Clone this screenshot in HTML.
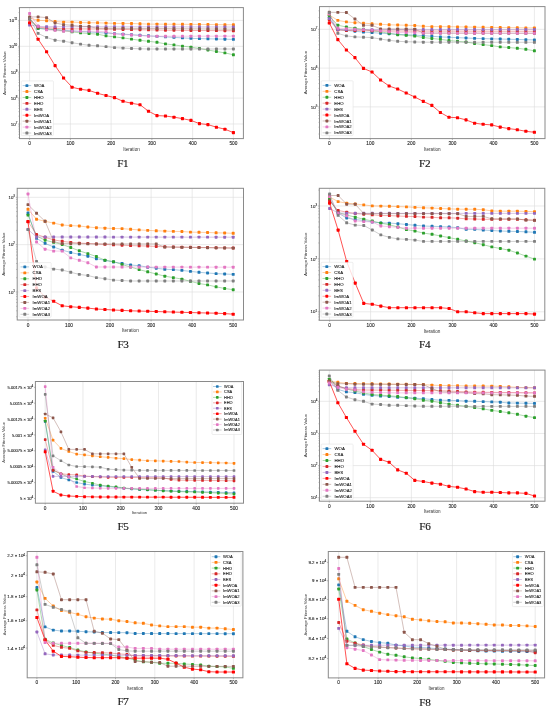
<!DOCTYPE html>
<html><head><meta charset="utf-8"><style>
html,body{margin:0;padding:0;background:#fff;width:550px;height:707px;overflow:hidden}
svg{display:block;will-change:transform}
.grid{stroke:#dcdcdc;stroke-width:0.6}
.frame{fill:none;stroke:#8a8a8a;stroke-width:1.0}
.tick{stroke:#8a8a8a;stroke-width:0.6}
.tl{font-family:"Liberation Sans",sans-serif;font-size:4.4px;fill:#222;stroke:#222;stroke-width:0.1}
.sup{font-size:3.0px}
.al{font-family:"Liberation Sans",sans-serif;font-size:4.5px;fill:#333}
.lt{font-family:"Liberation Sans",sans-serif;font-size:4.3px;fill:#111;stroke:#111;stroke-width:0.08}
.leg{fill:#fff;fill-opacity:0.8;stroke:#ddd;stroke-width:0.5}
.cap{font-family:"Liberation Serif",serif;font-size:11.2px;fill:#111;stroke:#111;stroke-width:0.14;letter-spacing:-0.3px}
</style></head>
<body><svg width="550" height="707" viewBox="0 0 550 707">
<line x1="29.6" y1="7.6" x2="29.6" y2="138.6" class="grid"/>
<line x1="70.36" y1="7.6" x2="70.36" y2="138.6" class="grid"/>
<line x1="111.12" y1="7.6" x2="111.12" y2="138.6" class="grid"/>
<line x1="151.88" y1="7.6" x2="151.88" y2="138.6" class="grid"/>
<line x1="192.64" y1="7.6" x2="192.64" y2="138.6" class="grid"/>
<line x1="233.4" y1="7.6" x2="233.4" y2="138.6" class="grid"/>
<line x1="19.5" y1="124" x2="243.4" y2="124" class="grid"/>
<line x1="19.5" y1="98.1" x2="243.4" y2="98.1" class="grid"/>
<line x1="19.5" y1="72.2" x2="243.4" y2="72.2" class="grid"/>
<line x1="19.5" y1="46.3" x2="243.4" y2="46.3" class="grid"/>
<line x1="19.5" y1="20.4" x2="243.4" y2="20.4" class="grid"/>
<polyline points="29.6,18.8 38.09,28.4 46.58,28.95 55.08,29.5 63.57,30.17 72.06,30.83 80.55,31.5 89.04,32.02 97.53,32.55 106.03,33.08 114.52,33.6 123.01,34.15 131.5,34.7 139.99,35.25 148.48,35.8 156.97,36.35 165.47,36.9 173.96,37.4 182.45,37.9 190.94,38.4 199.43,38.6 207.93,38.8 216.42,39 224.91,39.2 233.4,39.4" fill="none" stroke="#1f77b4" stroke-width="0.5" stroke-opacity="0.75" stroke-dasharray="none" stroke-dashoffset="0"/>
<rect x="28.15" y="17.35" width="2.9" height="2.9" rx="0.6" fill="#1f77b4"/>
<rect x="36.64" y="26.95" width="2.9" height="2.9" rx="0.6" fill="#1f77b4"/>
<rect x="45.13" y="27.5" width="2.9" height="2.9" rx="0.6" fill="#1f77b4"/>
<rect x="53.62" y="28.05" width="2.9" height="2.9" rx="0.6" fill="#1f77b4"/>
<rect x="62.12" y="28.72" width="2.9" height="2.9" rx="0.6" fill="#1f77b4"/>
<rect x="70.61" y="29.38" width="2.9" height="2.9" rx="0.6" fill="#1f77b4"/>
<rect x="79.1" y="30.05" width="2.9" height="2.9" rx="0.6" fill="#1f77b4"/>
<rect x="87.59" y="30.57" width="2.9" height="2.9" rx="0.6" fill="#1f77b4"/>
<rect x="96.08" y="31.1" width="2.9" height="2.9" rx="0.6" fill="#1f77b4"/>
<rect x="104.58" y="31.63" width="2.9" height="2.9" rx="0.6" fill="#1f77b4"/>
<rect x="113.07" y="32.15" width="2.9" height="2.9" rx="0.6" fill="#1f77b4"/>
<rect x="121.56" y="32.7" width="2.9" height="2.9" rx="0.6" fill="#1f77b4"/>
<rect x="130.05" y="33.25" width="2.9" height="2.9" rx="0.6" fill="#1f77b4"/>
<rect x="138.54" y="33.8" width="2.9" height="2.9" rx="0.6" fill="#1f77b4"/>
<rect x="147.03" y="34.35" width="2.9" height="2.9" rx="0.6" fill="#1f77b4"/>
<rect x="155.53" y="34.9" width="2.9" height="2.9" rx="0.6" fill="#1f77b4"/>
<rect x="164.02" y="35.45" width="2.9" height="2.9" rx="0.6" fill="#1f77b4"/>
<rect x="172.51" y="35.95" width="2.9" height="2.9" rx="0.6" fill="#1f77b4"/>
<rect x="181" y="36.45" width="2.9" height="2.9" rx="0.6" fill="#1f77b4"/>
<rect x="189.49" y="36.95" width="2.9" height="2.9" rx="0.6" fill="#1f77b4"/>
<rect x="197.98" y="37.15" width="2.9" height="2.9" rx="0.6" fill="#1f77b4"/>
<rect x="206.48" y="37.35" width="2.9" height="2.9" rx="0.6" fill="#1f77b4"/>
<rect x="214.97" y="37.55" width="2.9" height="2.9" rx="0.6" fill="#1f77b4"/>
<rect x="223.46" y="37.75" width="2.9" height="2.9" rx="0.6" fill="#1f77b4"/>
<rect x="231.95" y="37.95" width="2.9" height="2.9" rx="0.6" fill="#1f77b4"/>
<polyline points="29.6,18 38.09,20.3 46.58,20.7 55.08,21.5 63.57,22.1 72.06,22.1 80.55,22.5 89.04,22.7 97.53,22.8 106.03,23.1 114.52,23.4 123.01,23.45 131.5,23.5 139.99,23.8 148.48,24.1 156.97,24.15 165.47,24.2 173.96,24.25 182.45,24.3 190.94,24.35 199.43,24.4 207.93,24.5 216.42,24.6 224.91,24.7 233.4,24.8" fill="none" stroke="#ff7f0e" stroke-width="0.5" stroke-opacity="0.75" stroke-dasharray="none" stroke-dashoffset="0"/>
<rect x="28.15" y="16.55" width="2.9" height="2.9" rx="0.6" fill="#ff7f0e"/>
<rect x="36.64" y="18.85" width="2.9" height="2.9" rx="0.6" fill="#ff7f0e"/>
<rect x="45.13" y="19.25" width="2.9" height="2.9" rx="0.6" fill="#ff7f0e"/>
<rect x="53.62" y="20.05" width="2.9" height="2.9" rx="0.6" fill="#ff7f0e"/>
<rect x="62.12" y="20.65" width="2.9" height="2.9" rx="0.6" fill="#ff7f0e"/>
<rect x="70.61" y="20.65" width="2.9" height="2.9" rx="0.6" fill="#ff7f0e"/>
<rect x="79.1" y="21.05" width="2.9" height="2.9" rx="0.6" fill="#ff7f0e"/>
<rect x="87.59" y="21.25" width="2.9" height="2.9" rx="0.6" fill="#ff7f0e"/>
<rect x="96.08" y="21.35" width="2.9" height="2.9" rx="0.6" fill="#ff7f0e"/>
<rect x="104.58" y="21.65" width="2.9" height="2.9" rx="0.6" fill="#ff7f0e"/>
<rect x="113.07" y="21.95" width="2.9" height="2.9" rx="0.6" fill="#ff7f0e"/>
<rect x="121.56" y="22" width="2.9" height="2.9" rx="0.6" fill="#ff7f0e"/>
<rect x="130.05" y="22.05" width="2.9" height="2.9" rx="0.6" fill="#ff7f0e"/>
<rect x="138.54" y="22.35" width="2.9" height="2.9" rx="0.6" fill="#ff7f0e"/>
<rect x="147.03" y="22.65" width="2.9" height="2.9" rx="0.6" fill="#ff7f0e"/>
<rect x="155.53" y="22.7" width="2.9" height="2.9" rx="0.6" fill="#ff7f0e"/>
<rect x="164.02" y="22.75" width="2.9" height="2.9" rx="0.6" fill="#ff7f0e"/>
<rect x="172.51" y="22.8" width="2.9" height="2.9" rx="0.6" fill="#ff7f0e"/>
<rect x="181" y="22.85" width="2.9" height="2.9" rx="0.6" fill="#ff7f0e"/>
<rect x="189.49" y="22.9" width="2.9" height="2.9" rx="0.6" fill="#ff7f0e"/>
<rect x="197.98" y="22.95" width="2.9" height="2.9" rx="0.6" fill="#ff7f0e"/>
<rect x="206.48" y="23.05" width="2.9" height="2.9" rx="0.6" fill="#ff7f0e"/>
<rect x="214.97" y="23.15" width="2.9" height="2.9" rx="0.6" fill="#ff7f0e"/>
<rect x="223.46" y="23.25" width="2.9" height="2.9" rx="0.6" fill="#ff7f0e"/>
<rect x="231.95" y="23.35" width="2.9" height="2.9" rx="0.6" fill="#ff7f0e"/>
<polyline points="29.6,18.8 38.09,28.4 46.58,29.1 55.08,29.8 63.57,30.83 72.06,31.87 80.55,32.9 89.04,33.55 97.53,34.2 106.03,35.9 114.52,36.9 123.01,37.9 131.5,39.1 139.99,40.3 148.48,41.3 156.97,42.3 165.47,43.9 173.96,44.9 182.45,46.1 190.94,47.1 199.43,48.5 207.93,50 216.42,51.5 224.91,52.9 233.4,54.8" fill="none" stroke="#2ca02c" stroke-width="0.5" stroke-opacity="0.75" stroke-dasharray="none" stroke-dashoffset="0"/>
<rect x="28.15" y="17.35" width="2.9" height="2.9" rx="0.6" fill="#2ca02c"/>
<rect x="36.64" y="26.95" width="2.9" height="2.9" rx="0.6" fill="#2ca02c"/>
<rect x="45.13" y="27.65" width="2.9" height="2.9" rx="0.6" fill="#2ca02c"/>
<rect x="53.62" y="28.35" width="2.9" height="2.9" rx="0.6" fill="#2ca02c"/>
<rect x="62.12" y="29.38" width="2.9" height="2.9" rx="0.6" fill="#2ca02c"/>
<rect x="70.61" y="30.42" width="2.9" height="2.9" rx="0.6" fill="#2ca02c"/>
<rect x="79.1" y="31.45" width="2.9" height="2.9" rx="0.6" fill="#2ca02c"/>
<rect x="87.59" y="32.1" width="2.9" height="2.9" rx="0.6" fill="#2ca02c"/>
<rect x="96.08" y="32.75" width="2.9" height="2.9" rx="0.6" fill="#2ca02c"/>
<rect x="104.58" y="34.45" width="2.9" height="2.9" rx="0.6" fill="#2ca02c"/>
<rect x="113.07" y="35.45" width="2.9" height="2.9" rx="0.6" fill="#2ca02c"/>
<rect x="121.56" y="36.45" width="2.9" height="2.9" rx="0.6" fill="#2ca02c"/>
<rect x="130.05" y="37.65" width="2.9" height="2.9" rx="0.6" fill="#2ca02c"/>
<rect x="138.54" y="38.85" width="2.9" height="2.9" rx="0.6" fill="#2ca02c"/>
<rect x="147.03" y="39.85" width="2.9" height="2.9" rx="0.6" fill="#2ca02c"/>
<rect x="155.53" y="40.85" width="2.9" height="2.9" rx="0.6" fill="#2ca02c"/>
<rect x="164.02" y="42.45" width="2.9" height="2.9" rx="0.6" fill="#2ca02c"/>
<rect x="172.51" y="43.45" width="2.9" height="2.9" rx="0.6" fill="#2ca02c"/>
<rect x="181" y="44.65" width="2.9" height="2.9" rx="0.6" fill="#2ca02c"/>
<rect x="189.49" y="45.65" width="2.9" height="2.9" rx="0.6" fill="#2ca02c"/>
<rect x="197.98" y="47.05" width="2.9" height="2.9" rx="0.6" fill="#2ca02c"/>
<rect x="206.48" y="48.55" width="2.9" height="2.9" rx="0.6" fill="#2ca02c"/>
<rect x="214.97" y="50.05" width="2.9" height="2.9" rx="0.6" fill="#2ca02c"/>
<rect x="223.46" y="51.45" width="2.9" height="2.9" rx="0.6" fill="#2ca02c"/>
<rect x="231.95" y="53.35" width="2.9" height="2.9" rx="0.6" fill="#2ca02c"/>
<polyline points="29.6,19 38.09,27 46.58,27.8 55.08,28.3 63.57,28.8 72.06,28.85 80.55,28.9 89.04,28.95 97.53,29 106.03,29.15 114.52,29.3 123.01,29.45 131.5,29.6 139.99,29.75 148.48,29.9 156.97,30.05 165.47,30.2 173.96,30.27 182.45,30.35 190.94,30.43 199.43,30.5 207.93,30.57 216.42,30.65 224.91,30.73 233.4,30.8" fill="none" stroke="#d62728" stroke-width="0.5" stroke-opacity="0.75" stroke-dasharray="none" stroke-dashoffset="0"/>
<rect x="28.15" y="17.55" width="2.9" height="2.9" rx="0.6" fill="#d62728"/>
<rect x="36.64" y="25.55" width="2.9" height="2.9" rx="0.6" fill="#d62728"/>
<rect x="45.13" y="26.35" width="2.9" height="2.9" rx="0.6" fill="#d62728"/>
<rect x="53.62" y="26.85" width="2.9" height="2.9" rx="0.6" fill="#d62728"/>
<rect x="62.12" y="27.35" width="2.9" height="2.9" rx="0.6" fill="#d62728"/>
<rect x="70.61" y="27.4" width="2.9" height="2.9" rx="0.6" fill="#d62728"/>
<rect x="79.1" y="27.45" width="2.9" height="2.9" rx="0.6" fill="#d62728"/>
<rect x="87.59" y="27.5" width="2.9" height="2.9" rx="0.6" fill="#d62728"/>
<rect x="96.08" y="27.55" width="2.9" height="2.9" rx="0.6" fill="#d62728"/>
<rect x="104.58" y="27.7" width="2.9" height="2.9" rx="0.6" fill="#d62728"/>
<rect x="113.07" y="27.85" width="2.9" height="2.9" rx="0.6" fill="#d62728"/>
<rect x="121.56" y="28" width="2.9" height="2.9" rx="0.6" fill="#d62728"/>
<rect x="130.05" y="28.15" width="2.9" height="2.9" rx="0.6" fill="#d62728"/>
<rect x="138.54" y="28.3" width="2.9" height="2.9" rx="0.6" fill="#d62728"/>
<rect x="147.03" y="28.45" width="2.9" height="2.9" rx="0.6" fill="#d62728"/>
<rect x="155.53" y="28.6" width="2.9" height="2.9" rx="0.6" fill="#d62728"/>
<rect x="164.02" y="28.75" width="2.9" height="2.9" rx="0.6" fill="#d62728"/>
<rect x="172.51" y="28.82" width="2.9" height="2.9" rx="0.6" fill="#d62728"/>
<rect x="181" y="28.9" width="2.9" height="2.9" rx="0.6" fill="#d62728"/>
<rect x="189.49" y="28.98" width="2.9" height="2.9" rx="0.6" fill="#d62728"/>
<rect x="197.98" y="29.05" width="2.9" height="2.9" rx="0.6" fill="#d62728"/>
<rect x="206.48" y="29.12" width="2.9" height="2.9" rx="0.6" fill="#d62728"/>
<rect x="214.97" y="29.2" width="2.9" height="2.9" rx="0.6" fill="#d62728"/>
<rect x="223.46" y="29.28" width="2.9" height="2.9" rx="0.6" fill="#d62728"/>
<rect x="231.95" y="29.35" width="2.9" height="2.9" rx="0.6" fill="#d62728"/>
<polyline points="29.6,25.1 38.09,26.3 46.58,26.7 55.08,26.71 63.57,26.73 72.06,26.74 80.55,26.75 89.04,26.77 97.53,26.78 106.03,26.8 114.52,26.81 123.01,26.82 131.5,26.84 139.99,26.85 148.48,26.86 156.97,26.88 165.47,26.89 173.96,26.9 182.45,26.92 190.94,26.93 199.43,26.95 207.93,26.96 216.42,26.97 224.91,26.99 233.4,27" fill="none" stroke="#9467bd" stroke-width="0.5" stroke-opacity="0.75" stroke-dasharray="none" stroke-dashoffset="0"/>
<rect x="28.15" y="23.65" width="2.9" height="2.9" rx="0.6" fill="#9467bd"/>
<rect x="36.64" y="24.85" width="2.9" height="2.9" rx="0.6" fill="#9467bd"/>
<rect x="45.13" y="25.25" width="2.9" height="2.9" rx="0.6" fill="#9467bd"/>
<rect x="53.62" y="25.26" width="2.9" height="2.9" rx="0.6" fill="#9467bd"/>
<rect x="62.12" y="25.28" width="2.9" height="2.9" rx="0.6" fill="#9467bd"/>
<rect x="70.61" y="25.29" width="2.9" height="2.9" rx="0.6" fill="#9467bd"/>
<rect x="79.1" y="25.3" width="2.9" height="2.9" rx="0.6" fill="#9467bd"/>
<rect x="87.59" y="25.32" width="2.9" height="2.9" rx="0.6" fill="#9467bd"/>
<rect x="96.08" y="25.33" width="2.9" height="2.9" rx="0.6" fill="#9467bd"/>
<rect x="104.58" y="25.35" width="2.9" height="2.9" rx="0.6" fill="#9467bd"/>
<rect x="113.07" y="25.36" width="2.9" height="2.9" rx="0.6" fill="#9467bd"/>
<rect x="121.56" y="25.37" width="2.9" height="2.9" rx="0.6" fill="#9467bd"/>
<rect x="130.05" y="25.39" width="2.9" height="2.9" rx="0.6" fill="#9467bd"/>
<rect x="138.54" y="25.4" width="2.9" height="2.9" rx="0.6" fill="#9467bd"/>
<rect x="147.03" y="25.41" width="2.9" height="2.9" rx="0.6" fill="#9467bd"/>
<rect x="155.53" y="25.43" width="2.9" height="2.9" rx="0.6" fill="#9467bd"/>
<rect x="164.02" y="25.44" width="2.9" height="2.9" rx="0.6" fill="#9467bd"/>
<rect x="172.51" y="25.45" width="2.9" height="2.9" rx="0.6" fill="#9467bd"/>
<rect x="181" y="25.47" width="2.9" height="2.9" rx="0.6" fill="#9467bd"/>
<rect x="189.49" y="25.48" width="2.9" height="2.9" rx="0.6" fill="#9467bd"/>
<rect x="197.98" y="25.5" width="2.9" height="2.9" rx="0.6" fill="#9467bd"/>
<rect x="206.48" y="25.51" width="2.9" height="2.9" rx="0.6" fill="#9467bd"/>
<rect x="214.97" y="25.52" width="2.9" height="2.9" rx="0.6" fill="#9467bd"/>
<rect x="223.46" y="25.54" width="2.9" height="2.9" rx="0.6" fill="#9467bd"/>
<rect x="231.95" y="25.55" width="2.9" height="2.9" rx="0.6" fill="#9467bd"/>
<polyline points="29.6,22.7 38.09,39.2 46.58,51.8 55.08,65.6 63.57,78 72.06,87.2 80.55,89.3 89.04,90.4 97.53,93.3 106.03,95.5 114.52,97.6 123.01,101.3 131.5,103.3 139.99,104.7 148.48,111.2 156.97,115.6 165.47,116 173.96,117.2 182.45,118.6 190.94,120.4 199.43,123.6 207.93,124.6 216.42,127.2 224.91,129.2 233.4,132.6" fill="none" stroke="#ff0000" stroke-width="0.75" stroke-opacity="0.9"/>
<rect x="28.03" y="21.13" width="3.13" height="3.13" rx="0.6" fill="#ff0000"/>
<rect x="36.53" y="37.63" width="3.13" height="3.13" rx="0.6" fill="#ff0000"/>
<rect x="45.02" y="50.23" width="3.13" height="3.13" rx="0.6" fill="#ff0000"/>
<rect x="53.51" y="64.03" width="3.13" height="3.13" rx="0.6" fill="#ff0000"/>
<rect x="62" y="76.43" width="3.13" height="3.13" rx="0.6" fill="#ff0000"/>
<rect x="70.49" y="85.63" width="3.13" height="3.13" rx="0.6" fill="#ff0000"/>
<rect x="78.98" y="87.73" width="3.13" height="3.13" rx="0.6" fill="#ff0000"/>
<rect x="87.48" y="88.83" width="3.13" height="3.13" rx="0.6" fill="#ff0000"/>
<rect x="95.97" y="91.73" width="3.13" height="3.13" rx="0.6" fill="#ff0000"/>
<rect x="104.46" y="93.93" width="3.13" height="3.13" rx="0.6" fill="#ff0000"/>
<rect x="112.95" y="96.03" width="3.13" height="3.13" rx="0.6" fill="#ff0000"/>
<rect x="121.44" y="99.73" width="3.13" height="3.13" rx="0.6" fill="#ff0000"/>
<rect x="129.93" y="101.73" width="3.13" height="3.13" rx="0.6" fill="#ff0000"/>
<rect x="138.43" y="103.13" width="3.13" height="3.13" rx="0.6" fill="#ff0000"/>
<rect x="146.92" y="109.63" width="3.13" height="3.13" rx="0.6" fill="#ff0000"/>
<rect x="155.41" y="114.03" width="3.13" height="3.13" rx="0.6" fill="#ff0000"/>
<rect x="163.9" y="114.43" width="3.13" height="3.13" rx="0.6" fill="#ff0000"/>
<rect x="172.39" y="115.63" width="3.13" height="3.13" rx="0.6" fill="#ff0000"/>
<rect x="180.88" y="117.03" width="3.13" height="3.13" rx="0.6" fill="#ff0000"/>
<rect x="189.38" y="118.83" width="3.13" height="3.13" rx="0.6" fill="#ff0000"/>
<rect x="197.87" y="122.03" width="3.13" height="3.13" rx="0.6" fill="#ff0000"/>
<rect x="206.36" y="123.03" width="3.13" height="3.13" rx="0.6" fill="#ff0000"/>
<rect x="214.85" y="125.63" width="3.13" height="3.13" rx="0.6" fill="#ff0000"/>
<rect x="223.34" y="127.63" width="3.13" height="3.13" rx="0.6" fill="#ff0000"/>
<rect x="231.83" y="131.03" width="3.13" height="3.13" rx="0.6" fill="#ff0000"/>
<polyline points="29.6,16.9 38.09,16.9 46.58,17.6 55.08,23 63.57,24.6 72.06,25.3 80.55,26.3 89.04,26.5 97.53,28.3 106.03,28.34 114.52,28.38 123.01,28.41 131.5,28.45 139.99,28.49 148.48,28.53 156.97,28.56 165.47,28.6 173.96,28.68 182.45,28.75 190.94,28.82 199.43,28.9 207.93,28.98 216.42,29.05 224.91,29.12 233.4,29.2" fill="none" stroke="#8c564b" stroke-width="0.5" stroke-opacity="0.75" stroke-dasharray="none" stroke-dashoffset="0"/>
<rect x="28.15" y="15.45" width="2.9" height="2.9" rx="0.6" fill="#8c564b"/>
<rect x="36.64" y="15.45" width="2.9" height="2.9" rx="0.6" fill="#8c564b"/>
<rect x="45.13" y="16.15" width="2.9" height="2.9" rx="0.6" fill="#8c564b"/>
<rect x="53.62" y="21.55" width="2.9" height="2.9" rx="0.6" fill="#8c564b"/>
<rect x="62.12" y="23.15" width="2.9" height="2.9" rx="0.6" fill="#8c564b"/>
<rect x="70.61" y="23.85" width="2.9" height="2.9" rx="0.6" fill="#8c564b"/>
<rect x="79.1" y="24.85" width="2.9" height="2.9" rx="0.6" fill="#8c564b"/>
<rect x="87.59" y="25.05" width="2.9" height="2.9" rx="0.6" fill="#8c564b"/>
<rect x="96.08" y="26.85" width="2.9" height="2.9" rx="0.6" fill="#8c564b"/>
<rect x="104.58" y="26.89" width="2.9" height="2.9" rx="0.6" fill="#8c564b"/>
<rect x="113.07" y="26.93" width="2.9" height="2.9" rx="0.6" fill="#8c564b"/>
<rect x="121.56" y="26.96" width="2.9" height="2.9" rx="0.6" fill="#8c564b"/>
<rect x="130.05" y="27" width="2.9" height="2.9" rx="0.6" fill="#8c564b"/>
<rect x="138.54" y="27.04" width="2.9" height="2.9" rx="0.6" fill="#8c564b"/>
<rect x="147.03" y="27.08" width="2.9" height="2.9" rx="0.6" fill="#8c564b"/>
<rect x="155.53" y="27.11" width="2.9" height="2.9" rx="0.6" fill="#8c564b"/>
<rect x="164.02" y="27.15" width="2.9" height="2.9" rx="0.6" fill="#8c564b"/>
<rect x="172.51" y="27.23" width="2.9" height="2.9" rx="0.6" fill="#8c564b"/>
<rect x="181" y="27.3" width="2.9" height="2.9" rx="0.6" fill="#8c564b"/>
<rect x="189.49" y="27.38" width="2.9" height="2.9" rx="0.6" fill="#8c564b"/>
<rect x="197.98" y="27.45" width="2.9" height="2.9" rx="0.6" fill="#8c564b"/>
<rect x="206.48" y="27.53" width="2.9" height="2.9" rx="0.6" fill="#8c564b"/>
<rect x="214.97" y="27.6" width="2.9" height="2.9" rx="0.6" fill="#8c564b"/>
<rect x="223.46" y="27.68" width="2.9" height="2.9" rx="0.6" fill="#8c564b"/>
<rect x="231.95" y="27.75" width="2.9" height="2.9" rx="0.6" fill="#8c564b"/>
<polyline points="29.6,13.5 38.09,26.3 46.58,29.9 55.08,30.4 63.57,31.2 72.06,31.23 80.55,31.25 89.04,31.27 97.53,31.3 106.03,31.8 114.52,34 123.01,34.5 131.5,35 139.99,35.6 148.48,36.2 156.97,36.2 165.47,36.2 173.96,36.2 182.45,36.2 190.94,36.2 199.43,36.2 207.93,36.2 216.42,36.2 224.91,36.2 233.4,36.2" fill="none" stroke="#e377c2" stroke-width="0.5" stroke-opacity="0.75" stroke-dasharray="none" stroke-dashoffset="0"/>
<rect x="28.15" y="12.05" width="2.9" height="2.9" rx="0.6" fill="#e377c2"/>
<rect x="36.64" y="24.85" width="2.9" height="2.9" rx="0.6" fill="#e377c2"/>
<rect x="45.13" y="28.45" width="2.9" height="2.9" rx="0.6" fill="#e377c2"/>
<rect x="53.62" y="28.95" width="2.9" height="2.9" rx="0.6" fill="#e377c2"/>
<rect x="62.12" y="29.75" width="2.9" height="2.9" rx="0.6" fill="#e377c2"/>
<rect x="70.61" y="29.78" width="2.9" height="2.9" rx="0.6" fill="#e377c2"/>
<rect x="79.1" y="29.8" width="2.9" height="2.9" rx="0.6" fill="#e377c2"/>
<rect x="87.59" y="29.82" width="2.9" height="2.9" rx="0.6" fill="#e377c2"/>
<rect x="96.08" y="29.85" width="2.9" height="2.9" rx="0.6" fill="#e377c2"/>
<rect x="104.58" y="30.35" width="2.9" height="2.9" rx="0.6" fill="#e377c2"/>
<rect x="113.07" y="32.55" width="2.9" height="2.9" rx="0.6" fill="#e377c2"/>
<rect x="121.56" y="33.05" width="2.9" height="2.9" rx="0.6" fill="#e377c2"/>
<rect x="130.05" y="33.55" width="2.9" height="2.9" rx="0.6" fill="#e377c2"/>
<rect x="138.54" y="34.15" width="2.9" height="2.9" rx="0.6" fill="#e377c2"/>
<rect x="147.03" y="34.75" width="2.9" height="2.9" rx="0.6" fill="#e377c2"/>
<rect x="155.53" y="34.75" width="2.9" height="2.9" rx="0.6" fill="#e377c2"/>
<rect x="164.02" y="34.75" width="2.9" height="2.9" rx="0.6" fill="#e377c2"/>
<rect x="172.51" y="34.75" width="2.9" height="2.9" rx="0.6" fill="#e377c2"/>
<rect x="181" y="34.75" width="2.9" height="2.9" rx="0.6" fill="#e377c2"/>
<rect x="189.49" y="34.75" width="2.9" height="2.9" rx="0.6" fill="#e377c2"/>
<rect x="197.98" y="34.75" width="2.9" height="2.9" rx="0.6" fill="#e377c2"/>
<rect x="206.48" y="34.75" width="2.9" height="2.9" rx="0.6" fill="#e377c2"/>
<rect x="214.97" y="34.75" width="2.9" height="2.9" rx="0.6" fill="#e377c2"/>
<rect x="223.46" y="34.75" width="2.9" height="2.9" rx="0.6" fill="#e377c2"/>
<rect x="231.95" y="34.75" width="2.9" height="2.9" rx="0.6" fill="#e377c2"/>
<polyline points="29.6,18.8 38.09,33.4 46.58,37.4 55.08,40.2 63.57,41.2 72.06,42.7 80.55,44.1 89.04,45.3 97.53,45.8 106.03,46.6 114.52,47.6 123.01,48.1 131.5,48.5 139.99,48.75 148.48,49 156.97,49 165.47,49 173.96,49 182.45,49 190.94,49 199.43,49 207.93,49 216.42,49 224.91,49 233.4,49" fill="none" stroke="#7f7f7f" stroke-width="0.5" stroke-opacity="0.75" stroke-dasharray="none" stroke-dashoffset="0"/>
<rect x="28.15" y="17.35" width="2.9" height="2.9" rx="0.6" fill="#7f7f7f"/>
<rect x="36.64" y="31.95" width="2.9" height="2.9" rx="0.6" fill="#7f7f7f"/>
<rect x="45.13" y="35.95" width="2.9" height="2.9" rx="0.6" fill="#7f7f7f"/>
<rect x="53.62" y="38.75" width="2.9" height="2.9" rx="0.6" fill="#7f7f7f"/>
<rect x="62.12" y="39.75" width="2.9" height="2.9" rx="0.6" fill="#7f7f7f"/>
<rect x="70.61" y="41.25" width="2.9" height="2.9" rx="0.6" fill="#7f7f7f"/>
<rect x="79.1" y="42.65" width="2.9" height="2.9" rx="0.6" fill="#7f7f7f"/>
<rect x="87.59" y="43.85" width="2.9" height="2.9" rx="0.6" fill="#7f7f7f"/>
<rect x="96.08" y="44.35" width="2.9" height="2.9" rx="0.6" fill="#7f7f7f"/>
<rect x="104.58" y="45.15" width="2.9" height="2.9" rx="0.6" fill="#7f7f7f"/>
<rect x="113.07" y="46.15" width="2.9" height="2.9" rx="0.6" fill="#7f7f7f"/>
<rect x="121.56" y="46.65" width="2.9" height="2.9" rx="0.6" fill="#7f7f7f"/>
<rect x="130.05" y="47.05" width="2.9" height="2.9" rx="0.6" fill="#7f7f7f"/>
<rect x="138.54" y="47.3" width="2.9" height="2.9" rx="0.6" fill="#7f7f7f"/>
<rect x="147.03" y="47.55" width="2.9" height="2.9" rx="0.6" fill="#7f7f7f"/>
<rect x="155.53" y="47.55" width="2.9" height="2.9" rx="0.6" fill="#7f7f7f"/>
<rect x="164.02" y="47.55" width="2.9" height="2.9" rx="0.6" fill="#7f7f7f"/>
<rect x="172.51" y="47.55" width="2.9" height="2.9" rx="0.6" fill="#7f7f7f"/>
<rect x="181" y="47.55" width="2.9" height="2.9" rx="0.6" fill="#7f7f7f"/>
<rect x="189.49" y="47.55" width="2.9" height="2.9" rx="0.6" fill="#7f7f7f"/>
<rect x="197.98" y="47.55" width="2.9" height="2.9" rx="0.6" fill="#7f7f7f"/>
<rect x="206.48" y="47.55" width="2.9" height="2.9" rx="0.6" fill="#7f7f7f"/>
<rect x="214.97" y="47.55" width="2.9" height="2.9" rx="0.6" fill="#7f7f7f"/>
<rect x="223.46" y="47.55" width="2.9" height="2.9" rx="0.6" fill="#7f7f7f"/>
<rect x="231.95" y="47.55" width="2.9" height="2.9" rx="0.6" fill="#7f7f7f"/>
<rect x="19.5" y="7.6" width="223.9" height="131" class="frame"/>
<line x1="29.6" y1="138.6" x2="29.6" y2="140" class="tick"/>
<text x="29.6" y="145.1" class="tl" style="font-size:4.75px" text-anchor="middle">0</text>
<line x1="70.36" y1="138.6" x2="70.36" y2="140" class="tick"/>
<text x="70.36" y="145.1" class="tl" style="font-size:4.75px" text-anchor="middle">100</text>
<line x1="111.12" y1="138.6" x2="111.12" y2="140" class="tick"/>
<text x="111.12" y="145.1" class="tl" style="font-size:4.75px" text-anchor="middle">200</text>
<line x1="151.88" y1="138.6" x2="151.88" y2="140" class="tick"/>
<text x="151.88" y="145.1" class="tl" style="font-size:4.75px" text-anchor="middle">300</text>
<line x1="192.64" y1="138.6" x2="192.64" y2="140" class="tick"/>
<text x="192.64" y="145.1" class="tl" style="font-size:4.75px" text-anchor="middle">400</text>
<line x1="233.4" y1="138.6" x2="233.4" y2="140" class="tick"/>
<text x="233.4" y="145.1" class="tl" style="font-size:4.75px" text-anchor="middle">500</text>
<line x1="18.1" y1="124" x2="19.5" y2="124" class="tick"/>
<text x="17.3" y="125.6" class="tl" style="font-size:4.4px" text-anchor="end">10<tspan class="sup" dy="-1.8">7</tspan></text>
<line x1="18.1" y1="98.1" x2="19.5" y2="98.1" class="tick"/>
<text x="17.3" y="99.7" class="tl" style="font-size:4.4px" text-anchor="end">10<tspan class="sup" dy="-1.8">8</tspan></text>
<line x1="18.1" y1="72.2" x2="19.5" y2="72.2" class="tick"/>
<text x="17.3" y="73.8" class="tl" style="font-size:4.4px" text-anchor="end">10<tspan class="sup" dy="-1.8">9</tspan></text>
<line x1="18.1" y1="46.3" x2="19.5" y2="46.3" class="tick"/>
<text x="17.3" y="47.9" class="tl" style="font-size:4.4px" text-anchor="end">10<tspan class="sup" dy="-1.8">10</tspan></text>
<line x1="18.1" y1="20.4" x2="19.5" y2="20.4" class="tick"/>
<text x="17.3" y="22" class="tl" style="font-size:4.4px" text-anchor="end">10<tspan class="sup" dy="-1.8">11</tspan></text>
<line x1="18.5" y1="137.54" x2="19.5" y2="137.54" class="tick"/>
<line x1="18.5" y1="134.31" x2="19.5" y2="134.31" class="tick"/>
<line x1="18.5" y1="131.8" x2="19.5" y2="131.8" class="tick"/>
<line x1="18.5" y1="129.75" x2="19.5" y2="129.75" class="tick"/>
<line x1="18.5" y1="128.01" x2="19.5" y2="128.01" class="tick"/>
<line x1="18.5" y1="126.51" x2="19.5" y2="126.51" class="tick"/>
<line x1="18.5" y1="125.19" x2="19.5" y2="125.19" class="tick"/>
<line x1="18.5" y1="116.2" x2="19.5" y2="116.2" class="tick"/>
<line x1="18.5" y1="111.64" x2="19.5" y2="111.64" class="tick"/>
<line x1="18.5" y1="108.41" x2="19.5" y2="108.41" class="tick"/>
<line x1="18.5" y1="105.9" x2="19.5" y2="105.9" class="tick"/>
<line x1="18.5" y1="103.85" x2="19.5" y2="103.85" class="tick"/>
<line x1="18.5" y1="102.11" x2="19.5" y2="102.11" class="tick"/>
<line x1="18.5" y1="100.61" x2="19.5" y2="100.61" class="tick"/>
<line x1="18.5" y1="99.29" x2="19.5" y2="99.29" class="tick"/>
<line x1="18.5" y1="90.3" x2="19.5" y2="90.3" class="tick"/>
<line x1="18.5" y1="85.74" x2="19.5" y2="85.74" class="tick"/>
<line x1="18.5" y1="82.51" x2="19.5" y2="82.51" class="tick"/>
<line x1="18.5" y1="80" x2="19.5" y2="80" class="tick"/>
<line x1="18.5" y1="77.95" x2="19.5" y2="77.95" class="tick"/>
<line x1="18.5" y1="76.21" x2="19.5" y2="76.21" class="tick"/>
<line x1="18.5" y1="74.71" x2="19.5" y2="74.71" class="tick"/>
<line x1="18.5" y1="73.39" x2="19.5" y2="73.39" class="tick"/>
<line x1="18.5" y1="64.4" x2="19.5" y2="64.4" class="tick"/>
<line x1="18.5" y1="59.84" x2="19.5" y2="59.84" class="tick"/>
<line x1="18.5" y1="56.61" x2="19.5" y2="56.61" class="tick"/>
<line x1="18.5" y1="54.1" x2="19.5" y2="54.1" class="tick"/>
<line x1="18.5" y1="52.05" x2="19.5" y2="52.05" class="tick"/>
<line x1="18.5" y1="50.31" x2="19.5" y2="50.31" class="tick"/>
<line x1="18.5" y1="48.81" x2="19.5" y2="48.81" class="tick"/>
<line x1="18.5" y1="47.49" x2="19.5" y2="47.49" class="tick"/>
<line x1="18.5" y1="38.5" x2="19.5" y2="38.5" class="tick"/>
<line x1="18.5" y1="33.94" x2="19.5" y2="33.94" class="tick"/>
<line x1="18.5" y1="30.71" x2="19.5" y2="30.71" class="tick"/>
<line x1="18.5" y1="28.2" x2="19.5" y2="28.2" class="tick"/>
<line x1="18.5" y1="26.15" x2="19.5" y2="26.15" class="tick"/>
<line x1="18.5" y1="24.41" x2="19.5" y2="24.41" class="tick"/>
<line x1="18.5" y1="22.91" x2="19.5" y2="22.91" class="tick"/>
<line x1="18.5" y1="21.59" x2="19.5" y2="21.59" class="tick"/>
<line x1="18.5" y1="12.6" x2="19.5" y2="12.6" class="tick"/>
<line x1="18.5" y1="8.04" x2="19.5" y2="8.04" class="tick"/>
<text x="131.45" y="150.8" class="al" style="font-size:4.6px" text-anchor="middle">Iteration</text>
<text transform="translate(4.2,73.1) rotate(-90)" class="al" style="font-size:4.4px" text-anchor="middle" dy="1.4">Average Fitness Value</text>
<rect x="21.3" y="80.9" width="32.1" height="54.7" rx="0.8" class="leg"/>
<line x1="22.6" y1="85.6" x2="31.2" y2="85.6" stroke="#1f77b4" stroke-width="0.5" stroke-opacity="0.75"/>
<rect x="25.45" y="84.15" width="2.9" height="2.9" rx="0.6" fill="#1f77b4"/>
<text x="34.1" y="87.15" class="lt" style="font-size:4.3px">WOA</text>
<line x1="22.6" y1="91.53" x2="31.2" y2="91.53" stroke="#ff7f0e" stroke-width="0.5" stroke-opacity="0.75"/>
<rect x="25.45" y="90.08" width="2.9" height="2.9" rx="0.6" fill="#ff7f0e"/>
<text x="34.1" y="93.08" class="lt" style="font-size:4.3px">CSA</text>
<line x1="22.6" y1="97.46" x2="31.2" y2="97.46" stroke="#2ca02c" stroke-width="0.5" stroke-opacity="0.75"/>
<rect x="25.45" y="96.01" width="2.9" height="2.9" rx="0.6" fill="#2ca02c"/>
<text x="34.1" y="99.01" class="lt" style="font-size:4.3px">HHO</text>
<line x1="22.6" y1="103.39" x2="31.2" y2="103.39" stroke="#d62728" stroke-width="0.5" stroke-opacity="0.75"/>
<rect x="25.45" y="101.94" width="2.9" height="2.9" rx="0.6" fill="#d62728"/>
<text x="34.1" y="104.94" class="lt" style="font-size:4.3px">EHO</text>
<line x1="22.6" y1="109.32" x2="31.2" y2="109.32" stroke="#9467bd" stroke-width="0.5" stroke-opacity="0.75"/>
<rect x="25.45" y="107.87" width="2.9" height="2.9" rx="0.6" fill="#9467bd"/>
<text x="34.1" y="110.87" class="lt" style="font-size:4.3px">BES</text>
<line x1="22.6" y1="115.25" x2="31.2" y2="115.25" stroke="#ff0000" stroke-width="0.5" stroke-opacity="0.75"/>
<rect x="25.45" y="113.8" width="2.9" height="2.9" rx="0.6" fill="#ff0000"/>
<text x="34.1" y="116.8" class="lt" style="font-size:4.3px">ImWOA</text>
<line x1="22.6" y1="121.18" x2="31.2" y2="121.18" stroke="#8c564b" stroke-width="0.5" stroke-opacity="0.75"/>
<rect x="25.45" y="119.73" width="2.9" height="2.9" rx="0.6" fill="#8c564b"/>
<text x="34.1" y="122.73" class="lt" style="font-size:4.3px">ImWOA1</text>
<line x1="22.6" y1="127.11" x2="31.2" y2="127.11" stroke="#e377c2" stroke-width="0.5" stroke-opacity="0.75"/>
<rect x="25.45" y="125.66" width="2.9" height="2.9" rx="0.6" fill="#e377c2"/>
<text x="34.1" y="128.66" class="lt" style="font-size:4.3px">ImWOA2</text>
<line x1="22.6" y1="133.04" x2="31.2" y2="133.04" stroke="#7f7f7f" stroke-width="0.5" stroke-opacity="0.75"/>
<rect x="25.45" y="131.59" width="2.9" height="2.9" rx="0.6" fill="#7f7f7f"/>
<text x="34.1" y="134.59" class="lt" style="font-size:4.3px">ImWOA3</text>
<text x="122.8" y="167.2" class="cap" text-anchor="middle">F1</text>
<line x1="329.3" y1="6.6" x2="329.3" y2="138.6" class="grid"/>
<line x1="370.32" y1="6.6" x2="370.32" y2="138.6" class="grid"/>
<line x1="411.34" y1="6.6" x2="411.34" y2="138.6" class="grid"/>
<line x1="452.36" y1="6.6" x2="452.36" y2="138.6" class="grid"/>
<line x1="493.38" y1="6.6" x2="493.38" y2="138.6" class="grid"/>
<line x1="534.4" y1="6.6" x2="534.4" y2="138.6" class="grid"/>
<line x1="319.5" y1="106.9" x2="545" y2="106.9" class="grid"/>
<line x1="319.5" y1="68.1" x2="545" y2="68.1" class="grid"/>
<line x1="319.5" y1="29.3" x2="545" y2="29.3" class="grid"/>
<polyline points="329.3,18.2 337.85,29.6 346.39,30.43 354.94,31.27 363.48,32.1 372.03,32.65 380.57,33.2 389.12,33.75 397.67,34.3 406.21,34.73 414.76,35.17 423.3,35.6 431.85,36.25 440.4,36.9 448.94,37.27 457.49,37.65 466.03,38.02 474.58,38.4 483.12,38.61 491.67,38.83 500.22,39.04 508.76,39.26 517.31,39.47 525.85,39.69 534.4,39.9" fill="none" stroke="#1f77b4" stroke-width="0.5" stroke-opacity="0.75" stroke-dasharray="none" stroke-dashoffset="0"/>
<rect x="327.85" y="16.75" width="2.9" height="2.9" rx="0.6" fill="#1f77b4"/>
<rect x="336.4" y="28.15" width="2.9" height="2.9" rx="0.6" fill="#1f77b4"/>
<rect x="344.94" y="28.98" width="2.9" height="2.9" rx="0.6" fill="#1f77b4"/>
<rect x="353.49" y="29.82" width="2.9" height="2.9" rx="0.6" fill="#1f77b4"/>
<rect x="362.03" y="30.65" width="2.9" height="2.9" rx="0.6" fill="#1f77b4"/>
<rect x="370.58" y="31.2" width="2.9" height="2.9" rx="0.6" fill="#1f77b4"/>
<rect x="379.12" y="31.75" width="2.9" height="2.9" rx="0.6" fill="#1f77b4"/>
<rect x="387.67" y="32.3" width="2.9" height="2.9" rx="0.6" fill="#1f77b4"/>
<rect x="396.22" y="32.85" width="2.9" height="2.9" rx="0.6" fill="#1f77b4"/>
<rect x="404.76" y="33.28" width="2.9" height="2.9" rx="0.6" fill="#1f77b4"/>
<rect x="413.31" y="33.72" width="2.9" height="2.9" rx="0.6" fill="#1f77b4"/>
<rect x="421.85" y="34.15" width="2.9" height="2.9" rx="0.6" fill="#1f77b4"/>
<rect x="430.4" y="34.8" width="2.9" height="2.9" rx="0.6" fill="#1f77b4"/>
<rect x="438.95" y="35.45" width="2.9" height="2.9" rx="0.6" fill="#1f77b4"/>
<rect x="447.49" y="35.82" width="2.9" height="2.9" rx="0.6" fill="#1f77b4"/>
<rect x="456.04" y="36.2" width="2.9" height="2.9" rx="0.6" fill="#1f77b4"/>
<rect x="464.58" y="36.57" width="2.9" height="2.9" rx="0.6" fill="#1f77b4"/>
<rect x="473.13" y="36.95" width="2.9" height="2.9" rx="0.6" fill="#1f77b4"/>
<rect x="481.68" y="37.16" width="2.9" height="2.9" rx="0.6" fill="#1f77b4"/>
<rect x="490.22" y="37.38" width="2.9" height="2.9" rx="0.6" fill="#1f77b4"/>
<rect x="498.77" y="37.59" width="2.9" height="2.9" rx="0.6" fill="#1f77b4"/>
<rect x="507.31" y="37.81" width="2.9" height="2.9" rx="0.6" fill="#1f77b4"/>
<rect x="515.86" y="38.02" width="2.9" height="2.9" rx="0.6" fill="#1f77b4"/>
<rect x="524.4" y="38.24" width="2.9" height="2.9" rx="0.6" fill="#1f77b4"/>
<rect x="532.95" y="38.45" width="2.9" height="2.9" rx="0.6" fill="#1f77b4"/>
<polyline points="329.3,15.1 337.85,20.4 346.39,21.9 354.94,22.7 363.48,23.1 372.03,23.8 380.57,24.3 389.12,24.8 397.67,25 406.21,25.25 414.76,25.5 423.3,26.3 431.85,26.6 440.4,26.65 448.94,26.7 457.49,26.85 466.03,27 474.58,27.2 483.12,27.3 491.67,27.4 500.22,27.5 508.76,27.62 517.31,27.75 525.85,27.88 534.4,28" fill="none" stroke="#ff7f0e" stroke-width="0.5" stroke-opacity="0.75" stroke-dasharray="none" stroke-dashoffset="0"/>
<rect x="327.85" y="13.65" width="2.9" height="2.9" rx="0.6" fill="#ff7f0e"/>
<rect x="336.4" y="18.95" width="2.9" height="2.9" rx="0.6" fill="#ff7f0e"/>
<rect x="344.94" y="20.45" width="2.9" height="2.9" rx="0.6" fill="#ff7f0e"/>
<rect x="353.49" y="21.25" width="2.9" height="2.9" rx="0.6" fill="#ff7f0e"/>
<rect x="362.03" y="21.65" width="2.9" height="2.9" rx="0.6" fill="#ff7f0e"/>
<rect x="370.58" y="22.35" width="2.9" height="2.9" rx="0.6" fill="#ff7f0e"/>
<rect x="379.12" y="22.85" width="2.9" height="2.9" rx="0.6" fill="#ff7f0e"/>
<rect x="387.67" y="23.35" width="2.9" height="2.9" rx="0.6" fill="#ff7f0e"/>
<rect x="396.22" y="23.55" width="2.9" height="2.9" rx="0.6" fill="#ff7f0e"/>
<rect x="404.76" y="23.8" width="2.9" height="2.9" rx="0.6" fill="#ff7f0e"/>
<rect x="413.31" y="24.05" width="2.9" height="2.9" rx="0.6" fill="#ff7f0e"/>
<rect x="421.85" y="24.85" width="2.9" height="2.9" rx="0.6" fill="#ff7f0e"/>
<rect x="430.4" y="25.15" width="2.9" height="2.9" rx="0.6" fill="#ff7f0e"/>
<rect x="438.95" y="25.2" width="2.9" height="2.9" rx="0.6" fill="#ff7f0e"/>
<rect x="447.49" y="25.25" width="2.9" height="2.9" rx="0.6" fill="#ff7f0e"/>
<rect x="456.04" y="25.4" width="2.9" height="2.9" rx="0.6" fill="#ff7f0e"/>
<rect x="464.58" y="25.55" width="2.9" height="2.9" rx="0.6" fill="#ff7f0e"/>
<rect x="473.13" y="25.75" width="2.9" height="2.9" rx="0.6" fill="#ff7f0e"/>
<rect x="481.68" y="25.85" width="2.9" height="2.9" rx="0.6" fill="#ff7f0e"/>
<rect x="490.22" y="25.95" width="2.9" height="2.9" rx="0.6" fill="#ff7f0e"/>
<rect x="498.77" y="26.05" width="2.9" height="2.9" rx="0.6" fill="#ff7f0e"/>
<rect x="507.31" y="26.18" width="2.9" height="2.9" rx="0.6" fill="#ff7f0e"/>
<rect x="515.86" y="26.3" width="2.9" height="2.9" rx="0.6" fill="#ff7f0e"/>
<rect x="524.4" y="26.43" width="2.9" height="2.9" rx="0.6" fill="#ff7f0e"/>
<rect x="532.95" y="26.55" width="2.9" height="2.9" rx="0.6" fill="#ff7f0e"/>
<polyline points="329.3,16.2 337.85,25.2 346.39,27 354.94,28.2 363.48,29.3 372.03,30.8 380.57,31.8 389.12,33.3 397.67,34.7 406.21,35.4 414.76,36.1 423.3,37.5 431.85,38.5 440.4,39.3 448.94,40.5 457.49,41.3 466.03,42 474.58,43.5 483.12,44.6 491.67,45.6 500.22,46.9 508.76,47.5 517.31,48.3 525.85,49.3 534.4,50.8" fill="none" stroke="#2ca02c" stroke-width="0.5" stroke-opacity="0.75" stroke-dasharray="none" stroke-dashoffset="0"/>
<rect x="327.85" y="14.75" width="2.9" height="2.9" rx="0.6" fill="#2ca02c"/>
<rect x="336.4" y="23.75" width="2.9" height="2.9" rx="0.6" fill="#2ca02c"/>
<rect x="344.94" y="25.55" width="2.9" height="2.9" rx="0.6" fill="#2ca02c"/>
<rect x="353.49" y="26.75" width="2.9" height="2.9" rx="0.6" fill="#2ca02c"/>
<rect x="362.03" y="27.85" width="2.9" height="2.9" rx="0.6" fill="#2ca02c"/>
<rect x="370.58" y="29.35" width="2.9" height="2.9" rx="0.6" fill="#2ca02c"/>
<rect x="379.12" y="30.35" width="2.9" height="2.9" rx="0.6" fill="#2ca02c"/>
<rect x="387.67" y="31.85" width="2.9" height="2.9" rx="0.6" fill="#2ca02c"/>
<rect x="396.22" y="33.25" width="2.9" height="2.9" rx="0.6" fill="#2ca02c"/>
<rect x="404.76" y="33.95" width="2.9" height="2.9" rx="0.6" fill="#2ca02c"/>
<rect x="413.31" y="34.65" width="2.9" height="2.9" rx="0.6" fill="#2ca02c"/>
<rect x="421.85" y="36.05" width="2.9" height="2.9" rx="0.6" fill="#2ca02c"/>
<rect x="430.4" y="37.05" width="2.9" height="2.9" rx="0.6" fill="#2ca02c"/>
<rect x="438.95" y="37.85" width="2.9" height="2.9" rx="0.6" fill="#2ca02c"/>
<rect x="447.49" y="39.05" width="2.9" height="2.9" rx="0.6" fill="#2ca02c"/>
<rect x="456.04" y="39.85" width="2.9" height="2.9" rx="0.6" fill="#2ca02c"/>
<rect x="464.58" y="40.55" width="2.9" height="2.9" rx="0.6" fill="#2ca02c"/>
<rect x="473.13" y="42.05" width="2.9" height="2.9" rx="0.6" fill="#2ca02c"/>
<rect x="481.68" y="43.15" width="2.9" height="2.9" rx="0.6" fill="#2ca02c"/>
<rect x="490.22" y="44.15" width="2.9" height="2.9" rx="0.6" fill="#2ca02c"/>
<rect x="498.77" y="45.45" width="2.9" height="2.9" rx="0.6" fill="#2ca02c"/>
<rect x="507.31" y="46.05" width="2.9" height="2.9" rx="0.6" fill="#2ca02c"/>
<rect x="515.86" y="46.85" width="2.9" height="2.9" rx="0.6" fill="#2ca02c"/>
<rect x="524.4" y="47.85" width="2.9" height="2.9" rx="0.6" fill="#2ca02c"/>
<rect x="532.95" y="49.35" width="2.9" height="2.9" rx="0.6" fill="#2ca02c"/>
<polyline points="329.3,20 337.85,30 346.39,30.5 354.94,30.58 363.48,30.67 372.03,30.75 380.57,30.83 389.12,30.92 397.67,31 406.21,31.02 414.76,31.04 423.3,31.06 431.85,31.07 440.4,31.09 448.94,31.11 457.49,31.13 466.03,31.15 474.58,31.17 483.12,31.19 491.67,31.21 500.22,31.23 508.76,31.24 517.31,31.26 525.85,31.28 534.4,31.3" fill="none" stroke="#d62728" stroke-width="0.5" stroke-opacity="0.75" stroke-dasharray="none" stroke-dashoffset="0"/>
<rect x="327.85" y="18.55" width="2.9" height="2.9" rx="0.6" fill="#d62728"/>
<rect x="336.4" y="28.55" width="2.9" height="2.9" rx="0.6" fill="#d62728"/>
<rect x="344.94" y="29.05" width="2.9" height="2.9" rx="0.6" fill="#d62728"/>
<rect x="353.49" y="29.13" width="2.9" height="2.9" rx="0.6" fill="#d62728"/>
<rect x="362.03" y="29.22" width="2.9" height="2.9" rx="0.6" fill="#d62728"/>
<rect x="370.58" y="29.3" width="2.9" height="2.9" rx="0.6" fill="#d62728"/>
<rect x="379.12" y="29.38" width="2.9" height="2.9" rx="0.6" fill="#d62728"/>
<rect x="387.67" y="29.47" width="2.9" height="2.9" rx="0.6" fill="#d62728"/>
<rect x="396.22" y="29.55" width="2.9" height="2.9" rx="0.6" fill="#d62728"/>
<rect x="404.76" y="29.57" width="2.9" height="2.9" rx="0.6" fill="#d62728"/>
<rect x="413.31" y="29.59" width="2.9" height="2.9" rx="0.6" fill="#d62728"/>
<rect x="421.85" y="29.61" width="2.9" height="2.9" rx="0.6" fill="#d62728"/>
<rect x="430.4" y="29.62" width="2.9" height="2.9" rx="0.6" fill="#d62728"/>
<rect x="438.95" y="29.64" width="2.9" height="2.9" rx="0.6" fill="#d62728"/>
<rect x="447.49" y="29.66" width="2.9" height="2.9" rx="0.6" fill="#d62728"/>
<rect x="456.04" y="29.68" width="2.9" height="2.9" rx="0.6" fill="#d62728"/>
<rect x="464.58" y="29.7" width="2.9" height="2.9" rx="0.6" fill="#d62728"/>
<rect x="473.13" y="29.72" width="2.9" height="2.9" rx="0.6" fill="#d62728"/>
<rect x="481.68" y="29.74" width="2.9" height="2.9" rx="0.6" fill="#d62728"/>
<rect x="490.22" y="29.76" width="2.9" height="2.9" rx="0.6" fill="#d62728"/>
<rect x="498.77" y="29.78" width="2.9" height="2.9" rx="0.6" fill="#d62728"/>
<rect x="507.31" y="29.79" width="2.9" height="2.9" rx="0.6" fill="#d62728"/>
<rect x="515.86" y="29.81" width="2.9" height="2.9" rx="0.6" fill="#d62728"/>
<rect x="524.4" y="29.83" width="2.9" height="2.9" rx="0.6" fill="#d62728"/>
<rect x="532.95" y="29.85" width="2.9" height="2.9" rx="0.6" fill="#d62728"/>
<polyline points="329.3,18.6 337.85,29.6 346.39,29.6 354.94,29.59 363.48,29.59 372.03,29.58 380.57,29.58 389.12,29.57 397.67,29.57 406.21,29.57 414.76,29.56 423.3,29.56 431.85,29.55 440.4,29.55 448.94,29.54 457.49,29.54 466.03,29.53 474.58,29.53 483.12,29.53 491.67,29.52 500.22,29.52 508.76,29.51 517.31,29.51 525.85,29.5 534.4,29.5" fill="none" stroke="#9467bd" stroke-width="0.5" stroke-opacity="0.75" stroke-dasharray="none" stroke-dashoffset="0"/>
<rect x="327.85" y="17.15" width="2.9" height="2.9" rx="0.6" fill="#9467bd"/>
<rect x="336.4" y="28.15" width="2.9" height="2.9" rx="0.6" fill="#9467bd"/>
<rect x="344.94" y="28.15" width="2.9" height="2.9" rx="0.6" fill="#9467bd"/>
<rect x="353.49" y="28.14" width="2.9" height="2.9" rx="0.6" fill="#9467bd"/>
<rect x="362.03" y="28.14" width="2.9" height="2.9" rx="0.6" fill="#9467bd"/>
<rect x="370.58" y="28.13" width="2.9" height="2.9" rx="0.6" fill="#9467bd"/>
<rect x="379.12" y="28.13" width="2.9" height="2.9" rx="0.6" fill="#9467bd"/>
<rect x="387.67" y="28.12" width="2.9" height="2.9" rx="0.6" fill="#9467bd"/>
<rect x="396.22" y="28.12" width="2.9" height="2.9" rx="0.6" fill="#9467bd"/>
<rect x="404.76" y="28.12" width="2.9" height="2.9" rx="0.6" fill="#9467bd"/>
<rect x="413.31" y="28.11" width="2.9" height="2.9" rx="0.6" fill="#9467bd"/>
<rect x="421.85" y="28.11" width="2.9" height="2.9" rx="0.6" fill="#9467bd"/>
<rect x="430.4" y="28.1" width="2.9" height="2.9" rx="0.6" fill="#9467bd"/>
<rect x="438.95" y="28.1" width="2.9" height="2.9" rx="0.6" fill="#9467bd"/>
<rect x="447.49" y="28.09" width="2.9" height="2.9" rx="0.6" fill="#9467bd"/>
<rect x="456.04" y="28.09" width="2.9" height="2.9" rx="0.6" fill="#9467bd"/>
<rect x="464.58" y="28.08" width="2.9" height="2.9" rx="0.6" fill="#9467bd"/>
<rect x="473.13" y="28.08" width="2.9" height="2.9" rx="0.6" fill="#9467bd"/>
<rect x="481.68" y="28.08" width="2.9" height="2.9" rx="0.6" fill="#9467bd"/>
<rect x="490.22" y="28.07" width="2.9" height="2.9" rx="0.6" fill="#9467bd"/>
<rect x="498.77" y="28.07" width="2.9" height="2.9" rx="0.6" fill="#9467bd"/>
<rect x="507.31" y="28.06" width="2.9" height="2.9" rx="0.6" fill="#9467bd"/>
<rect x="515.86" y="28.06" width="2.9" height="2.9" rx="0.6" fill="#9467bd"/>
<rect x="524.4" y="28.05" width="2.9" height="2.9" rx="0.6" fill="#9467bd"/>
<rect x="532.95" y="28.05" width="2.9" height="2.9" rx="0.6" fill="#9467bd"/>
<polyline points="329.3,23 337.85,39.6 346.39,50 354.94,57.6 363.48,68.4 372.03,72 380.57,80 389.12,86 397.67,89 406.21,93 414.76,97 423.3,101.4 431.85,105.4 440.4,112.5 448.94,117.3 457.49,117.7 466.03,119.9 474.58,123.2 483.12,124.3 491.67,124.9 500.22,127.1 508.76,128.6 517.31,129.7 525.85,131.3 534.4,132.3" fill="none" stroke="#ff0000" stroke-width="0.75" stroke-opacity="0.9"/>
<rect x="327.73" y="21.43" width="3.13" height="3.13" rx="0.6" fill="#ff0000"/>
<rect x="336.28" y="38.03" width="3.13" height="3.13" rx="0.6" fill="#ff0000"/>
<rect x="344.83" y="48.43" width="3.13" height="3.13" rx="0.6" fill="#ff0000"/>
<rect x="353.37" y="56.03" width="3.13" height="3.13" rx="0.6" fill="#ff0000"/>
<rect x="361.92" y="66.83" width="3.13" height="3.13" rx="0.6" fill="#ff0000"/>
<rect x="370.46" y="70.43" width="3.13" height="3.13" rx="0.6" fill="#ff0000"/>
<rect x="379.01" y="78.43" width="3.13" height="3.13" rx="0.6" fill="#ff0000"/>
<rect x="387.55" y="84.43" width="3.13" height="3.13" rx="0.6" fill="#ff0000"/>
<rect x="396.1" y="87.43" width="3.13" height="3.13" rx="0.6" fill="#ff0000"/>
<rect x="404.65" y="91.43" width="3.13" height="3.13" rx="0.6" fill="#ff0000"/>
<rect x="413.19" y="95.43" width="3.13" height="3.13" rx="0.6" fill="#ff0000"/>
<rect x="421.74" y="99.83" width="3.13" height="3.13" rx="0.6" fill="#ff0000"/>
<rect x="430.28" y="103.83" width="3.13" height="3.13" rx="0.6" fill="#ff0000"/>
<rect x="438.83" y="110.93" width="3.13" height="3.13" rx="0.6" fill="#ff0000"/>
<rect x="447.38" y="115.73" width="3.13" height="3.13" rx="0.6" fill="#ff0000"/>
<rect x="455.92" y="116.13" width="3.13" height="3.13" rx="0.6" fill="#ff0000"/>
<rect x="464.47" y="118.33" width="3.13" height="3.13" rx="0.6" fill="#ff0000"/>
<rect x="473.01" y="121.63" width="3.13" height="3.13" rx="0.6" fill="#ff0000"/>
<rect x="481.56" y="122.73" width="3.13" height="3.13" rx="0.6" fill="#ff0000"/>
<rect x="490.1" y="123.33" width="3.13" height="3.13" rx="0.6" fill="#ff0000"/>
<rect x="498.65" y="125.53" width="3.13" height="3.13" rx="0.6" fill="#ff0000"/>
<rect x="507.2" y="127.03" width="3.13" height="3.13" rx="0.6" fill="#ff0000"/>
<rect x="515.74" y="128.13" width="3.13" height="3.13" rx="0.6" fill="#ff0000"/>
<rect x="524.29" y="129.73" width="3.13" height="3.13" rx="0.6" fill="#ff0000"/>
<rect x="532.83" y="130.73" width="3.13" height="3.13" rx="0.6" fill="#ff0000"/>
<polyline points="329.3,12.3 337.85,12.4 346.39,12.5 354.94,19 363.48,25.3 372.03,25.3 380.57,28.9 389.12,28.95 397.67,29 406.21,29.05 414.76,29.1 423.3,33.1 431.85,33.12 440.4,33.13 448.94,33.15 457.49,33.16 466.03,33.18 474.58,33.19 483.12,33.21 491.67,33.22 500.22,33.24 508.76,33.25 517.31,33.27 525.85,33.28 534.4,33.3" fill="none" stroke="#8c564b" stroke-width="0.5" stroke-opacity="0.75" stroke-dasharray="none" stroke-dashoffset="0"/>
<rect x="327.85" y="10.85" width="2.9" height="2.9" rx="0.6" fill="#8c564b"/>
<rect x="336.4" y="10.95" width="2.9" height="2.9" rx="0.6" fill="#8c564b"/>
<rect x="344.94" y="11.05" width="2.9" height="2.9" rx="0.6" fill="#8c564b"/>
<rect x="353.49" y="17.55" width="2.9" height="2.9" rx="0.6" fill="#8c564b"/>
<rect x="362.03" y="23.85" width="2.9" height="2.9" rx="0.6" fill="#8c564b"/>
<rect x="370.58" y="23.85" width="2.9" height="2.9" rx="0.6" fill="#8c564b"/>
<rect x="379.12" y="27.45" width="2.9" height="2.9" rx="0.6" fill="#8c564b"/>
<rect x="387.67" y="27.5" width="2.9" height="2.9" rx="0.6" fill="#8c564b"/>
<rect x="396.22" y="27.55" width="2.9" height="2.9" rx="0.6" fill="#8c564b"/>
<rect x="404.76" y="27.6" width="2.9" height="2.9" rx="0.6" fill="#8c564b"/>
<rect x="413.31" y="27.65" width="2.9" height="2.9" rx="0.6" fill="#8c564b"/>
<rect x="421.85" y="31.65" width="2.9" height="2.9" rx="0.6" fill="#8c564b"/>
<rect x="430.4" y="31.67" width="2.9" height="2.9" rx="0.6" fill="#8c564b"/>
<rect x="438.95" y="31.68" width="2.9" height="2.9" rx="0.6" fill="#8c564b"/>
<rect x="447.49" y="31.7" width="2.9" height="2.9" rx="0.6" fill="#8c564b"/>
<rect x="456.04" y="31.71" width="2.9" height="2.9" rx="0.6" fill="#8c564b"/>
<rect x="464.58" y="31.73" width="2.9" height="2.9" rx="0.6" fill="#8c564b"/>
<rect x="473.13" y="31.74" width="2.9" height="2.9" rx="0.6" fill="#8c564b"/>
<rect x="481.68" y="31.76" width="2.9" height="2.9" rx="0.6" fill="#8c564b"/>
<rect x="490.22" y="31.77" width="2.9" height="2.9" rx="0.6" fill="#8c564b"/>
<rect x="498.77" y="31.79" width="2.9" height="2.9" rx="0.6" fill="#8c564b"/>
<rect x="507.31" y="31.8" width="2.9" height="2.9" rx="0.6" fill="#8c564b"/>
<rect x="515.86" y="31.82" width="2.9" height="2.9" rx="0.6" fill="#8c564b"/>
<rect x="524.4" y="31.83" width="2.9" height="2.9" rx="0.6" fill="#8c564b"/>
<rect x="532.95" y="31.85" width="2.9" height="2.9" rx="0.6" fill="#8c564b"/>
<polyline points="329.3,14.1 337.85,28.3 346.39,28.6 354.94,29.3 363.48,29.6 372.03,30.33 380.57,31.05 389.12,31.77 397.67,32.5 406.21,32.6 414.76,32.7 423.3,33.1 431.85,33.12 440.4,33.13 448.94,33.15 457.49,33.16 466.03,33.18 474.58,33.19 483.12,33.21 491.67,33.22 500.22,33.24 508.76,33.25 517.31,33.27 525.85,33.28 534.4,33.3" fill="none" stroke="#e377c2" stroke-width="0.5" stroke-opacity="0.75" stroke-dasharray="none" stroke-dashoffset="0"/>
<rect x="327.85" y="12.65" width="2.9" height="2.9" rx="0.6" fill="#e377c2"/>
<rect x="336.4" y="26.85" width="2.9" height="2.9" rx="0.6" fill="#e377c2"/>
<rect x="344.94" y="27.15" width="2.9" height="2.9" rx="0.6" fill="#e377c2"/>
<rect x="353.49" y="27.85" width="2.9" height="2.9" rx="0.6" fill="#e377c2"/>
<rect x="362.03" y="28.15" width="2.9" height="2.9" rx="0.6" fill="#e377c2"/>
<rect x="370.58" y="28.88" width="2.9" height="2.9" rx="0.6" fill="#e377c2"/>
<rect x="379.12" y="29.6" width="2.9" height="2.9" rx="0.6" fill="#e377c2"/>
<rect x="387.67" y="30.32" width="2.9" height="2.9" rx="0.6" fill="#e377c2"/>
<rect x="396.22" y="31.05" width="2.9" height="2.9" rx="0.6" fill="#e377c2"/>
<rect x="404.76" y="31.15" width="2.9" height="2.9" rx="0.6" fill="#e377c2"/>
<rect x="413.31" y="31.25" width="2.9" height="2.9" rx="0.6" fill="#e377c2"/>
<rect x="421.85" y="31.65" width="2.9" height="2.9" rx="0.6" fill="#e377c2"/>
<rect x="430.4" y="31.67" width="2.9" height="2.9" rx="0.6" fill="#e377c2"/>
<rect x="438.95" y="31.68" width="2.9" height="2.9" rx="0.6" fill="#e377c2"/>
<rect x="447.49" y="31.7" width="2.9" height="2.9" rx="0.6" fill="#e377c2"/>
<rect x="456.04" y="31.71" width="2.9" height="2.9" rx="0.6" fill="#e377c2"/>
<rect x="464.58" y="31.73" width="2.9" height="2.9" rx="0.6" fill="#e377c2"/>
<rect x="473.13" y="31.74" width="2.9" height="2.9" rx="0.6" fill="#e377c2"/>
<rect x="481.68" y="31.76" width="2.9" height="2.9" rx="0.6" fill="#e377c2"/>
<rect x="490.22" y="31.77" width="2.9" height="2.9" rx="0.6" fill="#e377c2"/>
<rect x="498.77" y="31.79" width="2.9" height="2.9" rx="0.6" fill="#e377c2"/>
<rect x="507.31" y="31.8" width="2.9" height="2.9" rx="0.6" fill="#e377c2"/>
<rect x="515.86" y="31.82" width="2.9" height="2.9" rx="0.6" fill="#e377c2"/>
<rect x="524.4" y="31.83" width="2.9" height="2.9" rx="0.6" fill="#e377c2"/>
<rect x="532.95" y="31.85" width="2.9" height="2.9" rx="0.6" fill="#e377c2"/>
<polyline points="329.3,12.6 337.85,33.4 346.39,35.9 354.94,36.9 363.48,37.2 372.03,37.6 380.57,39.1 389.12,40.3 397.67,41.3 406.21,41.7 414.76,41.95 423.3,42.2 431.85,42.21 440.4,42.22 448.94,42.22 457.49,42.23 466.03,42.24 474.58,42.25 483.12,42.25 491.67,42.26 500.22,42.27 508.76,42.28 517.31,42.28 525.85,42.29 534.4,42.3" fill="none" stroke="#7f7f7f" stroke-width="0.5" stroke-opacity="0.75" stroke-dasharray="none" stroke-dashoffset="0"/>
<rect x="327.85" y="11.15" width="2.9" height="2.9" rx="0.6" fill="#7f7f7f"/>
<rect x="336.4" y="31.95" width="2.9" height="2.9" rx="0.6" fill="#7f7f7f"/>
<rect x="344.94" y="34.45" width="2.9" height="2.9" rx="0.6" fill="#7f7f7f"/>
<rect x="353.49" y="35.45" width="2.9" height="2.9" rx="0.6" fill="#7f7f7f"/>
<rect x="362.03" y="35.75" width="2.9" height="2.9" rx="0.6" fill="#7f7f7f"/>
<rect x="370.58" y="36.15" width="2.9" height="2.9" rx="0.6" fill="#7f7f7f"/>
<rect x="379.12" y="37.65" width="2.9" height="2.9" rx="0.6" fill="#7f7f7f"/>
<rect x="387.67" y="38.85" width="2.9" height="2.9" rx="0.6" fill="#7f7f7f"/>
<rect x="396.22" y="39.85" width="2.9" height="2.9" rx="0.6" fill="#7f7f7f"/>
<rect x="404.76" y="40.25" width="2.9" height="2.9" rx="0.6" fill="#7f7f7f"/>
<rect x="413.31" y="40.5" width="2.9" height="2.9" rx="0.6" fill="#7f7f7f"/>
<rect x="421.85" y="40.75" width="2.9" height="2.9" rx="0.6" fill="#7f7f7f"/>
<rect x="430.4" y="40.76" width="2.9" height="2.9" rx="0.6" fill="#7f7f7f"/>
<rect x="438.95" y="40.77" width="2.9" height="2.9" rx="0.6" fill="#7f7f7f"/>
<rect x="447.49" y="40.77" width="2.9" height="2.9" rx="0.6" fill="#7f7f7f"/>
<rect x="456.04" y="40.78" width="2.9" height="2.9" rx="0.6" fill="#7f7f7f"/>
<rect x="464.58" y="40.79" width="2.9" height="2.9" rx="0.6" fill="#7f7f7f"/>
<rect x="473.13" y="40.8" width="2.9" height="2.9" rx="0.6" fill="#7f7f7f"/>
<rect x="481.68" y="40.8" width="2.9" height="2.9" rx="0.6" fill="#7f7f7f"/>
<rect x="490.22" y="40.81" width="2.9" height="2.9" rx="0.6" fill="#7f7f7f"/>
<rect x="498.77" y="40.82" width="2.9" height="2.9" rx="0.6" fill="#7f7f7f"/>
<rect x="507.31" y="40.83" width="2.9" height="2.9" rx="0.6" fill="#7f7f7f"/>
<rect x="515.86" y="40.83" width="2.9" height="2.9" rx="0.6" fill="#7f7f7f"/>
<rect x="524.4" y="40.84" width="2.9" height="2.9" rx="0.6" fill="#7f7f7f"/>
<rect x="532.95" y="40.85" width="2.9" height="2.9" rx="0.6" fill="#7f7f7f"/>
<rect x="319.5" y="6.6" width="225.5" height="132" class="frame"/>
<line x1="329.3" y1="138.6" x2="329.3" y2="140" class="tick"/>
<text x="329.3" y="145.1" class="tl" style="font-size:4.75px" text-anchor="middle">0</text>
<line x1="370.32" y1="138.6" x2="370.32" y2="140" class="tick"/>
<text x="370.32" y="145.1" class="tl" style="font-size:4.75px" text-anchor="middle">100</text>
<line x1="411.34" y1="138.6" x2="411.34" y2="140" class="tick"/>
<text x="411.34" y="145.1" class="tl" style="font-size:4.75px" text-anchor="middle">200</text>
<line x1="452.36" y1="138.6" x2="452.36" y2="140" class="tick"/>
<text x="452.36" y="145.1" class="tl" style="font-size:4.75px" text-anchor="middle">300</text>
<line x1="493.38" y1="138.6" x2="493.38" y2="140" class="tick"/>
<text x="493.38" y="145.1" class="tl" style="font-size:4.75px" text-anchor="middle">400</text>
<line x1="534.4" y1="138.6" x2="534.4" y2="140" class="tick"/>
<text x="534.4" y="145.1" class="tl" style="font-size:4.75px" text-anchor="middle">500</text>
<line x1="318.1" y1="106.9" x2="319.5" y2="106.9" class="tick"/>
<text x="317.3" y="108.5" class="tl" style="font-size:4.4px" text-anchor="end">10<tspan class="sup" dy="-1.8">5</tspan></text>
<line x1="318.1" y1="68.1" x2="319.5" y2="68.1" class="tick"/>
<text x="317.3" y="69.7" class="tl" style="font-size:4.4px" text-anchor="end">10<tspan class="sup" dy="-1.8">6</tspan></text>
<line x1="318.1" y1="29.3" x2="319.5" y2="29.3" class="tick"/>
<text x="317.3" y="30.9" class="tl" style="font-size:4.4px" text-anchor="end">10<tspan class="sup" dy="-1.8">7</tspan></text>
<line x1="318.5" y1="134.02" x2="319.5" y2="134.02" class="tick"/>
<line x1="318.5" y1="127.19" x2="319.5" y2="127.19" class="tick"/>
<line x1="318.5" y1="122.34" x2="319.5" y2="122.34" class="tick"/>
<line x1="318.5" y1="118.58" x2="319.5" y2="118.58" class="tick"/>
<line x1="318.5" y1="115.51" x2="319.5" y2="115.51" class="tick"/>
<line x1="318.5" y1="112.91" x2="319.5" y2="112.91" class="tick"/>
<line x1="318.5" y1="110.66" x2="319.5" y2="110.66" class="tick"/>
<line x1="318.5" y1="108.68" x2="319.5" y2="108.68" class="tick"/>
<line x1="318.5" y1="95.22" x2="319.5" y2="95.22" class="tick"/>
<line x1="318.5" y1="88.39" x2="319.5" y2="88.39" class="tick"/>
<line x1="318.5" y1="83.54" x2="319.5" y2="83.54" class="tick"/>
<line x1="318.5" y1="79.78" x2="319.5" y2="79.78" class="tick"/>
<line x1="318.5" y1="76.71" x2="319.5" y2="76.71" class="tick"/>
<line x1="318.5" y1="74.11" x2="319.5" y2="74.11" class="tick"/>
<line x1="318.5" y1="71.86" x2="319.5" y2="71.86" class="tick"/>
<line x1="318.5" y1="69.88" x2="319.5" y2="69.88" class="tick"/>
<line x1="318.5" y1="56.42" x2="319.5" y2="56.42" class="tick"/>
<line x1="318.5" y1="49.59" x2="319.5" y2="49.59" class="tick"/>
<line x1="318.5" y1="44.74" x2="319.5" y2="44.74" class="tick"/>
<line x1="318.5" y1="40.98" x2="319.5" y2="40.98" class="tick"/>
<line x1="318.5" y1="37.91" x2="319.5" y2="37.91" class="tick"/>
<line x1="318.5" y1="35.31" x2="319.5" y2="35.31" class="tick"/>
<line x1="318.5" y1="33.06" x2="319.5" y2="33.06" class="tick"/>
<line x1="318.5" y1="31.08" x2="319.5" y2="31.08" class="tick"/>
<line x1="318.5" y1="17.62" x2="319.5" y2="17.62" class="tick"/>
<line x1="318.5" y1="10.79" x2="319.5" y2="10.79" class="tick"/>
<text x="432.25" y="150.8" class="al" style="font-size:4.65px" text-anchor="middle">Iteration</text>
<text transform="translate(305.5,72.6) rotate(-90)" class="al" style="font-size:4.35px" text-anchor="middle" dy="1.4">Average Fitness Value</text>
<rect x="321.2" y="80.8" width="31.9" height="54.8" rx="0.8" class="leg"/>
<line x1="322.6" y1="85.4" x2="331.2" y2="85.4" stroke="#1f77b4" stroke-width="0.5" stroke-opacity="0.75"/>
<rect x="325.45" y="83.95" width="2.9" height="2.9" rx="0.6" fill="#1f77b4"/>
<text x="334.3" y="86.95" class="lt" style="font-size:4.3px">WOA</text>
<line x1="322.6" y1="91.33" x2="331.2" y2="91.33" stroke="#ff7f0e" stroke-width="0.5" stroke-opacity="0.75"/>
<rect x="325.45" y="89.88" width="2.9" height="2.9" rx="0.6" fill="#ff7f0e"/>
<text x="334.3" y="92.88" class="lt" style="font-size:4.3px">CSA</text>
<line x1="322.6" y1="97.26" x2="331.2" y2="97.26" stroke="#2ca02c" stroke-width="0.5" stroke-opacity="0.75"/>
<rect x="325.45" y="95.81" width="2.9" height="2.9" rx="0.6" fill="#2ca02c"/>
<text x="334.3" y="98.81" class="lt" style="font-size:4.3px">HHO</text>
<line x1="322.6" y1="103.19" x2="331.2" y2="103.19" stroke="#d62728" stroke-width="0.5" stroke-opacity="0.75"/>
<rect x="325.45" y="101.74" width="2.9" height="2.9" rx="0.6" fill="#d62728"/>
<text x="334.3" y="104.74" class="lt" style="font-size:4.3px">EHO</text>
<line x1="322.6" y1="109.12" x2="331.2" y2="109.12" stroke="#9467bd" stroke-width="0.5" stroke-opacity="0.75"/>
<rect x="325.45" y="107.67" width="2.9" height="2.9" rx="0.6" fill="#9467bd"/>
<text x="334.3" y="110.67" class="lt" style="font-size:4.3px">BES</text>
<line x1="322.6" y1="115.05" x2="331.2" y2="115.05" stroke="#ff0000" stroke-width="0.5" stroke-opacity="0.75"/>
<rect x="325.45" y="113.6" width="2.9" height="2.9" rx="0.6" fill="#ff0000"/>
<text x="334.3" y="116.6" class="lt" style="font-size:4.3px">ImWOA</text>
<line x1="322.6" y1="120.98" x2="331.2" y2="120.98" stroke="#8c564b" stroke-width="0.5" stroke-opacity="0.75"/>
<rect x="325.45" y="119.53" width="2.9" height="2.9" rx="0.6" fill="#8c564b"/>
<text x="334.3" y="122.53" class="lt" style="font-size:4.3px">ImWOA1</text>
<line x1="322.6" y1="126.91" x2="331.2" y2="126.91" stroke="#e377c2" stroke-width="0.5" stroke-opacity="0.75"/>
<rect x="325.45" y="125.46" width="2.9" height="2.9" rx="0.6" fill="#e377c2"/>
<text x="334.3" y="128.46" class="lt" style="font-size:4.3px">ImWOA2</text>
<line x1="322.6" y1="132.84" x2="331.2" y2="132.84" stroke="#7f7f7f" stroke-width="0.5" stroke-opacity="0.75"/>
<rect x="325.45" y="131.39" width="2.9" height="2.9" rx="0.6" fill="#7f7f7f"/>
<text x="334.3" y="134.39" class="lt" style="font-size:4.3px">ImWOA3</text>
<text x="424.7" y="167.2" class="cap" text-anchor="middle">F2</text>
<line x1="28" y1="188.3" x2="28" y2="320" class="grid"/>
<line x1="69.04" y1="188.3" x2="69.04" y2="320" class="grid"/>
<line x1="110.08" y1="188.3" x2="110.08" y2="320" class="grid"/>
<line x1="151.12" y1="188.3" x2="151.12" y2="320" class="grid"/>
<line x1="192.16" y1="188.3" x2="192.16" y2="320" class="grid"/>
<line x1="233.2" y1="188.3" x2="233.2" y2="320" class="grid"/>
<line x1="17.2" y1="292" x2="243.5" y2="292" class="grid"/>
<line x1="17.2" y1="244.65" x2="243.5" y2="244.65" class="grid"/>
<line x1="17.2" y1="197.3" x2="243.5" y2="197.3" class="grid"/>
<polyline points="28,212.9 36.55,238.4 45.1,243.4 53.65,247 62.2,250.1 70.75,252.5 79.3,254.4 87.85,256.2 96.4,258.7 104.95,260.35 113.5,262 122.05,263.4 130.6,265 139.15,265.7 147.7,267.2 156.25,268.2 164.8,269.3 173.35,269.6 181.9,270.4 190.45,271.4 199,272.3 207.55,273 216.1,273.6 224.65,274 233.2,274.4" fill="none" stroke="#1f77b4" stroke-width="0.5" stroke-opacity="0.75" stroke-dasharray="none" stroke-dashoffset="0"/>
<rect x="26.55" y="211.45" width="2.9" height="2.9" rx="0.6" fill="#1f77b4"/>
<rect x="35.1" y="236.95" width="2.9" height="2.9" rx="0.6" fill="#1f77b4"/>
<rect x="43.65" y="241.95" width="2.9" height="2.9" rx="0.6" fill="#1f77b4"/>
<rect x="52.2" y="245.55" width="2.9" height="2.9" rx="0.6" fill="#1f77b4"/>
<rect x="60.75" y="248.65" width="2.9" height="2.9" rx="0.6" fill="#1f77b4"/>
<rect x="69.3" y="251.05" width="2.9" height="2.9" rx="0.6" fill="#1f77b4"/>
<rect x="77.85" y="252.95" width="2.9" height="2.9" rx="0.6" fill="#1f77b4"/>
<rect x="86.4" y="254.75" width="2.9" height="2.9" rx="0.6" fill="#1f77b4"/>
<rect x="94.95" y="257.25" width="2.9" height="2.9" rx="0.6" fill="#1f77b4"/>
<rect x="103.5" y="258.9" width="2.9" height="2.9" rx="0.6" fill="#1f77b4"/>
<rect x="112.05" y="260.55" width="2.9" height="2.9" rx="0.6" fill="#1f77b4"/>
<rect x="120.6" y="261.95" width="2.9" height="2.9" rx="0.6" fill="#1f77b4"/>
<rect x="129.15" y="263.55" width="2.9" height="2.9" rx="0.6" fill="#1f77b4"/>
<rect x="137.7" y="264.25" width="2.9" height="2.9" rx="0.6" fill="#1f77b4"/>
<rect x="146.25" y="265.75" width="2.9" height="2.9" rx="0.6" fill="#1f77b4"/>
<rect x="154.8" y="266.75" width="2.9" height="2.9" rx="0.6" fill="#1f77b4"/>
<rect x="163.35" y="267.85" width="2.9" height="2.9" rx="0.6" fill="#1f77b4"/>
<rect x="171.9" y="268.15" width="2.9" height="2.9" rx="0.6" fill="#1f77b4"/>
<rect x="180.45" y="268.95" width="2.9" height="2.9" rx="0.6" fill="#1f77b4"/>
<rect x="189" y="269.95" width="2.9" height="2.9" rx="0.6" fill="#1f77b4"/>
<rect x="197.55" y="270.85" width="2.9" height="2.9" rx="0.6" fill="#1f77b4"/>
<rect x="206.1" y="271.55" width="2.9" height="2.9" rx="0.6" fill="#1f77b4"/>
<rect x="214.65" y="272.15" width="2.9" height="2.9" rx="0.6" fill="#1f77b4"/>
<rect x="223.2" y="272.55" width="2.9" height="2.9" rx="0.6" fill="#1f77b4"/>
<rect x="231.75" y="272.95" width="2.9" height="2.9" rx="0.6" fill="#1f77b4"/>
<polyline points="28,209.3 36.55,219.2 45.1,221.3 53.65,223.1 62.2,225 70.75,225.6 79.3,226 87.85,227 96.4,227.7 104.95,228.2 113.5,228.5 122.05,228.6 130.6,229.3 139.15,229.9 147.7,230.4 156.25,230.8 164.8,231.1 173.35,231.4 181.9,231.5 190.45,232.1 199,232.3 207.55,232.5 216.1,232.8 224.65,233 233.2,233.3" fill="none" stroke="#ff7f0e" stroke-width="0.5" stroke-opacity="0.75" stroke-dasharray="none" stroke-dashoffset="0"/>
<rect x="26.55" y="207.85" width="2.9" height="2.9" rx="0.6" fill="#ff7f0e"/>
<rect x="35.1" y="217.75" width="2.9" height="2.9" rx="0.6" fill="#ff7f0e"/>
<rect x="43.65" y="219.85" width="2.9" height="2.9" rx="0.6" fill="#ff7f0e"/>
<rect x="52.2" y="221.65" width="2.9" height="2.9" rx="0.6" fill="#ff7f0e"/>
<rect x="60.75" y="223.55" width="2.9" height="2.9" rx="0.6" fill="#ff7f0e"/>
<rect x="69.3" y="224.15" width="2.9" height="2.9" rx="0.6" fill="#ff7f0e"/>
<rect x="77.85" y="224.55" width="2.9" height="2.9" rx="0.6" fill="#ff7f0e"/>
<rect x="86.4" y="225.55" width="2.9" height="2.9" rx="0.6" fill="#ff7f0e"/>
<rect x="94.95" y="226.25" width="2.9" height="2.9" rx="0.6" fill="#ff7f0e"/>
<rect x="103.5" y="226.75" width="2.9" height="2.9" rx="0.6" fill="#ff7f0e"/>
<rect x="112.05" y="227.05" width="2.9" height="2.9" rx="0.6" fill="#ff7f0e"/>
<rect x="120.6" y="227.15" width="2.9" height="2.9" rx="0.6" fill="#ff7f0e"/>
<rect x="129.15" y="227.85" width="2.9" height="2.9" rx="0.6" fill="#ff7f0e"/>
<rect x="137.7" y="228.45" width="2.9" height="2.9" rx="0.6" fill="#ff7f0e"/>
<rect x="146.25" y="228.95" width="2.9" height="2.9" rx="0.6" fill="#ff7f0e"/>
<rect x="154.8" y="229.35" width="2.9" height="2.9" rx="0.6" fill="#ff7f0e"/>
<rect x="163.35" y="229.65" width="2.9" height="2.9" rx="0.6" fill="#ff7f0e"/>
<rect x="171.9" y="229.95" width="2.9" height="2.9" rx="0.6" fill="#ff7f0e"/>
<rect x="180.45" y="230.05" width="2.9" height="2.9" rx="0.6" fill="#ff7f0e"/>
<rect x="189" y="230.65" width="2.9" height="2.9" rx="0.6" fill="#ff7f0e"/>
<rect x="197.55" y="230.85" width="2.9" height="2.9" rx="0.6" fill="#ff7f0e"/>
<rect x="206.1" y="231.05" width="2.9" height="2.9" rx="0.6" fill="#ff7f0e"/>
<rect x="214.65" y="231.35" width="2.9" height="2.9" rx="0.6" fill="#ff7f0e"/>
<rect x="223.2" y="231.55" width="2.9" height="2.9" rx="0.6" fill="#ff7f0e"/>
<rect x="231.75" y="231.85" width="2.9" height="2.9" rx="0.6" fill="#ff7f0e"/>
<polyline points="28,215.1 36.55,236 45.1,240.2 53.65,242.4 62.2,244.5 70.75,247.5 79.3,250.8 87.85,253.6 96.4,256.5 104.95,260.2 113.5,261.6 122.05,264.5 130.6,267 139.15,269.6 147.7,271.8 156.25,274 164.8,276.2 173.35,277.6 181.9,279.1 190.45,281.3 199,283.5 207.55,284.9 216.1,286.8 224.65,288.5 233.2,289.7" fill="none" stroke="#2ca02c" stroke-width="0.5" stroke-opacity="0.75" stroke-dasharray="none" stroke-dashoffset="0"/>
<rect x="26.55" y="213.65" width="2.9" height="2.9" rx="0.6" fill="#2ca02c"/>
<rect x="35.1" y="234.55" width="2.9" height="2.9" rx="0.6" fill="#2ca02c"/>
<rect x="43.65" y="238.75" width="2.9" height="2.9" rx="0.6" fill="#2ca02c"/>
<rect x="52.2" y="240.95" width="2.9" height="2.9" rx="0.6" fill="#2ca02c"/>
<rect x="60.75" y="243.05" width="2.9" height="2.9" rx="0.6" fill="#2ca02c"/>
<rect x="69.3" y="246.05" width="2.9" height="2.9" rx="0.6" fill="#2ca02c"/>
<rect x="77.85" y="249.35" width="2.9" height="2.9" rx="0.6" fill="#2ca02c"/>
<rect x="86.4" y="252.15" width="2.9" height="2.9" rx="0.6" fill="#2ca02c"/>
<rect x="94.95" y="255.05" width="2.9" height="2.9" rx="0.6" fill="#2ca02c"/>
<rect x="103.5" y="258.75" width="2.9" height="2.9" rx="0.6" fill="#2ca02c"/>
<rect x="112.05" y="260.15" width="2.9" height="2.9" rx="0.6" fill="#2ca02c"/>
<rect x="120.6" y="263.05" width="2.9" height="2.9" rx="0.6" fill="#2ca02c"/>
<rect x="129.15" y="265.55" width="2.9" height="2.9" rx="0.6" fill="#2ca02c"/>
<rect x="137.7" y="268.15" width="2.9" height="2.9" rx="0.6" fill="#2ca02c"/>
<rect x="146.25" y="270.35" width="2.9" height="2.9" rx="0.6" fill="#2ca02c"/>
<rect x="154.8" y="272.55" width="2.9" height="2.9" rx="0.6" fill="#2ca02c"/>
<rect x="163.35" y="274.75" width="2.9" height="2.9" rx="0.6" fill="#2ca02c"/>
<rect x="171.9" y="276.15" width="2.9" height="2.9" rx="0.6" fill="#2ca02c"/>
<rect x="180.45" y="277.65" width="2.9" height="2.9" rx="0.6" fill="#2ca02c"/>
<rect x="189" y="279.85" width="2.9" height="2.9" rx="0.6" fill="#2ca02c"/>
<rect x="197.55" y="282.05" width="2.9" height="2.9" rx="0.6" fill="#2ca02c"/>
<rect x="206.1" y="283.45" width="2.9" height="2.9" rx="0.6" fill="#2ca02c"/>
<rect x="214.65" y="285.35" width="2.9" height="2.9" rx="0.6" fill="#2ca02c"/>
<rect x="223.2" y="287.05" width="2.9" height="2.9" rx="0.6" fill="#2ca02c"/>
<rect x="231.75" y="288.25" width="2.9" height="2.9" rx="0.6" fill="#2ca02c"/>
<polyline points="28,221.6 36.55,234.4 45.1,237.3 53.65,239.9 62.2,241.3 70.75,242.4 79.3,243.1 87.85,243.5 96.4,244 104.95,244.4 113.5,244.8 122.05,245.2 130.6,245.6 139.15,245.85 147.7,246.1 156.25,246.45 164.8,246.8 173.35,246.95 181.9,247.1 190.45,247.25 199,247.4 207.55,247.55 216.1,247.7 224.65,247.85 233.2,248" fill="none" stroke="#d62728" stroke-width="0.5" stroke-opacity="0.75" stroke-dasharray="none" stroke-dashoffset="0"/>
<rect x="26.55" y="220.15" width="2.9" height="2.9" rx="0.6" fill="#d62728"/>
<rect x="35.1" y="232.95" width="2.9" height="2.9" rx="0.6" fill="#d62728"/>
<rect x="43.65" y="235.85" width="2.9" height="2.9" rx="0.6" fill="#d62728"/>
<rect x="52.2" y="238.45" width="2.9" height="2.9" rx="0.6" fill="#d62728"/>
<rect x="60.75" y="239.85" width="2.9" height="2.9" rx="0.6" fill="#d62728"/>
<rect x="69.3" y="240.95" width="2.9" height="2.9" rx="0.6" fill="#d62728"/>
<rect x="77.85" y="241.65" width="2.9" height="2.9" rx="0.6" fill="#d62728"/>
<rect x="86.4" y="242.05" width="2.9" height="2.9" rx="0.6" fill="#d62728"/>
<rect x="94.95" y="242.55" width="2.9" height="2.9" rx="0.6" fill="#d62728"/>
<rect x="103.5" y="242.95" width="2.9" height="2.9" rx="0.6" fill="#d62728"/>
<rect x="112.05" y="243.35" width="2.9" height="2.9" rx="0.6" fill="#d62728"/>
<rect x="120.6" y="243.75" width="2.9" height="2.9" rx="0.6" fill="#d62728"/>
<rect x="129.15" y="244.15" width="2.9" height="2.9" rx="0.6" fill="#d62728"/>
<rect x="137.7" y="244.4" width="2.9" height="2.9" rx="0.6" fill="#d62728"/>
<rect x="146.25" y="244.65" width="2.9" height="2.9" rx="0.6" fill="#d62728"/>
<rect x="154.8" y="245" width="2.9" height="2.9" rx="0.6" fill="#d62728"/>
<rect x="163.35" y="245.35" width="2.9" height="2.9" rx="0.6" fill="#d62728"/>
<rect x="171.9" y="245.5" width="2.9" height="2.9" rx="0.6" fill="#d62728"/>
<rect x="180.45" y="245.65" width="2.9" height="2.9" rx="0.6" fill="#d62728"/>
<rect x="189" y="245.8" width="2.9" height="2.9" rx="0.6" fill="#d62728"/>
<rect x="197.55" y="245.95" width="2.9" height="2.9" rx="0.6" fill="#d62728"/>
<rect x="206.1" y="246.1" width="2.9" height="2.9" rx="0.6" fill="#d62728"/>
<rect x="214.65" y="246.25" width="2.9" height="2.9" rx="0.6" fill="#d62728"/>
<rect x="223.2" y="246.4" width="2.9" height="2.9" rx="0.6" fill="#d62728"/>
<rect x="231.75" y="246.55" width="2.9" height="2.9" rx="0.6" fill="#d62728"/>
<polyline points="28,229.5 36.55,237 45.1,237.01 53.65,237.02 62.2,237.03 70.75,237.03 79.3,237.04 87.85,237.05 96.4,237.06 104.95,237.07 113.5,237.08 122.05,237.09 130.6,237.1 139.15,237.1 147.7,237.11 156.25,237.12 164.8,237.13 173.35,237.14 181.9,237.15 190.45,237.16 199,237.17 207.55,237.17 216.1,237.18 224.65,237.19 233.2,237.2" fill="none" stroke="#9467bd" stroke-width="0.5" stroke-opacity="0.75" stroke-dasharray="none" stroke-dashoffset="0"/>
<rect x="26.55" y="228.05" width="2.9" height="2.9" rx="0.6" fill="#9467bd"/>
<rect x="35.1" y="235.55" width="2.9" height="2.9" rx="0.6" fill="#9467bd"/>
<rect x="43.65" y="235.56" width="2.9" height="2.9" rx="0.6" fill="#9467bd"/>
<rect x="52.2" y="235.57" width="2.9" height="2.9" rx="0.6" fill="#9467bd"/>
<rect x="60.75" y="235.58" width="2.9" height="2.9" rx="0.6" fill="#9467bd"/>
<rect x="69.3" y="235.58" width="2.9" height="2.9" rx="0.6" fill="#9467bd"/>
<rect x="77.85" y="235.59" width="2.9" height="2.9" rx="0.6" fill="#9467bd"/>
<rect x="86.4" y="235.6" width="2.9" height="2.9" rx="0.6" fill="#9467bd"/>
<rect x="94.95" y="235.61" width="2.9" height="2.9" rx="0.6" fill="#9467bd"/>
<rect x="103.5" y="235.62" width="2.9" height="2.9" rx="0.6" fill="#9467bd"/>
<rect x="112.05" y="235.63" width="2.9" height="2.9" rx="0.6" fill="#9467bd"/>
<rect x="120.6" y="235.64" width="2.9" height="2.9" rx="0.6" fill="#9467bd"/>
<rect x="129.15" y="235.65" width="2.9" height="2.9" rx="0.6" fill="#9467bd"/>
<rect x="137.7" y="235.65" width="2.9" height="2.9" rx="0.6" fill="#9467bd"/>
<rect x="146.25" y="235.66" width="2.9" height="2.9" rx="0.6" fill="#9467bd"/>
<rect x="154.8" y="235.67" width="2.9" height="2.9" rx="0.6" fill="#9467bd"/>
<rect x="163.35" y="235.68" width="2.9" height="2.9" rx="0.6" fill="#9467bd"/>
<rect x="171.9" y="235.69" width="2.9" height="2.9" rx="0.6" fill="#9467bd"/>
<rect x="180.45" y="235.7" width="2.9" height="2.9" rx="0.6" fill="#9467bd"/>
<rect x="189" y="235.71" width="2.9" height="2.9" rx="0.6" fill="#9467bd"/>
<rect x="197.55" y="235.72" width="2.9" height="2.9" rx="0.6" fill="#9467bd"/>
<rect x="206.1" y="235.72" width="2.9" height="2.9" rx="0.6" fill="#9467bd"/>
<rect x="214.65" y="235.73" width="2.9" height="2.9" rx="0.6" fill="#9467bd"/>
<rect x="223.2" y="235.74" width="2.9" height="2.9" rx="0.6" fill="#9467bd"/>
<rect x="231.75" y="235.75" width="2.9" height="2.9" rx="0.6" fill="#9467bd"/>
<polyline points="28,221.6 36.55,288 45.1,297 53.65,301.3 62.2,305.8 70.75,306.7 79.3,307.4 87.85,308.1 96.4,309 104.95,309.5 113.5,310 122.05,310.4 130.6,310.8 139.15,311.05 147.7,311.3 156.25,311.55 164.8,311.8 173.35,312.05 181.9,312.3 190.45,312.55 199,312.8 207.55,313 216.1,313.2 224.65,313.6 233.2,314.2" fill="none" stroke="#ff0000" stroke-width="0.75" stroke-opacity="0.9"/>
<rect x="26.43" y="220.03" width="3.13" height="3.13" rx="0.6" fill="#ff0000"/>
<rect x="34.98" y="286.43" width="3.13" height="3.13" rx="0.6" fill="#ff0000"/>
<rect x="43.53" y="295.43" width="3.13" height="3.13" rx="0.6" fill="#ff0000"/>
<rect x="52.08" y="299.73" width="3.13" height="3.13" rx="0.6" fill="#ff0000"/>
<rect x="60.63" y="304.23" width="3.13" height="3.13" rx="0.6" fill="#ff0000"/>
<rect x="69.18" y="305.13" width="3.13" height="3.13" rx="0.6" fill="#ff0000"/>
<rect x="77.73" y="305.83" width="3.13" height="3.13" rx="0.6" fill="#ff0000"/>
<rect x="86.28" y="306.53" width="3.13" height="3.13" rx="0.6" fill="#ff0000"/>
<rect x="94.83" y="307.43" width="3.13" height="3.13" rx="0.6" fill="#ff0000"/>
<rect x="103.38" y="307.93" width="3.13" height="3.13" rx="0.6" fill="#ff0000"/>
<rect x="111.93" y="308.43" width="3.13" height="3.13" rx="0.6" fill="#ff0000"/>
<rect x="120.48" y="308.83" width="3.13" height="3.13" rx="0.6" fill="#ff0000"/>
<rect x="129.03" y="309.23" width="3.13" height="3.13" rx="0.6" fill="#ff0000"/>
<rect x="137.58" y="309.48" width="3.13" height="3.13" rx="0.6" fill="#ff0000"/>
<rect x="146.13" y="309.73" width="3.13" height="3.13" rx="0.6" fill="#ff0000"/>
<rect x="154.68" y="309.98" width="3.13" height="3.13" rx="0.6" fill="#ff0000"/>
<rect x="163.23" y="310.23" width="3.13" height="3.13" rx="0.6" fill="#ff0000"/>
<rect x="171.78" y="310.48" width="3.13" height="3.13" rx="0.6" fill="#ff0000"/>
<rect x="180.33" y="310.73" width="3.13" height="3.13" rx="0.6" fill="#ff0000"/>
<rect x="188.88" y="310.98" width="3.13" height="3.13" rx="0.6" fill="#ff0000"/>
<rect x="197.43" y="311.23" width="3.13" height="3.13" rx="0.6" fill="#ff0000"/>
<rect x="205.98" y="311.43" width="3.13" height="3.13" rx="0.6" fill="#ff0000"/>
<rect x="214.53" y="311.63" width="3.13" height="3.13" rx="0.6" fill="#ff0000"/>
<rect x="223.08" y="312.03" width="3.13" height="3.13" rx="0.6" fill="#ff0000"/>
<rect x="231.63" y="312.63" width="3.13" height="3.13" rx="0.6" fill="#ff0000"/>
<polyline points="28,204.6 36.55,213.2 45.1,221.3 53.65,241.6 62.2,243.6 70.75,243.68 79.3,243.75 87.85,243.82 96.4,243.9 104.95,243.9 113.5,243.9 122.05,243.9 130.6,243.9 139.15,243.9 147.7,243.9 156.25,243.9 164.8,247.1 173.35,247.22 181.9,247.35 190.45,247.47 199,247.6 207.55,247.72 216.1,247.85 224.65,247.97 233.2,248.1" fill="none" stroke="#8c564b" stroke-width="0.5" stroke-opacity="0.75" stroke-dasharray="none" stroke-dashoffset="0"/>
<rect x="26.55" y="203.15" width="2.9" height="2.9" rx="0.6" fill="#8c564b"/>
<rect x="35.1" y="211.75" width="2.9" height="2.9" rx="0.6" fill="#8c564b"/>
<rect x="43.65" y="219.85" width="2.9" height="2.9" rx="0.6" fill="#8c564b"/>
<rect x="52.2" y="240.15" width="2.9" height="2.9" rx="0.6" fill="#8c564b"/>
<rect x="60.75" y="242.15" width="2.9" height="2.9" rx="0.6" fill="#8c564b"/>
<rect x="69.3" y="242.23" width="2.9" height="2.9" rx="0.6" fill="#8c564b"/>
<rect x="77.85" y="242.3" width="2.9" height="2.9" rx="0.6" fill="#8c564b"/>
<rect x="86.4" y="242.38" width="2.9" height="2.9" rx="0.6" fill="#8c564b"/>
<rect x="94.95" y="242.45" width="2.9" height="2.9" rx="0.6" fill="#8c564b"/>
<rect x="103.5" y="242.45" width="2.9" height="2.9" rx="0.6" fill="#8c564b"/>
<rect x="112.05" y="242.45" width="2.9" height="2.9" rx="0.6" fill="#8c564b"/>
<rect x="120.6" y="242.45" width="2.9" height="2.9" rx="0.6" fill="#8c564b"/>
<rect x="129.15" y="242.45" width="2.9" height="2.9" rx="0.6" fill="#8c564b"/>
<rect x="137.7" y="242.45" width="2.9" height="2.9" rx="0.6" fill="#8c564b"/>
<rect x="146.25" y="242.45" width="2.9" height="2.9" rx="0.6" fill="#8c564b"/>
<rect x="154.8" y="242.45" width="2.9" height="2.9" rx="0.6" fill="#8c564b"/>
<rect x="163.35" y="245.65" width="2.9" height="2.9" rx="0.6" fill="#8c564b"/>
<rect x="171.9" y="245.78" width="2.9" height="2.9" rx="0.6" fill="#8c564b"/>
<rect x="180.45" y="245.9" width="2.9" height="2.9" rx="0.6" fill="#8c564b"/>
<rect x="189" y="246.03" width="2.9" height="2.9" rx="0.6" fill="#8c564b"/>
<rect x="197.55" y="246.15" width="2.9" height="2.9" rx="0.6" fill="#8c564b"/>
<rect x="206.1" y="246.28" width="2.9" height="2.9" rx="0.6" fill="#8c564b"/>
<rect x="214.65" y="246.4" width="2.9" height="2.9" rx="0.6" fill="#8c564b"/>
<rect x="223.2" y="246.53" width="2.9" height="2.9" rx="0.6" fill="#8c564b"/>
<rect x="231.75" y="246.65" width="2.9" height="2.9" rx="0.6" fill="#8c564b"/>
<polyline points="28,194 36.55,242 45.1,249.2 53.65,251.1 62.2,251.1 70.75,257.9 79.3,260.3 87.85,262.7 96.4,267 104.95,267.01 113.5,267.02 122.05,267.04 130.6,267.05 139.15,267.06 147.7,267.07 156.25,267.09 164.8,267.1 173.35,267.11 181.9,267.12 190.45,267.14 199,267.15 207.55,267.16 216.1,267.18 224.65,267.19 233.2,267.2" fill="none" stroke="#e377c2" stroke-width="0.5" stroke-opacity="0.75" stroke-dasharray="none" stroke-dashoffset="0"/>
<rect x="26.55" y="192.55" width="2.9" height="2.9" rx="0.6" fill="#e377c2"/>
<rect x="35.1" y="240.55" width="2.9" height="2.9" rx="0.6" fill="#e377c2"/>
<rect x="43.65" y="247.75" width="2.9" height="2.9" rx="0.6" fill="#e377c2"/>
<rect x="52.2" y="249.65" width="2.9" height="2.9" rx="0.6" fill="#e377c2"/>
<rect x="60.75" y="249.65" width="2.9" height="2.9" rx="0.6" fill="#e377c2"/>
<rect x="69.3" y="256.45" width="2.9" height="2.9" rx="0.6" fill="#e377c2"/>
<rect x="77.85" y="258.85" width="2.9" height="2.9" rx="0.6" fill="#e377c2"/>
<rect x="86.4" y="261.25" width="2.9" height="2.9" rx="0.6" fill="#e377c2"/>
<rect x="94.95" y="265.55" width="2.9" height="2.9" rx="0.6" fill="#e377c2"/>
<rect x="103.5" y="265.56" width="2.9" height="2.9" rx="0.6" fill="#e377c2"/>
<rect x="112.05" y="265.57" width="2.9" height="2.9" rx="0.6" fill="#e377c2"/>
<rect x="120.6" y="265.59" width="2.9" height="2.9" rx="0.6" fill="#e377c2"/>
<rect x="129.15" y="265.6" width="2.9" height="2.9" rx="0.6" fill="#e377c2"/>
<rect x="137.7" y="265.61" width="2.9" height="2.9" rx="0.6" fill="#e377c2"/>
<rect x="146.25" y="265.62" width="2.9" height="2.9" rx="0.6" fill="#e377c2"/>
<rect x="154.8" y="265.64" width="2.9" height="2.9" rx="0.6" fill="#e377c2"/>
<rect x="163.35" y="265.65" width="2.9" height="2.9" rx="0.6" fill="#e377c2"/>
<rect x="171.9" y="265.66" width="2.9" height="2.9" rx="0.6" fill="#e377c2"/>
<rect x="180.45" y="265.68" width="2.9" height="2.9" rx="0.6" fill="#e377c2"/>
<rect x="189" y="265.69" width="2.9" height="2.9" rx="0.6" fill="#e377c2"/>
<rect x="197.55" y="265.7" width="2.9" height="2.9" rx="0.6" fill="#e377c2"/>
<rect x="206.1" y="265.71" width="2.9" height="2.9" rx="0.6" fill="#e377c2"/>
<rect x="214.65" y="265.73" width="2.9" height="2.9" rx="0.6" fill="#e377c2"/>
<rect x="223.2" y="265.74" width="2.9" height="2.9" rx="0.6" fill="#e377c2"/>
<rect x="231.75" y="265.75" width="2.9" height="2.9" rx="0.6" fill="#e377c2"/>
<polyline points="28,229.6 36.55,261.5 45.1,267 53.65,269.1 62.2,270 70.75,272.3 79.3,274.4 87.85,275.5 96.4,277.6 104.95,278.7 113.5,280.1 122.05,280.5 130.6,281 139.15,281 147.7,281 156.25,281 164.8,281 173.35,281 181.9,281 190.45,281 199,281 207.55,281 216.1,281 224.65,281 233.2,281" fill="none" stroke="#7f7f7f" stroke-width="0.5" stroke-opacity="0.75" stroke-dasharray="none" stroke-dashoffset="0"/>
<rect x="26.55" y="228.15" width="2.9" height="2.9" rx="0.6" fill="#7f7f7f"/>
<rect x="35.1" y="260.05" width="2.9" height="2.9" rx="0.6" fill="#7f7f7f"/>
<rect x="43.65" y="265.55" width="2.9" height="2.9" rx="0.6" fill="#7f7f7f"/>
<rect x="52.2" y="267.65" width="2.9" height="2.9" rx="0.6" fill="#7f7f7f"/>
<rect x="60.75" y="268.55" width="2.9" height="2.9" rx="0.6" fill="#7f7f7f"/>
<rect x="69.3" y="270.85" width="2.9" height="2.9" rx="0.6" fill="#7f7f7f"/>
<rect x="77.85" y="272.95" width="2.9" height="2.9" rx="0.6" fill="#7f7f7f"/>
<rect x="86.4" y="274.05" width="2.9" height="2.9" rx="0.6" fill="#7f7f7f"/>
<rect x="94.95" y="276.15" width="2.9" height="2.9" rx="0.6" fill="#7f7f7f"/>
<rect x="103.5" y="277.25" width="2.9" height="2.9" rx="0.6" fill="#7f7f7f"/>
<rect x="112.05" y="278.65" width="2.9" height="2.9" rx="0.6" fill="#7f7f7f"/>
<rect x="120.6" y="279.05" width="2.9" height="2.9" rx="0.6" fill="#7f7f7f"/>
<rect x="129.15" y="279.55" width="2.9" height="2.9" rx="0.6" fill="#7f7f7f"/>
<rect x="137.7" y="279.55" width="2.9" height="2.9" rx="0.6" fill="#7f7f7f"/>
<rect x="146.25" y="279.55" width="2.9" height="2.9" rx="0.6" fill="#7f7f7f"/>
<rect x="154.8" y="279.55" width="2.9" height="2.9" rx="0.6" fill="#7f7f7f"/>
<rect x="163.35" y="279.55" width="2.9" height="2.9" rx="0.6" fill="#7f7f7f"/>
<rect x="171.9" y="279.55" width="2.9" height="2.9" rx="0.6" fill="#7f7f7f"/>
<rect x="180.45" y="279.55" width="2.9" height="2.9" rx="0.6" fill="#7f7f7f"/>
<rect x="189" y="279.55" width="2.9" height="2.9" rx="0.6" fill="#7f7f7f"/>
<rect x="197.55" y="279.55" width="2.9" height="2.9" rx="0.6" fill="#7f7f7f"/>
<rect x="206.1" y="279.55" width="2.9" height="2.9" rx="0.6" fill="#7f7f7f"/>
<rect x="214.65" y="279.55" width="2.9" height="2.9" rx="0.6" fill="#7f7f7f"/>
<rect x="223.2" y="279.55" width="2.9" height="2.9" rx="0.6" fill="#7f7f7f"/>
<rect x="231.75" y="279.55" width="2.9" height="2.9" rx="0.6" fill="#7f7f7f"/>
<rect x="17.2" y="188.3" width="226.3" height="131.7" class="frame"/>
<line x1="28" y1="320" x2="28" y2="321.4" class="tick"/>
<text x="28" y="326.5" class="tl" style="font-size:4.75px" text-anchor="middle">0</text>
<line x1="69.04" y1="320" x2="69.04" y2="321.4" class="tick"/>
<text x="69.04" y="326.5" class="tl" style="font-size:4.75px" text-anchor="middle">100</text>
<line x1="110.08" y1="320" x2="110.08" y2="321.4" class="tick"/>
<text x="110.08" y="326.5" class="tl" style="font-size:4.75px" text-anchor="middle">200</text>
<line x1="151.12" y1="320" x2="151.12" y2="321.4" class="tick"/>
<text x="151.12" y="326.5" class="tl" style="font-size:4.75px" text-anchor="middle">300</text>
<line x1="192.16" y1="320" x2="192.16" y2="321.4" class="tick"/>
<text x="192.16" y="326.5" class="tl" style="font-size:4.75px" text-anchor="middle">400</text>
<line x1="233.2" y1="320" x2="233.2" y2="321.4" class="tick"/>
<text x="233.2" y="326.5" class="tl" style="font-size:4.75px" text-anchor="middle">500</text>
<line x1="15.8" y1="292" x2="17.2" y2="292" class="tick"/>
<text x="15" y="293.6" class="tl" style="font-size:4.4px" text-anchor="end">10<tspan class="sup" dy="-1.8">1</tspan></text>
<line x1="15.8" y1="244.65" x2="17.2" y2="244.65" class="tick"/>
<text x="15" y="246.25" class="tl" style="font-size:4.4px" text-anchor="end">10<tspan class="sup" dy="-1.8">2</tspan></text>
<line x1="15.8" y1="197.3" x2="17.2" y2="197.3" class="tick"/>
<text x="15" y="198.9" class="tl" style="font-size:4.4px" text-anchor="end">10<tspan class="sup" dy="-1.8">3</tspan></text>
<line x1="16.2" y1="316.76" x2="17.2" y2="316.76" class="tick"/>
<line x1="16.2" y1="310.84" x2="17.2" y2="310.84" class="tick"/>
<line x1="16.2" y1="306.25" x2="17.2" y2="306.25" class="tick"/>
<line x1="16.2" y1="302.5" x2="17.2" y2="302.5" class="tick"/>
<line x1="16.2" y1="299.33" x2="17.2" y2="299.33" class="tick"/>
<line x1="16.2" y1="296.59" x2="17.2" y2="296.59" class="tick"/>
<line x1="16.2" y1="294.17" x2="17.2" y2="294.17" class="tick"/>
<line x1="16.2" y1="277.75" x2="17.2" y2="277.75" class="tick"/>
<line x1="16.2" y1="269.41" x2="17.2" y2="269.41" class="tick"/>
<line x1="16.2" y1="263.49" x2="17.2" y2="263.49" class="tick"/>
<line x1="16.2" y1="258.9" x2="17.2" y2="258.9" class="tick"/>
<line x1="16.2" y1="255.15" x2="17.2" y2="255.15" class="tick"/>
<line x1="16.2" y1="251.98" x2="17.2" y2="251.98" class="tick"/>
<line x1="16.2" y1="249.24" x2="17.2" y2="249.24" class="tick"/>
<line x1="16.2" y1="246.82" x2="17.2" y2="246.82" class="tick"/>
<line x1="16.2" y1="230.4" x2="17.2" y2="230.4" class="tick"/>
<line x1="16.2" y1="222.06" x2="17.2" y2="222.06" class="tick"/>
<line x1="16.2" y1="216.14" x2="17.2" y2="216.14" class="tick"/>
<line x1="16.2" y1="211.55" x2="17.2" y2="211.55" class="tick"/>
<line x1="16.2" y1="207.8" x2="17.2" y2="207.8" class="tick"/>
<line x1="16.2" y1="204.63" x2="17.2" y2="204.63" class="tick"/>
<line x1="16.2" y1="201.89" x2="17.2" y2="201.89" class="tick"/>
<line x1="16.2" y1="199.47" x2="17.2" y2="199.47" class="tick"/>
<text x="130.35" y="332.2" class="al" style="font-size:4.65px" text-anchor="middle">Iteration</text>
<text transform="translate(3.5,254.15) rotate(-90)" class="al" style="font-size:4.35px" text-anchor="middle" dy="1.4">Average Fitness Value</text>
<rect x="19" y="262.6" width="32.2" height="54.6" rx="0.8" class="leg"/>
<line x1="20.5" y1="266.9" x2="29.1" y2="266.9" stroke="#1f77b4" stroke-width="0.5" stroke-opacity="0.75"/>
<rect x="23.35" y="265.45" width="2.9" height="2.9" rx="0.6" fill="#1f77b4"/>
<text x="32.6" y="268.45" class="lt" style="font-size:4.3px">WOA</text>
<line x1="20.5" y1="272.82" x2="29.1" y2="272.82" stroke="#ff7f0e" stroke-width="0.5" stroke-opacity="0.75"/>
<rect x="23.35" y="271.38" width="2.9" height="2.9" rx="0.6" fill="#ff7f0e"/>
<text x="32.6" y="274.37" class="lt" style="font-size:4.3px">CSA</text>
<line x1="20.5" y1="278.75" x2="29.1" y2="278.75" stroke="#2ca02c" stroke-width="0.5" stroke-opacity="0.75"/>
<rect x="23.35" y="277.3" width="2.9" height="2.9" rx="0.6" fill="#2ca02c"/>
<text x="32.6" y="280.3" class="lt" style="font-size:4.3px">HHO</text>
<line x1="20.5" y1="284.67" x2="29.1" y2="284.67" stroke="#d62728" stroke-width="0.5" stroke-opacity="0.75"/>
<rect x="23.35" y="283.22" width="2.9" height="2.9" rx="0.6" fill="#d62728"/>
<text x="32.6" y="286.22" class="lt" style="font-size:4.3px">EHO</text>
<line x1="20.5" y1="290.6" x2="29.1" y2="290.6" stroke="#9467bd" stroke-width="0.5" stroke-opacity="0.75"/>
<rect x="23.35" y="289.15" width="2.9" height="2.9" rx="0.6" fill="#9467bd"/>
<text x="32.6" y="292.15" class="lt" style="font-size:4.3px">BES</text>
<line x1="20.5" y1="296.52" x2="29.1" y2="296.52" stroke="#ff0000" stroke-width="0.5" stroke-opacity="0.75"/>
<rect x="23.35" y="295.07" width="2.9" height="2.9" rx="0.6" fill="#ff0000"/>
<text x="32.6" y="298.07" class="lt" style="font-size:4.3px">ImWOA</text>
<line x1="20.5" y1="302.45" x2="29.1" y2="302.45" stroke="#8c564b" stroke-width="0.5" stroke-opacity="0.75"/>
<rect x="23.35" y="301" width="2.9" height="2.9" rx="0.6" fill="#8c564b"/>
<text x="32.6" y="304" class="lt" style="font-size:4.3px">ImWOA1</text>
<line x1="20.5" y1="308.38" x2="29.1" y2="308.38" stroke="#e377c2" stroke-width="0.5" stroke-opacity="0.75"/>
<rect x="23.35" y="306.93" width="2.9" height="2.9" rx="0.6" fill="#e377c2"/>
<text x="32.6" y="309.92" class="lt" style="font-size:4.3px">ImWOA2</text>
<line x1="20.5" y1="314.3" x2="29.1" y2="314.3" stroke="#7f7f7f" stroke-width="0.5" stroke-opacity="0.75"/>
<rect x="23.35" y="312.85" width="2.9" height="2.9" rx="0.6" fill="#7f7f7f"/>
<text x="32.6" y="315.85" class="lt" style="font-size:4.3px">ImWOA3</text>
<text x="123" y="348.3" class="cap" text-anchor="middle">F3</text>
<line x1="329.6" y1="188.3" x2="329.6" y2="320.3" class="grid"/>
<line x1="370.58" y1="188.3" x2="370.58" y2="320.3" class="grid"/>
<line x1="411.56" y1="188.3" x2="411.56" y2="320.3" class="grid"/>
<line x1="452.54" y1="188.3" x2="452.54" y2="320.3" class="grid"/>
<line x1="493.52" y1="188.3" x2="493.52" y2="320.3" class="grid"/>
<line x1="534.5" y1="188.3" x2="534.5" y2="320.3" class="grid"/>
<line x1="319.3" y1="311.8" x2="544.8" y2="311.8" class="grid"/>
<line x1="319.3" y1="258.9" x2="544.8" y2="258.9" class="grid"/>
<line x1="319.3" y1="206" x2="544.8" y2="206" class="grid"/>
<polyline points="329.6,199 338.14,213 346.68,218 355.21,219.5 363.75,220.5 372.29,222 380.83,222.9 389.36,223.1 397.9,223.7 406.44,224.5 414.98,225.3 423.51,226 432.05,226.3 440.59,226.6 449.12,227 457.66,227.7 466.2,229.3 474.74,229.4 483.27,230.1 491.81,230.5 500.35,231 508.89,231.3 517.42,231.5 525.96,231.8 534.5,232.3" fill="none" stroke="#1f77b4" stroke-width="0.5" stroke-opacity="0.75" stroke-dasharray="none" stroke-dashoffset="0"/>
<rect x="328.15" y="197.55" width="2.9" height="2.9" rx="0.6" fill="#1f77b4"/>
<rect x="336.69" y="211.55" width="2.9" height="2.9" rx="0.6" fill="#1f77b4"/>
<rect x="345.23" y="216.55" width="2.9" height="2.9" rx="0.6" fill="#1f77b4"/>
<rect x="353.76" y="218.05" width="2.9" height="2.9" rx="0.6" fill="#1f77b4"/>
<rect x="362.3" y="219.05" width="2.9" height="2.9" rx="0.6" fill="#1f77b4"/>
<rect x="370.84" y="220.55" width="2.9" height="2.9" rx="0.6" fill="#1f77b4"/>
<rect x="379.38" y="221.45" width="2.9" height="2.9" rx="0.6" fill="#1f77b4"/>
<rect x="387.91" y="221.65" width="2.9" height="2.9" rx="0.6" fill="#1f77b4"/>
<rect x="396.45" y="222.25" width="2.9" height="2.9" rx="0.6" fill="#1f77b4"/>
<rect x="404.99" y="223.05" width="2.9" height="2.9" rx="0.6" fill="#1f77b4"/>
<rect x="413.53" y="223.85" width="2.9" height="2.9" rx="0.6" fill="#1f77b4"/>
<rect x="422.06" y="224.55" width="2.9" height="2.9" rx="0.6" fill="#1f77b4"/>
<rect x="430.6" y="224.85" width="2.9" height="2.9" rx="0.6" fill="#1f77b4"/>
<rect x="439.14" y="225.15" width="2.9" height="2.9" rx="0.6" fill="#1f77b4"/>
<rect x="447.68" y="225.55" width="2.9" height="2.9" rx="0.6" fill="#1f77b4"/>
<rect x="456.21" y="226.25" width="2.9" height="2.9" rx="0.6" fill="#1f77b4"/>
<rect x="464.75" y="227.85" width="2.9" height="2.9" rx="0.6" fill="#1f77b4"/>
<rect x="473.29" y="227.95" width="2.9" height="2.9" rx="0.6" fill="#1f77b4"/>
<rect x="481.82" y="228.65" width="2.9" height="2.9" rx="0.6" fill="#1f77b4"/>
<rect x="490.36" y="229.05" width="2.9" height="2.9" rx="0.6" fill="#1f77b4"/>
<rect x="498.9" y="229.55" width="2.9" height="2.9" rx="0.6" fill="#1f77b4"/>
<rect x="507.44" y="229.85" width="2.9" height="2.9" rx="0.6" fill="#1f77b4"/>
<rect x="515.97" y="230.05" width="2.9" height="2.9" rx="0.6" fill="#1f77b4"/>
<rect x="524.51" y="230.35" width="2.9" height="2.9" rx="0.6" fill="#1f77b4"/>
<rect x="533.05" y="230.85" width="2.9" height="2.9" rx="0.6" fill="#1f77b4"/>
<polyline points="329.6,197 338.14,201.6 346.68,203.2 355.21,204 363.75,204.9 372.29,205.9 380.83,206.1 389.36,206.3 397.9,206.6 406.44,206.9 414.98,207.4 423.51,207.8 432.05,208.1 440.59,208.5 449.12,208.8 457.66,209.2 466.2,209.25 474.74,209.3 483.27,209.7 491.81,210.9 500.35,211.2 508.89,211.2 517.42,211.2 525.96,211.4 534.5,211.7" fill="none" stroke="#ff7f0e" stroke-width="0.5" stroke-opacity="0.75" stroke-dasharray="none" stroke-dashoffset="0"/>
<rect x="328.15" y="195.55" width="2.9" height="2.9" rx="0.6" fill="#ff7f0e"/>
<rect x="336.69" y="200.15" width="2.9" height="2.9" rx="0.6" fill="#ff7f0e"/>
<rect x="345.23" y="201.75" width="2.9" height="2.9" rx="0.6" fill="#ff7f0e"/>
<rect x="353.76" y="202.55" width="2.9" height="2.9" rx="0.6" fill="#ff7f0e"/>
<rect x="362.3" y="203.45" width="2.9" height="2.9" rx="0.6" fill="#ff7f0e"/>
<rect x="370.84" y="204.45" width="2.9" height="2.9" rx="0.6" fill="#ff7f0e"/>
<rect x="379.38" y="204.65" width="2.9" height="2.9" rx="0.6" fill="#ff7f0e"/>
<rect x="387.91" y="204.85" width="2.9" height="2.9" rx="0.6" fill="#ff7f0e"/>
<rect x="396.45" y="205.15" width="2.9" height="2.9" rx="0.6" fill="#ff7f0e"/>
<rect x="404.99" y="205.45" width="2.9" height="2.9" rx="0.6" fill="#ff7f0e"/>
<rect x="413.53" y="205.95" width="2.9" height="2.9" rx="0.6" fill="#ff7f0e"/>
<rect x="422.06" y="206.35" width="2.9" height="2.9" rx="0.6" fill="#ff7f0e"/>
<rect x="430.6" y="206.65" width="2.9" height="2.9" rx="0.6" fill="#ff7f0e"/>
<rect x="439.14" y="207.05" width="2.9" height="2.9" rx="0.6" fill="#ff7f0e"/>
<rect x="447.68" y="207.35" width="2.9" height="2.9" rx="0.6" fill="#ff7f0e"/>
<rect x="456.21" y="207.75" width="2.9" height="2.9" rx="0.6" fill="#ff7f0e"/>
<rect x="464.75" y="207.8" width="2.9" height="2.9" rx="0.6" fill="#ff7f0e"/>
<rect x="473.29" y="207.85" width="2.9" height="2.9" rx="0.6" fill="#ff7f0e"/>
<rect x="481.82" y="208.25" width="2.9" height="2.9" rx="0.6" fill="#ff7f0e"/>
<rect x="490.36" y="209.45" width="2.9" height="2.9" rx="0.6" fill="#ff7f0e"/>
<rect x="498.9" y="209.75" width="2.9" height="2.9" rx="0.6" fill="#ff7f0e"/>
<rect x="507.44" y="209.75" width="2.9" height="2.9" rx="0.6" fill="#ff7f0e"/>
<rect x="515.97" y="209.75" width="2.9" height="2.9" rx="0.6" fill="#ff7f0e"/>
<rect x="524.51" y="209.95" width="2.9" height="2.9" rx="0.6" fill="#ff7f0e"/>
<rect x="533.05" y="210.25" width="2.9" height="2.9" rx="0.6" fill="#ff7f0e"/>
<polyline points="329.6,199.5 338.14,212.5 346.68,215 355.21,217.2 363.75,219.2 372.29,221 380.83,223.1 389.36,224.8 397.9,227 406.44,229.6 414.98,231.1 423.51,233.1 432.05,234.3 440.59,236 449.12,237.6 457.66,239.3 466.2,241 474.74,242.7 483.27,244.7 491.81,246.9 500.35,248.5 508.89,250.2 517.42,253 525.96,256.1 534.5,259.1" fill="none" stroke="#2ca02c" stroke-width="0.5" stroke-opacity="0.75" stroke-dasharray="none" stroke-dashoffset="0"/>
<rect x="328.15" y="198.05" width="2.9" height="2.9" rx="0.6" fill="#2ca02c"/>
<rect x="336.69" y="211.05" width="2.9" height="2.9" rx="0.6" fill="#2ca02c"/>
<rect x="345.23" y="213.55" width="2.9" height="2.9" rx="0.6" fill="#2ca02c"/>
<rect x="353.76" y="215.75" width="2.9" height="2.9" rx="0.6" fill="#2ca02c"/>
<rect x="362.3" y="217.75" width="2.9" height="2.9" rx="0.6" fill="#2ca02c"/>
<rect x="370.84" y="219.55" width="2.9" height="2.9" rx="0.6" fill="#2ca02c"/>
<rect x="379.38" y="221.65" width="2.9" height="2.9" rx="0.6" fill="#2ca02c"/>
<rect x="387.91" y="223.35" width="2.9" height="2.9" rx="0.6" fill="#2ca02c"/>
<rect x="396.45" y="225.55" width="2.9" height="2.9" rx="0.6" fill="#2ca02c"/>
<rect x="404.99" y="228.15" width="2.9" height="2.9" rx="0.6" fill="#2ca02c"/>
<rect x="413.53" y="229.65" width="2.9" height="2.9" rx="0.6" fill="#2ca02c"/>
<rect x="422.06" y="231.65" width="2.9" height="2.9" rx="0.6" fill="#2ca02c"/>
<rect x="430.6" y="232.85" width="2.9" height="2.9" rx="0.6" fill="#2ca02c"/>
<rect x="439.14" y="234.55" width="2.9" height="2.9" rx="0.6" fill="#2ca02c"/>
<rect x="447.68" y="236.15" width="2.9" height="2.9" rx="0.6" fill="#2ca02c"/>
<rect x="456.21" y="237.85" width="2.9" height="2.9" rx="0.6" fill="#2ca02c"/>
<rect x="464.75" y="239.55" width="2.9" height="2.9" rx="0.6" fill="#2ca02c"/>
<rect x="473.29" y="241.25" width="2.9" height="2.9" rx="0.6" fill="#2ca02c"/>
<rect x="481.82" y="243.25" width="2.9" height="2.9" rx="0.6" fill="#2ca02c"/>
<rect x="490.36" y="245.45" width="2.9" height="2.9" rx="0.6" fill="#2ca02c"/>
<rect x="498.9" y="247.05" width="2.9" height="2.9" rx="0.6" fill="#2ca02c"/>
<rect x="507.44" y="248.75" width="2.9" height="2.9" rx="0.6" fill="#2ca02c"/>
<rect x="515.97" y="251.55" width="2.9" height="2.9" rx="0.6" fill="#2ca02c"/>
<rect x="524.51" y="254.65" width="2.9" height="2.9" rx="0.6" fill="#2ca02c"/>
<rect x="533.05" y="257.65" width="2.9" height="2.9" rx="0.6" fill="#2ca02c"/>
<polyline points="329.6,201 338.14,210.4 346.68,212.2 355.21,213.5 363.75,214.2 372.29,214.8 380.83,215.5 389.36,215.6 397.9,216 406.44,216.4 414.98,216.5 423.51,217.1 432.05,217.3 440.59,217.8 449.12,217.8 457.66,218.2 466.2,218.8 474.74,219.05 483.27,219.3 491.81,219.3 500.35,219.3 508.89,219.3 517.42,219.3 525.96,219.8 534.5,220.1" fill="none" stroke="#d62728" stroke-width="0.5" stroke-opacity="0.75" stroke-dasharray="none" stroke-dashoffset="0"/>
<rect x="328.15" y="199.55" width="2.9" height="2.9" rx="0.6" fill="#d62728"/>
<rect x="336.69" y="208.95" width="2.9" height="2.9" rx="0.6" fill="#d62728"/>
<rect x="345.23" y="210.75" width="2.9" height="2.9" rx="0.6" fill="#d62728"/>
<rect x="353.76" y="212.05" width="2.9" height="2.9" rx="0.6" fill="#d62728"/>
<rect x="362.3" y="212.75" width="2.9" height="2.9" rx="0.6" fill="#d62728"/>
<rect x="370.84" y="213.35" width="2.9" height="2.9" rx="0.6" fill="#d62728"/>
<rect x="379.38" y="214.05" width="2.9" height="2.9" rx="0.6" fill="#d62728"/>
<rect x="387.91" y="214.15" width="2.9" height="2.9" rx="0.6" fill="#d62728"/>
<rect x="396.45" y="214.55" width="2.9" height="2.9" rx="0.6" fill="#d62728"/>
<rect x="404.99" y="214.95" width="2.9" height="2.9" rx="0.6" fill="#d62728"/>
<rect x="413.53" y="215.05" width="2.9" height="2.9" rx="0.6" fill="#d62728"/>
<rect x="422.06" y="215.65" width="2.9" height="2.9" rx="0.6" fill="#d62728"/>
<rect x="430.6" y="215.85" width="2.9" height="2.9" rx="0.6" fill="#d62728"/>
<rect x="439.14" y="216.35" width="2.9" height="2.9" rx="0.6" fill="#d62728"/>
<rect x="447.68" y="216.35" width="2.9" height="2.9" rx="0.6" fill="#d62728"/>
<rect x="456.21" y="216.75" width="2.9" height="2.9" rx="0.6" fill="#d62728"/>
<rect x="464.75" y="217.35" width="2.9" height="2.9" rx="0.6" fill="#d62728"/>
<rect x="473.29" y="217.6" width="2.9" height="2.9" rx="0.6" fill="#d62728"/>
<rect x="481.82" y="217.85" width="2.9" height="2.9" rx="0.6" fill="#d62728"/>
<rect x="490.36" y="217.85" width="2.9" height="2.9" rx="0.6" fill="#d62728"/>
<rect x="498.9" y="217.85" width="2.9" height="2.9" rx="0.6" fill="#d62728"/>
<rect x="507.44" y="217.85" width="2.9" height="2.9" rx="0.6" fill="#d62728"/>
<rect x="515.97" y="217.85" width="2.9" height="2.9" rx="0.6" fill="#d62728"/>
<rect x="524.51" y="218.35" width="2.9" height="2.9" rx="0.6" fill="#d62728"/>
<rect x="533.05" y="218.65" width="2.9" height="2.9" rx="0.6" fill="#d62728"/>
<polyline points="329.6,208.5 338.14,212.9 346.68,213.3 355.21,213.3 363.75,213.31 372.29,213.31 380.83,213.32 389.36,213.32 397.9,213.33 406.44,213.33 414.98,213.34 423.51,213.34 432.05,213.35 440.59,213.35 449.12,213.35 457.66,213.36 466.2,213.36 474.74,213.37 483.27,213.37 491.81,213.38 500.35,213.38 508.89,213.39 517.42,213.39 525.96,213.4 534.5,213.4" fill="none" stroke="#9467bd" stroke-width="0.5" stroke-opacity="0.75" stroke-dasharray="none" stroke-dashoffset="0"/>
<rect x="328.15" y="207.05" width="2.9" height="2.9" rx="0.6" fill="#9467bd"/>
<rect x="336.69" y="211.45" width="2.9" height="2.9" rx="0.6" fill="#9467bd"/>
<rect x="345.23" y="211.85" width="2.9" height="2.9" rx="0.6" fill="#9467bd"/>
<rect x="353.76" y="211.85" width="2.9" height="2.9" rx="0.6" fill="#9467bd"/>
<rect x="362.3" y="211.86" width="2.9" height="2.9" rx="0.6" fill="#9467bd"/>
<rect x="370.84" y="211.86" width="2.9" height="2.9" rx="0.6" fill="#9467bd"/>
<rect x="379.38" y="211.87" width="2.9" height="2.9" rx="0.6" fill="#9467bd"/>
<rect x="387.91" y="211.87" width="2.9" height="2.9" rx="0.6" fill="#9467bd"/>
<rect x="396.45" y="211.88" width="2.9" height="2.9" rx="0.6" fill="#9467bd"/>
<rect x="404.99" y="211.88" width="2.9" height="2.9" rx="0.6" fill="#9467bd"/>
<rect x="413.53" y="211.89" width="2.9" height="2.9" rx="0.6" fill="#9467bd"/>
<rect x="422.06" y="211.89" width="2.9" height="2.9" rx="0.6" fill="#9467bd"/>
<rect x="430.6" y="211.9" width="2.9" height="2.9" rx="0.6" fill="#9467bd"/>
<rect x="439.14" y="211.9" width="2.9" height="2.9" rx="0.6" fill="#9467bd"/>
<rect x="447.68" y="211.9" width="2.9" height="2.9" rx="0.6" fill="#9467bd"/>
<rect x="456.21" y="211.91" width="2.9" height="2.9" rx="0.6" fill="#9467bd"/>
<rect x="464.75" y="211.91" width="2.9" height="2.9" rx="0.6" fill="#9467bd"/>
<rect x="473.29" y="211.92" width="2.9" height="2.9" rx="0.6" fill="#9467bd"/>
<rect x="481.82" y="211.92" width="2.9" height="2.9" rx="0.6" fill="#9467bd"/>
<rect x="490.36" y="211.93" width="2.9" height="2.9" rx="0.6" fill="#9467bd"/>
<rect x="498.9" y="211.93" width="2.9" height="2.9" rx="0.6" fill="#9467bd"/>
<rect x="507.44" y="211.94" width="2.9" height="2.9" rx="0.6" fill="#9467bd"/>
<rect x="515.97" y="211.94" width="2.9" height="2.9" rx="0.6" fill="#9467bd"/>
<rect x="524.51" y="211.95" width="2.9" height="2.9" rx="0.6" fill="#9467bd"/>
<rect x="533.05" y="211.95" width="2.9" height="2.9" rx="0.6" fill="#9467bd"/>
<polyline points="329.6,203.1 338.14,230.1 346.68,261.5 355.21,283.1 363.75,303.4 372.29,304.3 380.83,306.1 389.36,307.7 397.9,307.7 406.44,307.7 414.98,307.7 423.51,307.7 432.05,307.7 440.59,307.7 449.12,308.5 457.66,311.8 466.2,311.8 474.74,312.8 483.27,313.6 491.81,313.6 500.35,313.6 508.89,313.6 517.42,313.6 525.96,313.6 534.5,314.1" fill="none" stroke="#ff0000" stroke-width="0.75" stroke-opacity="0.9"/>
<rect x="328.03" y="201.53" width="3.13" height="3.13" rx="0.6" fill="#ff0000"/>
<rect x="336.57" y="228.53" width="3.13" height="3.13" rx="0.6" fill="#ff0000"/>
<rect x="345.11" y="259.93" width="3.13" height="3.13" rx="0.6" fill="#ff0000"/>
<rect x="353.65" y="281.53" width="3.13" height="3.13" rx="0.6" fill="#ff0000"/>
<rect x="362.18" y="301.83" width="3.13" height="3.13" rx="0.6" fill="#ff0000"/>
<rect x="370.72" y="302.73" width="3.13" height="3.13" rx="0.6" fill="#ff0000"/>
<rect x="379.26" y="304.53" width="3.13" height="3.13" rx="0.6" fill="#ff0000"/>
<rect x="387.8" y="306.13" width="3.13" height="3.13" rx="0.6" fill="#ff0000"/>
<rect x="396.33" y="306.13" width="3.13" height="3.13" rx="0.6" fill="#ff0000"/>
<rect x="404.87" y="306.13" width="3.13" height="3.13" rx="0.6" fill="#ff0000"/>
<rect x="413.41" y="306.13" width="3.13" height="3.13" rx="0.6" fill="#ff0000"/>
<rect x="421.95" y="306.13" width="3.13" height="3.13" rx="0.6" fill="#ff0000"/>
<rect x="430.48" y="306.13" width="3.13" height="3.13" rx="0.6" fill="#ff0000"/>
<rect x="439.02" y="306.13" width="3.13" height="3.13" rx="0.6" fill="#ff0000"/>
<rect x="447.56" y="306.93" width="3.13" height="3.13" rx="0.6" fill="#ff0000"/>
<rect x="456.1" y="310.23" width="3.13" height="3.13" rx="0.6" fill="#ff0000"/>
<rect x="464.63" y="310.23" width="3.13" height="3.13" rx="0.6" fill="#ff0000"/>
<rect x="473.17" y="311.23" width="3.13" height="3.13" rx="0.6" fill="#ff0000"/>
<rect x="481.71" y="312.03" width="3.13" height="3.13" rx="0.6" fill="#ff0000"/>
<rect x="490.25" y="312.03" width="3.13" height="3.13" rx="0.6" fill="#ff0000"/>
<rect x="498.78" y="312.03" width="3.13" height="3.13" rx="0.6" fill="#ff0000"/>
<rect x="507.32" y="312.03" width="3.13" height="3.13" rx="0.6" fill="#ff0000"/>
<rect x="515.86" y="312.03" width="3.13" height="3.13" rx="0.6" fill="#ff0000"/>
<rect x="524.4" y="312.03" width="3.13" height="3.13" rx="0.6" fill="#ff0000"/>
<rect x="532.93" y="312.53" width="3.13" height="3.13" rx="0.6" fill="#ff0000"/>
<polyline points="329.6,195.5 338.14,195.5 346.68,204.2 355.21,204.2 363.75,213.6 372.29,213.61 380.83,213.62 389.36,213.63 397.9,213.64 406.44,213.65 414.98,213.65 423.51,213.66 432.05,213.67 440.59,213.68 449.12,213.69 457.66,213.7 466.2,216.4 474.74,216.4 483.27,216.4 491.81,218.8 500.35,218.83 508.89,218.87 517.42,218.9 525.96,220.1 534.5,220.4" fill="none" stroke="#8c564b" stroke-width="0.5" stroke-opacity="0.75" stroke-dasharray="none" stroke-dashoffset="0"/>
<rect x="328.15" y="194.05" width="2.9" height="2.9" rx="0.6" fill="#8c564b"/>
<rect x="336.69" y="194.05" width="2.9" height="2.9" rx="0.6" fill="#8c564b"/>
<rect x="345.23" y="202.75" width="2.9" height="2.9" rx="0.6" fill="#8c564b"/>
<rect x="353.76" y="202.75" width="2.9" height="2.9" rx="0.6" fill="#8c564b"/>
<rect x="362.3" y="212.15" width="2.9" height="2.9" rx="0.6" fill="#8c564b"/>
<rect x="370.84" y="212.16" width="2.9" height="2.9" rx="0.6" fill="#8c564b"/>
<rect x="379.38" y="212.17" width="2.9" height="2.9" rx="0.6" fill="#8c564b"/>
<rect x="387.91" y="212.18" width="2.9" height="2.9" rx="0.6" fill="#8c564b"/>
<rect x="396.45" y="212.19" width="2.9" height="2.9" rx="0.6" fill="#8c564b"/>
<rect x="404.99" y="212.2" width="2.9" height="2.9" rx="0.6" fill="#8c564b"/>
<rect x="413.53" y="212.2" width="2.9" height="2.9" rx="0.6" fill="#8c564b"/>
<rect x="422.06" y="212.21" width="2.9" height="2.9" rx="0.6" fill="#8c564b"/>
<rect x="430.6" y="212.22" width="2.9" height="2.9" rx="0.6" fill="#8c564b"/>
<rect x="439.14" y="212.23" width="2.9" height="2.9" rx="0.6" fill="#8c564b"/>
<rect x="447.68" y="212.24" width="2.9" height="2.9" rx="0.6" fill="#8c564b"/>
<rect x="456.21" y="212.25" width="2.9" height="2.9" rx="0.6" fill="#8c564b"/>
<rect x="464.75" y="214.95" width="2.9" height="2.9" rx="0.6" fill="#8c564b"/>
<rect x="473.29" y="214.95" width="2.9" height="2.9" rx="0.6" fill="#8c564b"/>
<rect x="481.82" y="214.95" width="2.9" height="2.9" rx="0.6" fill="#8c564b"/>
<rect x="490.36" y="217.35" width="2.9" height="2.9" rx="0.6" fill="#8c564b"/>
<rect x="498.9" y="217.38" width="2.9" height="2.9" rx="0.6" fill="#8c564b"/>
<rect x="507.44" y="217.42" width="2.9" height="2.9" rx="0.6" fill="#8c564b"/>
<rect x="515.97" y="217.45" width="2.9" height="2.9" rx="0.6" fill="#8c564b"/>
<rect x="524.51" y="218.65" width="2.9" height="2.9" rx="0.6" fill="#8c564b"/>
<rect x="533.05" y="218.95" width="2.9" height="2.9" rx="0.6" fill="#8c564b"/>
<polyline points="329.6,196.5 338.14,213.5 346.68,215.8 355.21,221 363.75,221.6 372.29,222 380.83,226 389.36,226.7 397.9,227.3 406.44,228.2 414.98,228.2 423.51,228.2 432.05,228.2 440.59,228.2 449.12,228.2 457.66,228.2 466.2,228.2 474.74,228.2 483.27,228.2 491.81,228.2 500.35,228.2 508.89,228.2 517.42,228.2 525.96,228.2 534.5,228.2" fill="none" stroke="#e377c2" stroke-width="0.5" stroke-opacity="0.75" stroke-dasharray="none" stroke-dashoffset="0"/>
<rect x="328.15" y="195.05" width="2.9" height="2.9" rx="0.6" fill="#e377c2"/>
<rect x="336.69" y="212.05" width="2.9" height="2.9" rx="0.6" fill="#e377c2"/>
<rect x="345.23" y="214.35" width="2.9" height="2.9" rx="0.6" fill="#e377c2"/>
<rect x="353.76" y="219.55" width="2.9" height="2.9" rx="0.6" fill="#e377c2"/>
<rect x="362.3" y="220.15" width="2.9" height="2.9" rx="0.6" fill="#e377c2"/>
<rect x="370.84" y="220.55" width="2.9" height="2.9" rx="0.6" fill="#e377c2"/>
<rect x="379.38" y="224.55" width="2.9" height="2.9" rx="0.6" fill="#e377c2"/>
<rect x="387.91" y="225.25" width="2.9" height="2.9" rx="0.6" fill="#e377c2"/>
<rect x="396.45" y="225.85" width="2.9" height="2.9" rx="0.6" fill="#e377c2"/>
<rect x="404.99" y="226.75" width="2.9" height="2.9" rx="0.6" fill="#e377c2"/>
<rect x="413.53" y="226.75" width="2.9" height="2.9" rx="0.6" fill="#e377c2"/>
<rect x="422.06" y="226.75" width="2.9" height="2.9" rx="0.6" fill="#e377c2"/>
<rect x="430.6" y="226.75" width="2.9" height="2.9" rx="0.6" fill="#e377c2"/>
<rect x="439.14" y="226.75" width="2.9" height="2.9" rx="0.6" fill="#e377c2"/>
<rect x="447.68" y="226.75" width="2.9" height="2.9" rx="0.6" fill="#e377c2"/>
<rect x="456.21" y="226.75" width="2.9" height="2.9" rx="0.6" fill="#e377c2"/>
<rect x="464.75" y="226.75" width="2.9" height="2.9" rx="0.6" fill="#e377c2"/>
<rect x="473.29" y="226.75" width="2.9" height="2.9" rx="0.6" fill="#e377c2"/>
<rect x="481.82" y="226.75" width="2.9" height="2.9" rx="0.6" fill="#e377c2"/>
<rect x="490.36" y="226.75" width="2.9" height="2.9" rx="0.6" fill="#e377c2"/>
<rect x="498.9" y="226.75" width="2.9" height="2.9" rx="0.6" fill="#e377c2"/>
<rect x="507.44" y="226.75" width="2.9" height="2.9" rx="0.6" fill="#e377c2"/>
<rect x="515.97" y="226.75" width="2.9" height="2.9" rx="0.6" fill="#e377c2"/>
<rect x="524.51" y="226.75" width="2.9" height="2.9" rx="0.6" fill="#e377c2"/>
<rect x="533.05" y="226.75" width="2.9" height="2.9" rx="0.6" fill="#e377c2"/>
<polyline points="329.6,194 338.14,215.4 346.68,222.8 355.21,225.1 363.75,225.5 372.29,230 380.83,234.9 389.36,237.4 397.9,238.9 406.44,239.4 414.98,240.1 423.51,241.4 432.05,241.4 440.59,241.4 449.12,241.4 457.66,241.4 466.2,241.4 474.74,241.4 483.27,241.4 491.81,241.4 500.35,241.4 508.89,241.4 517.42,241.4 525.96,241.4 534.5,241.4" fill="none" stroke="#7f7f7f" stroke-width="0.5" stroke-opacity="0.75" stroke-dasharray="none" stroke-dashoffset="0"/>
<rect x="328.15" y="192.55" width="2.9" height="2.9" rx="0.6" fill="#7f7f7f"/>
<rect x="336.69" y="213.95" width="2.9" height="2.9" rx="0.6" fill="#7f7f7f"/>
<rect x="345.23" y="221.35" width="2.9" height="2.9" rx="0.6" fill="#7f7f7f"/>
<rect x="353.76" y="223.65" width="2.9" height="2.9" rx="0.6" fill="#7f7f7f"/>
<rect x="362.3" y="224.05" width="2.9" height="2.9" rx="0.6" fill="#7f7f7f"/>
<rect x="370.84" y="228.55" width="2.9" height="2.9" rx="0.6" fill="#7f7f7f"/>
<rect x="379.38" y="233.45" width="2.9" height="2.9" rx="0.6" fill="#7f7f7f"/>
<rect x="387.91" y="235.95" width="2.9" height="2.9" rx="0.6" fill="#7f7f7f"/>
<rect x="396.45" y="237.45" width="2.9" height="2.9" rx="0.6" fill="#7f7f7f"/>
<rect x="404.99" y="237.95" width="2.9" height="2.9" rx="0.6" fill="#7f7f7f"/>
<rect x="413.53" y="238.65" width="2.9" height="2.9" rx="0.6" fill="#7f7f7f"/>
<rect x="422.06" y="239.95" width="2.9" height="2.9" rx="0.6" fill="#7f7f7f"/>
<rect x="430.6" y="239.95" width="2.9" height="2.9" rx="0.6" fill="#7f7f7f"/>
<rect x="439.14" y="239.95" width="2.9" height="2.9" rx="0.6" fill="#7f7f7f"/>
<rect x="447.68" y="239.95" width="2.9" height="2.9" rx="0.6" fill="#7f7f7f"/>
<rect x="456.21" y="239.95" width="2.9" height="2.9" rx="0.6" fill="#7f7f7f"/>
<rect x="464.75" y="239.95" width="2.9" height="2.9" rx="0.6" fill="#7f7f7f"/>
<rect x="473.29" y="239.95" width="2.9" height="2.9" rx="0.6" fill="#7f7f7f"/>
<rect x="481.82" y="239.95" width="2.9" height="2.9" rx="0.6" fill="#7f7f7f"/>
<rect x="490.36" y="239.95" width="2.9" height="2.9" rx="0.6" fill="#7f7f7f"/>
<rect x="498.9" y="239.95" width="2.9" height="2.9" rx="0.6" fill="#7f7f7f"/>
<rect x="507.44" y="239.95" width="2.9" height="2.9" rx="0.6" fill="#7f7f7f"/>
<rect x="515.97" y="239.95" width="2.9" height="2.9" rx="0.6" fill="#7f7f7f"/>
<rect x="524.51" y="239.95" width="2.9" height="2.9" rx="0.6" fill="#7f7f7f"/>
<rect x="533.05" y="239.95" width="2.9" height="2.9" rx="0.6" fill="#7f7f7f"/>
<rect x="319.3" y="188.3" width="225.5" height="132" class="frame"/>
<line x1="329.6" y1="320.3" x2="329.6" y2="321.7" class="tick"/>
<text x="329.6" y="326.8" class="tl" style="font-size:4.75px" text-anchor="middle">0</text>
<line x1="370.58" y1="320.3" x2="370.58" y2="321.7" class="tick"/>
<text x="370.58" y="326.8" class="tl" style="font-size:4.75px" text-anchor="middle">100</text>
<line x1="411.56" y1="320.3" x2="411.56" y2="321.7" class="tick"/>
<text x="411.56" y="326.8" class="tl" style="font-size:4.75px" text-anchor="middle">200</text>
<line x1="452.54" y1="320.3" x2="452.54" y2="321.7" class="tick"/>
<text x="452.54" y="326.8" class="tl" style="font-size:4.75px" text-anchor="middle">300</text>
<line x1="493.52" y1="320.3" x2="493.52" y2="321.7" class="tick"/>
<text x="493.52" y="326.8" class="tl" style="font-size:4.75px" text-anchor="middle">400</text>
<line x1="534.5" y1="320.3" x2="534.5" y2="321.7" class="tick"/>
<text x="534.5" y="326.8" class="tl" style="font-size:4.75px" text-anchor="middle">500</text>
<line x1="317.9" y1="311.8" x2="319.3" y2="311.8" class="tick"/>
<text x="317.1" y="313.4" class="tl" style="font-size:4.4px" text-anchor="end">10<tspan class="sup" dy="-1.8">1</tspan></text>
<line x1="317.9" y1="258.9" x2="319.3" y2="258.9" class="tick"/>
<text x="317.1" y="260.5" class="tl" style="font-size:4.4px" text-anchor="end">10<tspan class="sup" dy="-1.8">2</tspan></text>
<line x1="317.9" y1="206" x2="319.3" y2="206" class="tick"/>
<text x="317.1" y="207.6" class="tl" style="font-size:4.4px" text-anchor="end">10<tspan class="sup" dy="-1.8">3</tspan></text>
<line x1="318.3" y1="319.99" x2="319.3" y2="319.99" class="tick"/>
<line x1="318.3" y1="316.93" x2="319.3" y2="316.93" class="tick"/>
<line x1="318.3" y1="314.22" x2="319.3" y2="314.22" class="tick"/>
<line x1="318.3" y1="295.88" x2="319.3" y2="295.88" class="tick"/>
<line x1="318.3" y1="286.56" x2="319.3" y2="286.56" class="tick"/>
<line x1="318.3" y1="279.95" x2="319.3" y2="279.95" class="tick"/>
<line x1="318.3" y1="274.82" x2="319.3" y2="274.82" class="tick"/>
<line x1="318.3" y1="270.64" x2="319.3" y2="270.64" class="tick"/>
<line x1="318.3" y1="267.09" x2="319.3" y2="267.09" class="tick"/>
<line x1="318.3" y1="264.03" x2="319.3" y2="264.03" class="tick"/>
<line x1="318.3" y1="261.32" x2="319.3" y2="261.32" class="tick"/>
<line x1="318.3" y1="242.98" x2="319.3" y2="242.98" class="tick"/>
<line x1="318.3" y1="233.66" x2="319.3" y2="233.66" class="tick"/>
<line x1="318.3" y1="227.05" x2="319.3" y2="227.05" class="tick"/>
<line x1="318.3" y1="221.92" x2="319.3" y2="221.92" class="tick"/>
<line x1="318.3" y1="217.74" x2="319.3" y2="217.74" class="tick"/>
<line x1="318.3" y1="214.19" x2="319.3" y2="214.19" class="tick"/>
<line x1="318.3" y1="211.13" x2="319.3" y2="211.13" class="tick"/>
<line x1="318.3" y1="208.42" x2="319.3" y2="208.42" class="tick"/>
<line x1="318.3" y1="190.08" x2="319.3" y2="190.08" class="tick"/>
<text x="432.05" y="332.5" class="al" style="font-size:4.65px" text-anchor="middle">Iteration</text>
<text transform="translate(305.5,254.3) rotate(-90)" class="al" style="font-size:4.35px" text-anchor="middle" dy="1.4">Average Fitness Value</text>
<rect x="321.1" y="262.3" width="31.9" height="54.9" rx="0.8" class="leg"/>
<line x1="322.5" y1="266.6" x2="331.1" y2="266.6" stroke="#1f77b4" stroke-width="0.5" stroke-opacity="0.75"/>
<rect x="325.35" y="265.15" width="2.9" height="2.9" rx="0.6" fill="#1f77b4"/>
<text x="334.2" y="268.15" class="lt" style="font-size:4.3px">WOA</text>
<line x1="322.5" y1="272.53" x2="331.1" y2="272.53" stroke="#ff7f0e" stroke-width="0.5" stroke-opacity="0.75"/>
<rect x="325.35" y="271.08" width="2.9" height="2.9" rx="0.6" fill="#ff7f0e"/>
<text x="334.2" y="274.08" class="lt" style="font-size:4.3px">CSA</text>
<line x1="322.5" y1="278.46" x2="331.1" y2="278.46" stroke="#2ca02c" stroke-width="0.5" stroke-opacity="0.75"/>
<rect x="325.35" y="277.01" width="2.9" height="2.9" rx="0.6" fill="#2ca02c"/>
<text x="334.2" y="280.01" class="lt" style="font-size:4.3px">HHO</text>
<line x1="322.5" y1="284.39" x2="331.1" y2="284.39" stroke="#d62728" stroke-width="0.5" stroke-opacity="0.75"/>
<rect x="325.35" y="282.94" width="2.9" height="2.9" rx="0.6" fill="#d62728"/>
<text x="334.2" y="285.94" class="lt" style="font-size:4.3px">EHO</text>
<line x1="322.5" y1="290.32" x2="331.1" y2="290.32" stroke="#9467bd" stroke-width="0.5" stroke-opacity="0.75"/>
<rect x="325.35" y="288.87" width="2.9" height="2.9" rx="0.6" fill="#9467bd"/>
<text x="334.2" y="291.87" class="lt" style="font-size:4.3px">BES</text>
<line x1="322.5" y1="296.25" x2="331.1" y2="296.25" stroke="#ff0000" stroke-width="0.5" stroke-opacity="0.75"/>
<rect x="325.35" y="294.8" width="2.9" height="2.9" rx="0.6" fill="#ff0000"/>
<text x="334.2" y="297.8" class="lt" style="font-size:4.3px">ImWOA</text>
<line x1="322.5" y1="302.18" x2="331.1" y2="302.18" stroke="#8c564b" stroke-width="0.5" stroke-opacity="0.75"/>
<rect x="325.35" y="300.73" width="2.9" height="2.9" rx="0.6" fill="#8c564b"/>
<text x="334.2" y="303.73" class="lt" style="font-size:4.3px">ImWOA1</text>
<line x1="322.5" y1="308.11" x2="331.1" y2="308.11" stroke="#e377c2" stroke-width="0.5" stroke-opacity="0.75"/>
<rect x="325.35" y="306.66" width="2.9" height="2.9" rx="0.6" fill="#e377c2"/>
<text x="334.2" y="309.66" class="lt" style="font-size:4.3px">ImWOA2</text>
<line x1="322.5" y1="314.04" x2="331.1" y2="314.04" stroke="#7f7f7f" stroke-width="0.5" stroke-opacity="0.75"/>
<rect x="325.35" y="312.59" width="2.9" height="2.9" rx="0.6" fill="#7f7f7f"/>
<text x="334.2" y="315.59" class="lt" style="font-size:4.3px">ImWOA3</text>
<text x="424.7" y="348.3" class="cap" text-anchor="middle">F4</text>
<line x1="45.2" y1="381.5" x2="45.2" y2="503.2" class="grid"/>
<line x1="82.96" y1="381.5" x2="82.96" y2="503.2" class="grid"/>
<line x1="120.72" y1="381.5" x2="120.72" y2="503.2" class="grid"/>
<line x1="158.48" y1="381.5" x2="158.48" y2="503.2" class="grid"/>
<line x1="196.24" y1="381.5" x2="196.24" y2="503.2" class="grid"/>
<line x1="234" y1="381.5" x2="234" y2="503.2" class="grid"/>
<polyline points="45.2,421.5 53.07,471.3 60.93,477.5 68.8,480 76.67,482.5 84.53,484.1 92.4,485.1 100.27,485.8 108.13,486.5 116,487.4 123.87,488.3 131.73,488.9 139.6,489.5 147.47,489.88 155.33,490.25 163.2,490.62 171.07,491 178.93,491.2 186.8,491.4 194.67,491.6 202.53,491.8 210.4,492.02 218.27,492.25 226.13,492.48 234,492.7" fill="none" stroke="#1f77b4" stroke-width="0.5" stroke-opacity="0.75" stroke-dasharray="none" stroke-dashoffset="0"/>
<rect x="43.88" y="420.18" width="2.65" height="2.65" rx="0.6" fill="#1f77b4"/>
<rect x="51.74" y="469.98" width="2.65" height="2.65" rx="0.6" fill="#1f77b4"/>
<rect x="59.61" y="476.18" width="2.65" height="2.65" rx="0.6" fill="#1f77b4"/>
<rect x="67.48" y="478.68" width="2.65" height="2.65" rx="0.6" fill="#1f77b4"/>
<rect x="75.34" y="481.18" width="2.65" height="2.65" rx="0.6" fill="#1f77b4"/>
<rect x="83.21" y="482.78" width="2.65" height="2.65" rx="0.6" fill="#1f77b4"/>
<rect x="91.08" y="483.78" width="2.65" height="2.65" rx="0.6" fill="#1f77b4"/>
<rect x="98.94" y="484.48" width="2.65" height="2.65" rx="0.6" fill="#1f77b4"/>
<rect x="106.81" y="485.18" width="2.65" height="2.65" rx="0.6" fill="#1f77b4"/>
<rect x="114.67" y="486.07" width="2.65" height="2.65" rx="0.6" fill="#1f77b4"/>
<rect x="122.54" y="486.98" width="2.65" height="2.65" rx="0.6" fill="#1f77b4"/>
<rect x="130.41" y="487.57" width="2.65" height="2.65" rx="0.6" fill="#1f77b4"/>
<rect x="138.28" y="488.18" width="2.65" height="2.65" rx="0.6" fill="#1f77b4"/>
<rect x="146.14" y="488.55" width="2.65" height="2.65" rx="0.6" fill="#1f77b4"/>
<rect x="154.01" y="488.93" width="2.65" height="2.65" rx="0.6" fill="#1f77b4"/>
<rect x="161.88" y="489.3" width="2.65" height="2.65" rx="0.6" fill="#1f77b4"/>
<rect x="169.74" y="489.68" width="2.65" height="2.65" rx="0.6" fill="#1f77b4"/>
<rect x="177.61" y="489.88" width="2.65" height="2.65" rx="0.6" fill="#1f77b4"/>
<rect x="185.48" y="490.07" width="2.65" height="2.65" rx="0.6" fill="#1f77b4"/>
<rect x="193.34" y="490.28" width="2.65" height="2.65" rx="0.6" fill="#1f77b4"/>
<rect x="201.21" y="490.48" width="2.65" height="2.65" rx="0.6" fill="#1f77b4"/>
<rect x="209.08" y="490.7" width="2.65" height="2.65" rx="0.6" fill="#1f77b4"/>
<rect x="216.94" y="490.93" width="2.65" height="2.65" rx="0.6" fill="#1f77b4"/>
<rect x="224.81" y="491.15" width="2.65" height="2.65" rx="0.6" fill="#1f77b4"/>
<rect x="232.68" y="491.38" width="2.65" height="2.65" rx="0.6" fill="#1f77b4"/>
<polyline points="45.2,418.2 53.07,440.1 60.93,448.4 68.8,451.5 76.67,454.1 84.53,454.9 92.4,455.8 100.27,456.7 108.13,457.4 116,458.2 123.87,458.6 131.73,459.6 139.6,460.1 147.47,460.7 155.33,460.8 163.2,461.1 171.07,461.4 178.93,461.5 186.8,462.1 194.67,462.5 202.53,462.55 210.4,462.6 218.27,462.8 226.13,463 234,463.3" fill="none" stroke="#ff7f0e" stroke-width="0.5" stroke-opacity="0.75" stroke-dasharray="none" stroke-dashoffset="0"/>
<rect x="43.88" y="416.88" width="2.65" height="2.65" rx="0.6" fill="#ff7f0e"/>
<rect x="51.74" y="438.78" width="2.65" height="2.65" rx="0.6" fill="#ff7f0e"/>
<rect x="59.61" y="447.07" width="2.65" height="2.65" rx="0.6" fill="#ff7f0e"/>
<rect x="67.48" y="450.18" width="2.65" height="2.65" rx="0.6" fill="#ff7f0e"/>
<rect x="75.34" y="452.78" width="2.65" height="2.65" rx="0.6" fill="#ff7f0e"/>
<rect x="83.21" y="453.57" width="2.65" height="2.65" rx="0.6" fill="#ff7f0e"/>
<rect x="91.08" y="454.48" width="2.65" height="2.65" rx="0.6" fill="#ff7f0e"/>
<rect x="98.94" y="455.38" width="2.65" height="2.65" rx="0.6" fill="#ff7f0e"/>
<rect x="106.81" y="456.07" width="2.65" height="2.65" rx="0.6" fill="#ff7f0e"/>
<rect x="114.67" y="456.88" width="2.65" height="2.65" rx="0.6" fill="#ff7f0e"/>
<rect x="122.54" y="457.28" width="2.65" height="2.65" rx="0.6" fill="#ff7f0e"/>
<rect x="130.41" y="458.28" width="2.65" height="2.65" rx="0.6" fill="#ff7f0e"/>
<rect x="138.28" y="458.78" width="2.65" height="2.65" rx="0.6" fill="#ff7f0e"/>
<rect x="146.14" y="459.38" width="2.65" height="2.65" rx="0.6" fill="#ff7f0e"/>
<rect x="154.01" y="459.48" width="2.65" height="2.65" rx="0.6" fill="#ff7f0e"/>
<rect x="161.88" y="459.78" width="2.65" height="2.65" rx="0.6" fill="#ff7f0e"/>
<rect x="169.74" y="460.07" width="2.65" height="2.65" rx="0.6" fill="#ff7f0e"/>
<rect x="177.61" y="460.18" width="2.65" height="2.65" rx="0.6" fill="#ff7f0e"/>
<rect x="185.48" y="460.78" width="2.65" height="2.65" rx="0.6" fill="#ff7f0e"/>
<rect x="193.34" y="461.18" width="2.65" height="2.65" rx="0.6" fill="#ff7f0e"/>
<rect x="201.21" y="461.23" width="2.65" height="2.65" rx="0.6" fill="#ff7f0e"/>
<rect x="209.08" y="461.28" width="2.65" height="2.65" rx="0.6" fill="#ff7f0e"/>
<rect x="216.94" y="461.48" width="2.65" height="2.65" rx="0.6" fill="#ff7f0e"/>
<rect x="224.81" y="461.68" width="2.65" height="2.65" rx="0.6" fill="#ff7f0e"/>
<rect x="232.68" y="461.98" width="2.65" height="2.65" rx="0.6" fill="#ff7f0e"/>
<polyline points="45.2,421 53.07,469.8 60.93,474 68.8,477 76.67,479 84.53,481.5 92.4,483.2 100.27,485.1 108.13,486.1 116,486.8 123.87,488 131.73,488.7 139.6,489.2 147.47,489.7 155.33,490.2 163.2,490.9 171.07,491.2 178.93,491.6 186.8,491.9 194.67,492 202.53,492.4 210.4,492.7 218.27,493.1 226.13,493.5 234,494.1" fill="none" stroke="#2ca02c" stroke-width="0.5" stroke-opacity="0.75" stroke-dasharray="none" stroke-dashoffset="0"/>
<rect x="43.88" y="419.68" width="2.65" height="2.65" rx="0.6" fill="#2ca02c"/>
<rect x="51.74" y="468.48" width="2.65" height="2.65" rx="0.6" fill="#2ca02c"/>
<rect x="59.61" y="472.68" width="2.65" height="2.65" rx="0.6" fill="#2ca02c"/>
<rect x="67.48" y="475.68" width="2.65" height="2.65" rx="0.6" fill="#2ca02c"/>
<rect x="75.34" y="477.68" width="2.65" height="2.65" rx="0.6" fill="#2ca02c"/>
<rect x="83.21" y="480.18" width="2.65" height="2.65" rx="0.6" fill="#2ca02c"/>
<rect x="91.08" y="481.88" width="2.65" height="2.65" rx="0.6" fill="#2ca02c"/>
<rect x="98.94" y="483.78" width="2.65" height="2.65" rx="0.6" fill="#2ca02c"/>
<rect x="106.81" y="484.78" width="2.65" height="2.65" rx="0.6" fill="#2ca02c"/>
<rect x="114.67" y="485.48" width="2.65" height="2.65" rx="0.6" fill="#2ca02c"/>
<rect x="122.54" y="486.68" width="2.65" height="2.65" rx="0.6" fill="#2ca02c"/>
<rect x="130.41" y="487.38" width="2.65" height="2.65" rx="0.6" fill="#2ca02c"/>
<rect x="138.28" y="487.88" width="2.65" height="2.65" rx="0.6" fill="#2ca02c"/>
<rect x="146.14" y="488.38" width="2.65" height="2.65" rx="0.6" fill="#2ca02c"/>
<rect x="154.01" y="488.88" width="2.65" height="2.65" rx="0.6" fill="#2ca02c"/>
<rect x="161.88" y="489.57" width="2.65" height="2.65" rx="0.6" fill="#2ca02c"/>
<rect x="169.74" y="489.88" width="2.65" height="2.65" rx="0.6" fill="#2ca02c"/>
<rect x="177.61" y="490.28" width="2.65" height="2.65" rx="0.6" fill="#2ca02c"/>
<rect x="185.48" y="490.57" width="2.65" height="2.65" rx="0.6" fill="#2ca02c"/>
<rect x="193.34" y="490.68" width="2.65" height="2.65" rx="0.6" fill="#2ca02c"/>
<rect x="201.21" y="491.07" width="2.65" height="2.65" rx="0.6" fill="#2ca02c"/>
<rect x="209.08" y="491.38" width="2.65" height="2.65" rx="0.6" fill="#2ca02c"/>
<rect x="216.94" y="491.78" width="2.65" height="2.65" rx="0.6" fill="#2ca02c"/>
<rect x="224.81" y="492.18" width="2.65" height="2.65" rx="0.6" fill="#2ca02c"/>
<rect x="232.68" y="492.78" width="2.65" height="2.65" rx="0.6" fill="#2ca02c"/>
<polyline points="45.2,439.6 53.07,470.3 60.93,473.7 68.8,474.6 76.67,474.9 84.53,476.1 92.4,476.6 100.27,476.95 108.13,477.3 116,477.37 123.87,477.44 131.73,477.51 139.6,477.59 147.47,477.66 155.33,477.73 163.2,477.8 171.07,479.5 178.93,480.2 186.8,480.29 194.67,480.37 202.53,480.46 210.4,480.54 218.27,480.63 226.13,480.71 234,480.8" fill="none" stroke="#d62728" stroke-width="0.5" stroke-opacity="0.75" stroke-dasharray="none" stroke-dashoffset="0"/>
<rect x="43.88" y="438.28" width="2.65" height="2.65" rx="0.6" fill="#d62728"/>
<rect x="51.74" y="468.98" width="2.65" height="2.65" rx="0.6" fill="#d62728"/>
<rect x="59.61" y="472.38" width="2.65" height="2.65" rx="0.6" fill="#d62728"/>
<rect x="67.48" y="473.28" width="2.65" height="2.65" rx="0.6" fill="#d62728"/>
<rect x="75.34" y="473.57" width="2.65" height="2.65" rx="0.6" fill="#d62728"/>
<rect x="83.21" y="474.78" width="2.65" height="2.65" rx="0.6" fill="#d62728"/>
<rect x="91.08" y="475.28" width="2.65" height="2.65" rx="0.6" fill="#d62728"/>
<rect x="98.94" y="475.63" width="2.65" height="2.65" rx="0.6" fill="#d62728"/>
<rect x="106.81" y="475.98" width="2.65" height="2.65" rx="0.6" fill="#d62728"/>
<rect x="114.67" y="476.05" width="2.65" height="2.65" rx="0.6" fill="#d62728"/>
<rect x="122.54" y="476.12" width="2.65" height="2.65" rx="0.6" fill="#d62728"/>
<rect x="130.41" y="476.19" width="2.65" height="2.65" rx="0.6" fill="#d62728"/>
<rect x="138.28" y="476.26" width="2.65" height="2.65" rx="0.6" fill="#d62728"/>
<rect x="146.14" y="476.33" width="2.65" height="2.65" rx="0.6" fill="#d62728"/>
<rect x="154.01" y="476.4" width="2.65" height="2.65" rx="0.6" fill="#d62728"/>
<rect x="161.88" y="476.48" width="2.65" height="2.65" rx="0.6" fill="#d62728"/>
<rect x="169.74" y="478.18" width="2.65" height="2.65" rx="0.6" fill="#d62728"/>
<rect x="177.61" y="478.88" width="2.65" height="2.65" rx="0.6" fill="#d62728"/>
<rect x="185.48" y="478.96" width="2.65" height="2.65" rx="0.6" fill="#d62728"/>
<rect x="193.34" y="479.05" width="2.65" height="2.65" rx="0.6" fill="#d62728"/>
<rect x="201.21" y="479.13" width="2.65" height="2.65" rx="0.6" fill="#d62728"/>
<rect x="209.08" y="479.22" width="2.65" height="2.65" rx="0.6" fill="#d62728"/>
<rect x="216.94" y="479.3" width="2.65" height="2.65" rx="0.6" fill="#d62728"/>
<rect x="224.81" y="479.39" width="2.65" height="2.65" rx="0.6" fill="#d62728"/>
<rect x="232.68" y="479.48" width="2.65" height="2.65" rx="0.6" fill="#d62728"/>
<polyline points="45.2,449.8 53.07,476.4 60.93,476.41 68.8,476.42 76.67,476.43 84.53,476.43 92.4,476.44 100.27,476.45 108.13,476.46 116,476.47 123.87,476.48 131.73,476.49 139.6,476.5 147.47,476.5 155.33,476.51 163.2,476.52 171.07,476.53 178.93,476.54 186.8,476.55 194.67,476.56 202.53,476.57 210.4,476.57 218.27,476.58 226.13,476.59 234,476.6" fill="none" stroke="#9467bd" stroke-width="0.5" stroke-opacity="0.75" stroke-dasharray="none" stroke-dashoffset="0"/>
<rect x="43.88" y="448.48" width="2.65" height="2.65" rx="0.6" fill="#9467bd"/>
<rect x="51.74" y="475.07" width="2.65" height="2.65" rx="0.6" fill="#9467bd"/>
<rect x="59.61" y="475.08" width="2.65" height="2.65" rx="0.6" fill="#9467bd"/>
<rect x="67.48" y="475.09" width="2.65" height="2.65" rx="0.6" fill="#9467bd"/>
<rect x="75.34" y="475.1" width="2.65" height="2.65" rx="0.6" fill="#9467bd"/>
<rect x="83.21" y="475.11" width="2.65" height="2.65" rx="0.6" fill="#9467bd"/>
<rect x="91.08" y="475.12" width="2.65" height="2.65" rx="0.6" fill="#9467bd"/>
<rect x="98.94" y="475.13" width="2.65" height="2.65" rx="0.6" fill="#9467bd"/>
<rect x="106.81" y="475.14" width="2.65" height="2.65" rx="0.6" fill="#9467bd"/>
<rect x="114.67" y="475.14" width="2.65" height="2.65" rx="0.6" fill="#9467bd"/>
<rect x="122.54" y="475.15" width="2.65" height="2.65" rx="0.6" fill="#9467bd"/>
<rect x="130.41" y="475.16" width="2.65" height="2.65" rx="0.6" fill="#9467bd"/>
<rect x="138.28" y="475.17" width="2.65" height="2.65" rx="0.6" fill="#9467bd"/>
<rect x="146.14" y="475.18" width="2.65" height="2.65" rx="0.6" fill="#9467bd"/>
<rect x="154.01" y="475.19" width="2.65" height="2.65" rx="0.6" fill="#9467bd"/>
<rect x="161.88" y="475.2" width="2.65" height="2.65" rx="0.6" fill="#9467bd"/>
<rect x="169.74" y="475.21" width="2.65" height="2.65" rx="0.6" fill="#9467bd"/>
<rect x="177.61" y="475.21" width="2.65" height="2.65" rx="0.6" fill="#9467bd"/>
<rect x="185.48" y="475.22" width="2.65" height="2.65" rx="0.6" fill="#9467bd"/>
<rect x="193.34" y="475.23" width="2.65" height="2.65" rx="0.6" fill="#9467bd"/>
<rect x="201.21" y="475.24" width="2.65" height="2.65" rx="0.6" fill="#9467bd"/>
<rect x="209.08" y="475.25" width="2.65" height="2.65" rx="0.6" fill="#9467bd"/>
<rect x="216.94" y="475.26" width="2.65" height="2.65" rx="0.6" fill="#9467bd"/>
<rect x="224.81" y="475.27" width="2.65" height="2.65" rx="0.6" fill="#9467bd"/>
<rect x="232.68" y="475.28" width="2.65" height="2.65" rx="0.6" fill="#9467bd"/>
<polyline points="45.2,451.8 53.07,491.2 60.93,495 68.8,496 76.67,496.4 84.53,496.7 92.4,496.85 100.27,497 108.13,497.02 116,497.05 123.87,497.07 131.73,497.09 139.6,497.12 147.47,497.14 155.33,497.16 163.2,497.19 171.07,497.21 178.93,497.24 186.8,497.26 194.67,497.28 202.53,497.31 210.4,497.33 218.27,497.35 226.13,497.38 234,497.4" fill="none" stroke="#ff0000" stroke-width="0.75" stroke-opacity="0.9"/>
<rect x="43.77" y="450.37" width="2.86" height="2.86" rx="0.6" fill="#ff0000"/>
<rect x="51.64" y="489.77" width="2.86" height="2.86" rx="0.6" fill="#ff0000"/>
<rect x="59.5" y="493.57" width="2.86" height="2.86" rx="0.6" fill="#ff0000"/>
<rect x="67.37" y="494.57" width="2.86" height="2.86" rx="0.6" fill="#ff0000"/>
<rect x="75.24" y="494.97" width="2.86" height="2.86" rx="0.6" fill="#ff0000"/>
<rect x="83.1" y="495.27" width="2.86" height="2.86" rx="0.6" fill="#ff0000"/>
<rect x="90.97" y="495.42" width="2.86" height="2.86" rx="0.6" fill="#ff0000"/>
<rect x="98.84" y="495.57" width="2.86" height="2.86" rx="0.6" fill="#ff0000"/>
<rect x="106.7" y="495.59" width="2.86" height="2.86" rx="0.6" fill="#ff0000"/>
<rect x="114.57" y="495.62" width="2.86" height="2.86" rx="0.6" fill="#ff0000"/>
<rect x="122.44" y="495.64" width="2.86" height="2.86" rx="0.6" fill="#ff0000"/>
<rect x="130.3" y="495.66" width="2.86" height="2.86" rx="0.6" fill="#ff0000"/>
<rect x="138.17" y="495.69" width="2.86" height="2.86" rx="0.6" fill="#ff0000"/>
<rect x="146.04" y="495.71" width="2.86" height="2.86" rx="0.6" fill="#ff0000"/>
<rect x="153.9" y="495.73" width="2.86" height="2.86" rx="0.6" fill="#ff0000"/>
<rect x="161.77" y="495.76" width="2.86" height="2.86" rx="0.6" fill="#ff0000"/>
<rect x="169.64" y="495.78" width="2.86" height="2.86" rx="0.6" fill="#ff0000"/>
<rect x="177.5" y="495.8" width="2.86" height="2.86" rx="0.6" fill="#ff0000"/>
<rect x="185.37" y="495.83" width="2.86" height="2.86" rx="0.6" fill="#ff0000"/>
<rect x="193.24" y="495.85" width="2.86" height="2.86" rx="0.6" fill="#ff0000"/>
<rect x="201.1" y="495.87" width="2.86" height="2.86" rx="0.6" fill="#ff0000"/>
<rect x="208.97" y="495.9" width="2.86" height="2.86" rx="0.6" fill="#ff0000"/>
<rect x="216.84" y="495.92" width="2.86" height="2.86" rx="0.6" fill="#ff0000"/>
<rect x="224.7" y="495.95" width="2.86" height="2.86" rx="0.6" fill="#ff0000"/>
<rect x="232.57" y="495.97" width="2.86" height="2.86" rx="0.6" fill="#ff0000"/>
<polyline points="45.2,414 53.07,417.8 60.93,431.8 68.8,449.4 76.67,449.4 84.53,449.4 92.4,453.8 100.27,453.8 108.13,453.8 116,453.8 123.87,453.8 131.73,467.3 139.6,478.5 147.47,478.51 155.33,478.52 163.2,478.52 171.07,478.53 178.93,478.54 186.8,478.55 194.67,478.56 202.53,478.57 210.4,478.58 218.27,478.58 226.13,478.59 234,478.6" fill="none" stroke="#8c564b" stroke-width="0.5" stroke-opacity="0.75" stroke-dasharray="none" stroke-dashoffset="0"/>
<rect x="43.88" y="412.68" width="2.65" height="2.65" rx="0.6" fill="#8c564b"/>
<rect x="51.74" y="416.48" width="2.65" height="2.65" rx="0.6" fill="#8c564b"/>
<rect x="59.61" y="430.48" width="2.65" height="2.65" rx="0.6" fill="#8c564b"/>
<rect x="67.48" y="448.07" width="2.65" height="2.65" rx="0.6" fill="#8c564b"/>
<rect x="75.34" y="448.07" width="2.65" height="2.65" rx="0.6" fill="#8c564b"/>
<rect x="83.21" y="448.07" width="2.65" height="2.65" rx="0.6" fill="#8c564b"/>
<rect x="91.08" y="452.48" width="2.65" height="2.65" rx="0.6" fill="#8c564b"/>
<rect x="98.94" y="452.48" width="2.65" height="2.65" rx="0.6" fill="#8c564b"/>
<rect x="106.81" y="452.48" width="2.65" height="2.65" rx="0.6" fill="#8c564b"/>
<rect x="114.67" y="452.48" width="2.65" height="2.65" rx="0.6" fill="#8c564b"/>
<rect x="122.54" y="452.48" width="2.65" height="2.65" rx="0.6" fill="#8c564b"/>
<rect x="130.41" y="465.98" width="2.65" height="2.65" rx="0.6" fill="#8c564b"/>
<rect x="138.28" y="477.18" width="2.65" height="2.65" rx="0.6" fill="#8c564b"/>
<rect x="146.14" y="477.18" width="2.65" height="2.65" rx="0.6" fill="#8c564b"/>
<rect x="154.01" y="477.19" width="2.65" height="2.65" rx="0.6" fill="#8c564b"/>
<rect x="161.88" y="477.2" width="2.65" height="2.65" rx="0.6" fill="#8c564b"/>
<rect x="169.74" y="477.21" width="2.65" height="2.65" rx="0.6" fill="#8c564b"/>
<rect x="177.61" y="477.22" width="2.65" height="2.65" rx="0.6" fill="#8c564b"/>
<rect x="185.48" y="477.23" width="2.65" height="2.65" rx="0.6" fill="#8c564b"/>
<rect x="193.34" y="477.23" width="2.65" height="2.65" rx="0.6" fill="#8c564b"/>
<rect x="201.21" y="477.24" width="2.65" height="2.65" rx="0.6" fill="#8c564b"/>
<rect x="209.08" y="477.25" width="2.65" height="2.65" rx="0.6" fill="#8c564b"/>
<rect x="216.94" y="477.26" width="2.65" height="2.65" rx="0.6" fill="#8c564b"/>
<rect x="224.81" y="477.27" width="2.65" height="2.65" rx="0.6" fill="#8c564b"/>
<rect x="232.68" y="477.28" width="2.65" height="2.65" rx="0.6" fill="#8c564b"/>
<polyline points="45.2,386.6 53.07,467.3 60.93,473.7 68.8,477.1 76.67,486.5 84.53,487.7 92.4,488 100.27,488.2 108.13,488.4 116,488.4 123.87,488.4 131.73,488.4 139.6,488.4 147.47,488.4 155.33,488.4 163.2,488.4 171.07,488.4 178.93,488.4 186.8,488.4 194.67,488.4 202.53,488.4 210.4,488.4 218.27,488.4 226.13,488.4 234,488.4" fill="none" stroke="#e377c2" stroke-width="0.5" stroke-opacity="0.75" stroke-dasharray="none" stroke-dashoffset="0"/>
<rect x="43.88" y="385.28" width="2.65" height="2.65" rx="0.6" fill="#e377c2"/>
<rect x="51.74" y="465.98" width="2.65" height="2.65" rx="0.6" fill="#e377c2"/>
<rect x="59.61" y="472.38" width="2.65" height="2.65" rx="0.6" fill="#e377c2"/>
<rect x="67.48" y="475.78" width="2.65" height="2.65" rx="0.6" fill="#e377c2"/>
<rect x="75.34" y="485.18" width="2.65" height="2.65" rx="0.6" fill="#e377c2"/>
<rect x="83.21" y="486.38" width="2.65" height="2.65" rx="0.6" fill="#e377c2"/>
<rect x="91.08" y="486.68" width="2.65" height="2.65" rx="0.6" fill="#e377c2"/>
<rect x="98.94" y="486.88" width="2.65" height="2.65" rx="0.6" fill="#e377c2"/>
<rect x="106.81" y="487.07" width="2.65" height="2.65" rx="0.6" fill="#e377c2"/>
<rect x="114.67" y="487.07" width="2.65" height="2.65" rx="0.6" fill="#e377c2"/>
<rect x="122.54" y="487.07" width="2.65" height="2.65" rx="0.6" fill="#e377c2"/>
<rect x="130.41" y="487.07" width="2.65" height="2.65" rx="0.6" fill="#e377c2"/>
<rect x="138.28" y="487.07" width="2.65" height="2.65" rx="0.6" fill="#e377c2"/>
<rect x="146.14" y="487.07" width="2.65" height="2.65" rx="0.6" fill="#e377c2"/>
<rect x="154.01" y="487.07" width="2.65" height="2.65" rx="0.6" fill="#e377c2"/>
<rect x="161.88" y="487.07" width="2.65" height="2.65" rx="0.6" fill="#e377c2"/>
<rect x="169.74" y="487.07" width="2.65" height="2.65" rx="0.6" fill="#e377c2"/>
<rect x="177.61" y="487.07" width="2.65" height="2.65" rx="0.6" fill="#e377c2"/>
<rect x="185.48" y="487.07" width="2.65" height="2.65" rx="0.6" fill="#e377c2"/>
<rect x="193.34" y="487.07" width="2.65" height="2.65" rx="0.6" fill="#e377c2"/>
<rect x="201.21" y="487.07" width="2.65" height="2.65" rx="0.6" fill="#e377c2"/>
<rect x="209.08" y="487.07" width="2.65" height="2.65" rx="0.6" fill="#e377c2"/>
<rect x="216.94" y="487.07" width="2.65" height="2.65" rx="0.6" fill="#e377c2"/>
<rect x="224.81" y="487.07" width="2.65" height="2.65" rx="0.6" fill="#e377c2"/>
<rect x="232.68" y="487.07" width="2.65" height="2.65" rx="0.6" fill="#e377c2"/>
<polyline points="45.2,394.4 53.07,455.8 60.93,460.7 68.8,465 76.67,466.5 84.53,466.6 92.4,466.9 100.27,467.2 108.13,469.2 116,469.65 123.87,470.1 131.73,470.25 139.6,470.4 147.47,470.41 155.33,470.42 163.2,470.42 171.07,470.43 178.93,470.44 186.8,470.45 194.67,470.46 202.53,470.47 210.4,470.48 218.27,470.48 226.13,470.49 234,470.5" fill="none" stroke="#7f7f7f" stroke-width="0.5" stroke-opacity="0.75" stroke-dasharray="none" stroke-dashoffset="0"/>
<rect x="43.88" y="393.07" width="2.65" height="2.65" rx="0.6" fill="#7f7f7f"/>
<rect x="51.74" y="454.48" width="2.65" height="2.65" rx="0.6" fill="#7f7f7f"/>
<rect x="59.61" y="459.38" width="2.65" height="2.65" rx="0.6" fill="#7f7f7f"/>
<rect x="67.48" y="463.68" width="2.65" height="2.65" rx="0.6" fill="#7f7f7f"/>
<rect x="75.34" y="465.18" width="2.65" height="2.65" rx="0.6" fill="#7f7f7f"/>
<rect x="83.21" y="465.28" width="2.65" height="2.65" rx="0.6" fill="#7f7f7f"/>
<rect x="91.08" y="465.57" width="2.65" height="2.65" rx="0.6" fill="#7f7f7f"/>
<rect x="98.94" y="465.88" width="2.65" height="2.65" rx="0.6" fill="#7f7f7f"/>
<rect x="106.81" y="467.88" width="2.65" height="2.65" rx="0.6" fill="#7f7f7f"/>
<rect x="114.67" y="468.32" width="2.65" height="2.65" rx="0.6" fill="#7f7f7f"/>
<rect x="122.54" y="468.78" width="2.65" height="2.65" rx="0.6" fill="#7f7f7f"/>
<rect x="130.41" y="468.93" width="2.65" height="2.65" rx="0.6" fill="#7f7f7f"/>
<rect x="138.28" y="469.07" width="2.65" height="2.65" rx="0.6" fill="#7f7f7f"/>
<rect x="146.14" y="469.08" width="2.65" height="2.65" rx="0.6" fill="#7f7f7f"/>
<rect x="154.01" y="469.09" width="2.65" height="2.65" rx="0.6" fill="#7f7f7f"/>
<rect x="161.88" y="469.1" width="2.65" height="2.65" rx="0.6" fill="#7f7f7f"/>
<rect x="169.74" y="469.11" width="2.65" height="2.65" rx="0.6" fill="#7f7f7f"/>
<rect x="177.61" y="469.12" width="2.65" height="2.65" rx="0.6" fill="#7f7f7f"/>
<rect x="185.48" y="469.12" width="2.65" height="2.65" rx="0.6" fill="#7f7f7f"/>
<rect x="193.34" y="469.13" width="2.65" height="2.65" rx="0.6" fill="#7f7f7f"/>
<rect x="201.21" y="469.14" width="2.65" height="2.65" rx="0.6" fill="#7f7f7f"/>
<rect x="209.08" y="469.15" width="2.65" height="2.65" rx="0.6" fill="#7f7f7f"/>
<rect x="216.94" y="469.16" width="2.65" height="2.65" rx="0.6" fill="#7f7f7f"/>
<rect x="224.81" y="469.17" width="2.65" height="2.65" rx="0.6" fill="#7f7f7f"/>
<rect x="232.68" y="469.18" width="2.65" height="2.65" rx="0.6" fill="#7f7f7f"/>
<rect x="35.4" y="381.5" width="208.1" height="121.7" class="frame"/>
<line x1="45.2" y1="503.2" x2="45.2" y2="504.6" class="tick"/>
<text x="45.2" y="509.7" class="tl" style="font-size:4.75px" text-anchor="middle">0</text>
<line x1="82.96" y1="503.2" x2="82.96" y2="504.6" class="tick"/>
<text x="82.96" y="509.7" class="tl" style="font-size:4.75px" text-anchor="middle">100</text>
<line x1="120.72" y1="503.2" x2="120.72" y2="504.6" class="tick"/>
<text x="120.72" y="509.7" class="tl" style="font-size:4.75px" text-anchor="middle">200</text>
<line x1="158.48" y1="503.2" x2="158.48" y2="504.6" class="tick"/>
<text x="158.48" y="509.7" class="tl" style="font-size:4.75px" text-anchor="middle">300</text>
<line x1="196.24" y1="503.2" x2="196.24" y2="504.6" class="tick"/>
<text x="196.24" y="509.7" class="tl" style="font-size:4.75px" text-anchor="middle">400</text>
<line x1="234" y1="503.2" x2="234" y2="504.6" class="tick"/>
<text x="234" y="509.7" class="tl" style="font-size:4.75px" text-anchor="middle">500</text>
<line x1="34" y1="387.3" x2="35.4" y2="387.3" class="tick"/>
<text x="33.2" y="388.9" class="tl" style="font-size:4.1px" text-anchor="end">5.00175 × 10<tspan class="sup" dy="-1.8">4</tspan></text>
<line x1="34" y1="403.19" x2="35.4" y2="403.19" class="tick"/>
<text x="33.2" y="404.79" class="tl" style="font-size:4.1px" text-anchor="end">5.0015 × 10<tspan class="sup" dy="-1.8">4</tspan></text>
<line x1="34" y1="419.07" x2="35.4" y2="419.07" class="tick"/>
<text x="33.2" y="420.67" class="tl" style="font-size:4.1px" text-anchor="end">5.00125 × 10<tspan class="sup" dy="-1.8">4</tspan></text>
<line x1="34" y1="434.96" x2="35.4" y2="434.96" class="tick"/>
<text x="33.2" y="436.56" class="tl" style="font-size:4.1px" text-anchor="end">5.001 × 10<tspan class="sup" dy="-1.8">4</tspan></text>
<line x1="34" y1="450.84" x2="35.4" y2="450.84" class="tick"/>
<text x="33.2" y="452.44" class="tl" style="font-size:4.1px" text-anchor="end">5.00075 × 10<tspan class="sup" dy="-1.8">4</tspan></text>
<line x1="34" y1="466.73" x2="35.4" y2="466.73" class="tick"/>
<text x="33.2" y="468.33" class="tl" style="font-size:4.1px" text-anchor="end">5.0005 × 10<tspan class="sup" dy="-1.8">4</tspan></text>
<line x1="34" y1="482.62" x2="35.4" y2="482.62" class="tick"/>
<text x="33.2" y="484.22" class="tl" style="font-size:4.1px" text-anchor="end">5.00025 × 10<tspan class="sup" dy="-1.8">4</tspan></text>
<line x1="34" y1="498.5" x2="35.4" y2="498.5" class="tick"/>
<text x="33.2" y="500.1" class="tl" style="font-size:4.1px" text-anchor="end">5 × 10<tspan class="sup" dy="-1.8">4</tspan></text>
<text x="139.45" y="514.1" class="al" style="font-size:4.3px" text-anchor="middle">Iteration</text>
<text transform="translate(3.3,442.35) rotate(-90)" class="al" style="font-size:4.1px" text-anchor="middle" dy="1.4">Average Fitness Value</text>
<rect x="212" y="382.3" width="29.7" height="52.2" rx="0.8" class="leg"/>
<line x1="213" y1="386.5" x2="221.6" y2="386.5" stroke="#1f77b4" stroke-width="0.5" stroke-opacity="0.75"/>
<rect x="215.98" y="385.18" width="2.65" height="2.65" rx="0.6" fill="#1f77b4"/>
<text x="224.1" y="387.9" class="lt" style="font-size:3.9px">WOA</text>
<line x1="213" y1="391.94" x2="221.6" y2="391.94" stroke="#ff7f0e" stroke-width="0.5" stroke-opacity="0.75"/>
<rect x="215.98" y="390.62" width="2.65" height="2.65" rx="0.6" fill="#ff7f0e"/>
<text x="224.1" y="393.34" class="lt" style="font-size:3.9px">CSA</text>
<line x1="213" y1="397.38" x2="221.6" y2="397.38" stroke="#2ca02c" stroke-width="0.5" stroke-opacity="0.75"/>
<rect x="215.98" y="396.06" width="2.65" height="2.65" rx="0.6" fill="#2ca02c"/>
<text x="224.1" y="398.78" class="lt" style="font-size:3.9px">HHO</text>
<line x1="213" y1="402.82" x2="221.6" y2="402.82" stroke="#d62728" stroke-width="0.5" stroke-opacity="0.75"/>
<rect x="215.98" y="401.5" width="2.65" height="2.65" rx="0.6" fill="#d62728"/>
<text x="224.1" y="404.22" class="lt" style="font-size:3.9px">EHO</text>
<line x1="213" y1="408.26" x2="221.6" y2="408.26" stroke="#9467bd" stroke-width="0.5" stroke-opacity="0.75"/>
<rect x="215.98" y="406.94" width="2.65" height="2.65" rx="0.6" fill="#9467bd"/>
<text x="224.1" y="409.66" class="lt" style="font-size:3.9px">BES</text>
<line x1="213" y1="413.7" x2="221.6" y2="413.7" stroke="#ff0000" stroke-width="0.5" stroke-opacity="0.75"/>
<rect x="215.98" y="412.38" width="2.65" height="2.65" rx="0.6" fill="#ff0000"/>
<text x="224.1" y="415.1" class="lt" style="font-size:3.9px">ImWOA</text>
<line x1="213" y1="419.14" x2="221.6" y2="419.14" stroke="#8c564b" stroke-width="0.5" stroke-opacity="0.75"/>
<rect x="215.98" y="417.81" width="2.65" height="2.65" rx="0.6" fill="#8c564b"/>
<text x="224.1" y="420.54" class="lt" style="font-size:3.9px">ImWOA1</text>
<line x1="213" y1="424.58" x2="221.6" y2="424.58" stroke="#e377c2" stroke-width="0.5" stroke-opacity="0.75"/>
<rect x="215.98" y="423.25" width="2.65" height="2.65" rx="0.6" fill="#e377c2"/>
<text x="224.1" y="425.98" class="lt" style="font-size:3.9px">ImWOA2</text>
<line x1="213" y1="430.02" x2="221.6" y2="430.02" stroke="#7f7f7f" stroke-width="0.5" stroke-opacity="0.75"/>
<rect x="215.98" y="428.69" width="2.65" height="2.65" rx="0.6" fill="#7f7f7f"/>
<text x="224.1" y="431.42" class="lt" style="font-size:3.9px">ImWOA3</text>
<text x="123" y="530" class="cap" text-anchor="middle">F5</text>
<line x1="329.3" y1="370.1" x2="329.3" y2="501.2" class="grid"/>
<line x1="370.34" y1="370.1" x2="370.34" y2="501.2" class="grid"/>
<line x1="411.38" y1="370.1" x2="411.38" y2="501.2" class="grid"/>
<line x1="452.42" y1="370.1" x2="452.42" y2="501.2" class="grid"/>
<line x1="493.46" y1="370.1" x2="493.46" y2="501.2" class="grid"/>
<line x1="534.5" y1="370.1" x2="534.5" y2="501.2" class="grid"/>
<line x1="319.5" y1="497.7" x2="545" y2="497.7" class="grid"/>
<line x1="319.5" y1="465.57" x2="545" y2="465.57" class="grid"/>
<line x1="319.5" y1="433.44" x2="545" y2="433.44" class="grid"/>
<line x1="319.5" y1="401.31" x2="545" y2="401.31" class="grid"/>
<polyline points="329.3,381 337.85,389.3 346.4,391.9 354.95,392.6 363.5,394.4 372.05,395.4 380.6,396.1 389.15,396.5 397.7,397.3 406.25,397.75 414.8,398.2 423.35,398.7 431.9,399.5 440.45,400.2 449,400.4 457.55,400.6 466.1,401.2 474.65,401.3 483.2,401.6 491.75,401.9 500.3,402.2 508.85,403 517.4,403.13 525.95,403.27 534.5,403.4" fill="none" stroke="#1f77b4" stroke-width="0.5" stroke-opacity="0.75" stroke-dasharray="none" stroke-dashoffset="0"/>
<rect x="327.85" y="379.55" width="2.9" height="2.9" rx="0.6" fill="#1f77b4"/>
<rect x="336.4" y="387.85" width="2.9" height="2.9" rx="0.6" fill="#1f77b4"/>
<rect x="344.95" y="390.45" width="2.9" height="2.9" rx="0.6" fill="#1f77b4"/>
<rect x="353.5" y="391.15" width="2.9" height="2.9" rx="0.6" fill="#1f77b4"/>
<rect x="362.05" y="392.95" width="2.9" height="2.9" rx="0.6" fill="#1f77b4"/>
<rect x="370.6" y="393.95" width="2.9" height="2.9" rx="0.6" fill="#1f77b4"/>
<rect x="379.15" y="394.65" width="2.9" height="2.9" rx="0.6" fill="#1f77b4"/>
<rect x="387.7" y="395.05" width="2.9" height="2.9" rx="0.6" fill="#1f77b4"/>
<rect x="396.25" y="395.85" width="2.9" height="2.9" rx="0.6" fill="#1f77b4"/>
<rect x="404.8" y="396.3" width="2.9" height="2.9" rx="0.6" fill="#1f77b4"/>
<rect x="413.35" y="396.75" width="2.9" height="2.9" rx="0.6" fill="#1f77b4"/>
<rect x="421.9" y="397.25" width="2.9" height="2.9" rx="0.6" fill="#1f77b4"/>
<rect x="430.45" y="398.05" width="2.9" height="2.9" rx="0.6" fill="#1f77b4"/>
<rect x="439" y="398.75" width="2.9" height="2.9" rx="0.6" fill="#1f77b4"/>
<rect x="447.55" y="398.95" width="2.9" height="2.9" rx="0.6" fill="#1f77b4"/>
<rect x="456.1" y="399.15" width="2.9" height="2.9" rx="0.6" fill="#1f77b4"/>
<rect x="464.65" y="399.75" width="2.9" height="2.9" rx="0.6" fill="#1f77b4"/>
<rect x="473.2" y="399.85" width="2.9" height="2.9" rx="0.6" fill="#1f77b4"/>
<rect x="481.75" y="400.15" width="2.9" height="2.9" rx="0.6" fill="#1f77b4"/>
<rect x="490.3" y="400.45" width="2.9" height="2.9" rx="0.6" fill="#1f77b4"/>
<rect x="498.85" y="400.75" width="2.9" height="2.9" rx="0.6" fill="#1f77b4"/>
<rect x="507.4" y="401.55" width="2.9" height="2.9" rx="0.6" fill="#1f77b4"/>
<rect x="515.95" y="401.68" width="2.9" height="2.9" rx="0.6" fill="#1f77b4"/>
<rect x="524.5" y="401.82" width="2.9" height="2.9" rx="0.6" fill="#1f77b4"/>
<rect x="533.05" y="401.95" width="2.9" height="2.9" rx="0.6" fill="#1f77b4"/>
<polyline points="329.3,381 337.85,382.3 346.4,383.4 354.95,383.52 363.5,383.64 372.05,383.77 380.6,383.89 389.15,384.01 397.7,384.13 406.25,384.26 414.8,384.38 423.35,384.5 431.9,385.2 440.45,385.4 449,385.6 457.55,385.75 466.1,385.9 474.65,385.97 483.2,386.03 491.75,386.1 500.3,386.4 508.85,386.8 517.4,387.4 525.95,387.6 534.5,387.8" fill="none" stroke="#ff7f0e" stroke-width="0.5" stroke-opacity="0.75" stroke-dasharray="none" stroke-dashoffset="0"/>
<rect x="327.85" y="379.55" width="2.9" height="2.9" rx="0.6" fill="#ff7f0e"/>
<rect x="336.4" y="380.85" width="2.9" height="2.9" rx="0.6" fill="#ff7f0e"/>
<rect x="344.95" y="381.95" width="2.9" height="2.9" rx="0.6" fill="#ff7f0e"/>
<rect x="353.5" y="382.07" width="2.9" height="2.9" rx="0.6" fill="#ff7f0e"/>
<rect x="362.05" y="382.19" width="2.9" height="2.9" rx="0.6" fill="#ff7f0e"/>
<rect x="370.6" y="382.32" width="2.9" height="2.9" rx="0.6" fill="#ff7f0e"/>
<rect x="379.15" y="382.44" width="2.9" height="2.9" rx="0.6" fill="#ff7f0e"/>
<rect x="387.7" y="382.56" width="2.9" height="2.9" rx="0.6" fill="#ff7f0e"/>
<rect x="396.25" y="382.68" width="2.9" height="2.9" rx="0.6" fill="#ff7f0e"/>
<rect x="404.8" y="382.81" width="2.9" height="2.9" rx="0.6" fill="#ff7f0e"/>
<rect x="413.35" y="382.93" width="2.9" height="2.9" rx="0.6" fill="#ff7f0e"/>
<rect x="421.9" y="383.05" width="2.9" height="2.9" rx="0.6" fill="#ff7f0e"/>
<rect x="430.45" y="383.75" width="2.9" height="2.9" rx="0.6" fill="#ff7f0e"/>
<rect x="439" y="383.95" width="2.9" height="2.9" rx="0.6" fill="#ff7f0e"/>
<rect x="447.55" y="384.15" width="2.9" height="2.9" rx="0.6" fill="#ff7f0e"/>
<rect x="456.1" y="384.3" width="2.9" height="2.9" rx="0.6" fill="#ff7f0e"/>
<rect x="464.65" y="384.45" width="2.9" height="2.9" rx="0.6" fill="#ff7f0e"/>
<rect x="473.2" y="384.52" width="2.9" height="2.9" rx="0.6" fill="#ff7f0e"/>
<rect x="481.75" y="384.58" width="2.9" height="2.9" rx="0.6" fill="#ff7f0e"/>
<rect x="490.3" y="384.65" width="2.9" height="2.9" rx="0.6" fill="#ff7f0e"/>
<rect x="498.85" y="384.95" width="2.9" height="2.9" rx="0.6" fill="#ff7f0e"/>
<rect x="507.4" y="385.35" width="2.9" height="2.9" rx="0.6" fill="#ff7f0e"/>
<rect x="515.95" y="385.95" width="2.9" height="2.9" rx="0.6" fill="#ff7f0e"/>
<rect x="524.5" y="386.15" width="2.9" height="2.9" rx="0.6" fill="#ff7f0e"/>
<rect x="533.05" y="386.35" width="2.9" height="2.9" rx="0.6" fill="#ff7f0e"/>
<polyline points="329.3,379.1 337.85,386 346.4,389 354.95,391 363.5,393 372.05,394.5 380.6,395.1 389.15,395.8 397.7,396.5 406.25,397.6 414.8,398.7 423.35,400.2 431.9,401.2 440.45,402.7 449,404.1 457.55,405.3 466.1,406.3 474.65,407.6 483.2,408.9 491.75,410.4 500.3,411.5 508.85,412.8 517.4,414.3 525.95,416.2 534.5,417.6" fill="none" stroke="#2ca02c" stroke-width="0.5" stroke-opacity="0.75" stroke-dasharray="none" stroke-dashoffset="0"/>
<rect x="327.85" y="377.65" width="2.9" height="2.9" rx="0.6" fill="#2ca02c"/>
<rect x="336.4" y="384.55" width="2.9" height="2.9" rx="0.6" fill="#2ca02c"/>
<rect x="344.95" y="387.55" width="2.9" height="2.9" rx="0.6" fill="#2ca02c"/>
<rect x="353.5" y="389.55" width="2.9" height="2.9" rx="0.6" fill="#2ca02c"/>
<rect x="362.05" y="391.55" width="2.9" height="2.9" rx="0.6" fill="#2ca02c"/>
<rect x="370.6" y="393.05" width="2.9" height="2.9" rx="0.6" fill="#2ca02c"/>
<rect x="379.15" y="393.65" width="2.9" height="2.9" rx="0.6" fill="#2ca02c"/>
<rect x="387.7" y="394.35" width="2.9" height="2.9" rx="0.6" fill="#2ca02c"/>
<rect x="396.25" y="395.05" width="2.9" height="2.9" rx="0.6" fill="#2ca02c"/>
<rect x="404.8" y="396.15" width="2.9" height="2.9" rx="0.6" fill="#2ca02c"/>
<rect x="413.35" y="397.25" width="2.9" height="2.9" rx="0.6" fill="#2ca02c"/>
<rect x="421.9" y="398.75" width="2.9" height="2.9" rx="0.6" fill="#2ca02c"/>
<rect x="430.45" y="399.75" width="2.9" height="2.9" rx="0.6" fill="#2ca02c"/>
<rect x="439" y="401.25" width="2.9" height="2.9" rx="0.6" fill="#2ca02c"/>
<rect x="447.55" y="402.65" width="2.9" height="2.9" rx="0.6" fill="#2ca02c"/>
<rect x="456.1" y="403.85" width="2.9" height="2.9" rx="0.6" fill="#2ca02c"/>
<rect x="464.65" y="404.85" width="2.9" height="2.9" rx="0.6" fill="#2ca02c"/>
<rect x="473.2" y="406.15" width="2.9" height="2.9" rx="0.6" fill="#2ca02c"/>
<rect x="481.75" y="407.45" width="2.9" height="2.9" rx="0.6" fill="#2ca02c"/>
<rect x="490.3" y="408.95" width="2.9" height="2.9" rx="0.6" fill="#2ca02c"/>
<rect x="498.85" y="410.05" width="2.9" height="2.9" rx="0.6" fill="#2ca02c"/>
<rect x="507.4" y="411.35" width="2.9" height="2.9" rx="0.6" fill="#2ca02c"/>
<rect x="515.95" y="412.85" width="2.9" height="2.9" rx="0.6" fill="#2ca02c"/>
<rect x="524.5" y="414.75" width="2.9" height="2.9" rx="0.6" fill="#2ca02c"/>
<rect x="533.05" y="416.15" width="2.9" height="2.9" rx="0.6" fill="#2ca02c"/>
<polyline points="329.3,381.3 337.85,386 346.4,388.5 354.95,389.6 363.5,390 372.05,390.07 380.6,390.15 389.15,390.23 397.7,390.3 406.25,390.38 414.8,390.46 423.35,390.54 431.9,390.62 440.45,390.7 449,391.07 457.55,391.45 466.1,391.82 474.65,392.2 483.2,392.28 491.75,392.36 500.3,392.44 508.85,392.52 517.4,392.6 525.95,392.75 534.5,392.9" fill="none" stroke="#d62728" stroke-width="0.5" stroke-opacity="0.75" stroke-dasharray="none" stroke-dashoffset="0"/>
<rect x="327.85" y="379.85" width="2.9" height="2.9" rx="0.6" fill="#d62728"/>
<rect x="336.4" y="384.55" width="2.9" height="2.9" rx="0.6" fill="#d62728"/>
<rect x="344.95" y="387.05" width="2.9" height="2.9" rx="0.6" fill="#d62728"/>
<rect x="353.5" y="388.15" width="2.9" height="2.9" rx="0.6" fill="#d62728"/>
<rect x="362.05" y="388.55" width="2.9" height="2.9" rx="0.6" fill="#d62728"/>
<rect x="370.6" y="388.62" width="2.9" height="2.9" rx="0.6" fill="#d62728"/>
<rect x="379.15" y="388.7" width="2.9" height="2.9" rx="0.6" fill="#d62728"/>
<rect x="387.7" y="388.78" width="2.9" height="2.9" rx="0.6" fill="#d62728"/>
<rect x="396.25" y="388.85" width="2.9" height="2.9" rx="0.6" fill="#d62728"/>
<rect x="404.8" y="388.93" width="2.9" height="2.9" rx="0.6" fill="#d62728"/>
<rect x="413.35" y="389.01" width="2.9" height="2.9" rx="0.6" fill="#d62728"/>
<rect x="421.9" y="389.09" width="2.9" height="2.9" rx="0.6" fill="#d62728"/>
<rect x="430.45" y="389.17" width="2.9" height="2.9" rx="0.6" fill="#d62728"/>
<rect x="439" y="389.25" width="2.9" height="2.9" rx="0.6" fill="#d62728"/>
<rect x="447.55" y="389.62" width="2.9" height="2.9" rx="0.6" fill="#d62728"/>
<rect x="456.1" y="390" width="2.9" height="2.9" rx="0.6" fill="#d62728"/>
<rect x="464.65" y="390.38" width="2.9" height="2.9" rx="0.6" fill="#d62728"/>
<rect x="473.2" y="390.75" width="2.9" height="2.9" rx="0.6" fill="#d62728"/>
<rect x="481.75" y="390.83" width="2.9" height="2.9" rx="0.6" fill="#d62728"/>
<rect x="490.3" y="390.91" width="2.9" height="2.9" rx="0.6" fill="#d62728"/>
<rect x="498.85" y="390.99" width="2.9" height="2.9" rx="0.6" fill="#d62728"/>
<rect x="507.4" y="391.07" width="2.9" height="2.9" rx="0.6" fill="#d62728"/>
<rect x="515.95" y="391.15" width="2.9" height="2.9" rx="0.6" fill="#d62728"/>
<rect x="524.5" y="391.3" width="2.9" height="2.9" rx="0.6" fill="#d62728"/>
<rect x="533.05" y="391.45" width="2.9" height="2.9" rx="0.6" fill="#d62728"/>
<polyline points="329.3,384.9 337.85,387 346.4,387.8 354.95,387.8 363.5,387.8 372.05,387.8 380.6,387.8 389.15,387.8 397.7,387.8 406.25,387.8 414.8,387.8 423.35,387.8 431.9,387.8 440.45,387.8 449,387.8 457.55,387.8 466.1,387.8 474.65,387.8 483.2,387.8 491.75,387.8 500.3,387.8 508.85,387.8 517.4,387.8 525.95,387.8 534.5,387.8" fill="none" stroke="#9467bd" stroke-width="0.5" stroke-opacity="0.75" stroke-dasharray="none" stroke-dashoffset="0"/>
<rect x="327.85" y="383.45" width="2.9" height="2.9" rx="0.6" fill="#9467bd"/>
<rect x="336.4" y="385.55" width="2.9" height="2.9" rx="0.6" fill="#9467bd"/>
<rect x="344.95" y="386.35" width="2.9" height="2.9" rx="0.6" fill="#9467bd"/>
<rect x="353.5" y="386.35" width="2.9" height="2.9" rx="0.6" fill="#9467bd"/>
<rect x="362.05" y="386.35" width="2.9" height="2.9" rx="0.6" fill="#9467bd"/>
<rect x="370.6" y="386.35" width="2.9" height="2.9" rx="0.6" fill="#9467bd"/>
<rect x="379.15" y="386.35" width="2.9" height="2.9" rx="0.6" fill="#9467bd"/>
<rect x="387.7" y="386.35" width="2.9" height="2.9" rx="0.6" fill="#9467bd"/>
<rect x="396.25" y="386.35" width="2.9" height="2.9" rx="0.6" fill="#9467bd"/>
<rect x="404.8" y="386.35" width="2.9" height="2.9" rx="0.6" fill="#9467bd"/>
<rect x="413.35" y="386.35" width="2.9" height="2.9" rx="0.6" fill="#9467bd"/>
<rect x="421.9" y="386.35" width="2.9" height="2.9" rx="0.6" fill="#9467bd"/>
<rect x="430.45" y="386.35" width="2.9" height="2.9" rx="0.6" fill="#9467bd"/>
<rect x="439" y="386.35" width="2.9" height="2.9" rx="0.6" fill="#9467bd"/>
<rect x="447.55" y="386.35" width="2.9" height="2.9" rx="0.6" fill="#9467bd"/>
<rect x="456.1" y="386.35" width="2.9" height="2.9" rx="0.6" fill="#9467bd"/>
<rect x="464.65" y="386.35" width="2.9" height="2.9" rx="0.6" fill="#9467bd"/>
<rect x="473.2" y="386.35" width="2.9" height="2.9" rx="0.6" fill="#9467bd"/>
<rect x="481.75" y="386.35" width="2.9" height="2.9" rx="0.6" fill="#9467bd"/>
<rect x="490.3" y="386.35" width="2.9" height="2.9" rx="0.6" fill="#9467bd"/>
<rect x="498.85" y="386.35" width="2.9" height="2.9" rx="0.6" fill="#9467bd"/>
<rect x="507.4" y="386.35" width="2.9" height="2.9" rx="0.6" fill="#9467bd"/>
<rect x="515.95" y="386.35" width="2.9" height="2.9" rx="0.6" fill="#9467bd"/>
<rect x="524.5" y="386.35" width="2.9" height="2.9" rx="0.6" fill="#9467bd"/>
<rect x="533.05" y="386.35" width="2.9" height="2.9" rx="0.6" fill="#9467bd"/>
<polyline points="329.3,381.5 337.85,402.7 346.4,417.5 354.95,431.3 363.5,444.2 372.05,450.3 380.6,459.4 389.15,462.3 397.7,469.9 406.25,473.2 414.8,480.4 423.35,481.5 431.9,483.1 440.45,484.2 449,486.4 457.55,487.3 466.1,489 474.65,491.6 483.2,492.3 491.75,492.3 500.3,492.5 508.85,492.9 517.4,492.9 525.95,493.4 534.5,496" fill="none" stroke="#ff0000" stroke-width="0.75" stroke-opacity="0.9"/>
<rect x="327.73" y="379.93" width="3.13" height="3.13" rx="0.6" fill="#ff0000"/>
<rect x="336.28" y="401.13" width="3.13" height="3.13" rx="0.6" fill="#ff0000"/>
<rect x="344.83" y="415.93" width="3.13" height="3.13" rx="0.6" fill="#ff0000"/>
<rect x="353.38" y="429.73" width="3.13" height="3.13" rx="0.6" fill="#ff0000"/>
<rect x="361.93" y="442.63" width="3.13" height="3.13" rx="0.6" fill="#ff0000"/>
<rect x="370.48" y="448.73" width="3.13" height="3.13" rx="0.6" fill="#ff0000"/>
<rect x="379.03" y="457.83" width="3.13" height="3.13" rx="0.6" fill="#ff0000"/>
<rect x="387.58" y="460.73" width="3.13" height="3.13" rx="0.6" fill="#ff0000"/>
<rect x="396.13" y="468.33" width="3.13" height="3.13" rx="0.6" fill="#ff0000"/>
<rect x="404.68" y="471.63" width="3.13" height="3.13" rx="0.6" fill="#ff0000"/>
<rect x="413.23" y="478.83" width="3.13" height="3.13" rx="0.6" fill="#ff0000"/>
<rect x="421.78" y="479.93" width="3.13" height="3.13" rx="0.6" fill="#ff0000"/>
<rect x="430.33" y="481.53" width="3.13" height="3.13" rx="0.6" fill="#ff0000"/>
<rect x="438.88" y="482.63" width="3.13" height="3.13" rx="0.6" fill="#ff0000"/>
<rect x="447.43" y="484.83" width="3.13" height="3.13" rx="0.6" fill="#ff0000"/>
<rect x="455.98" y="485.73" width="3.13" height="3.13" rx="0.6" fill="#ff0000"/>
<rect x="464.53" y="487.43" width="3.13" height="3.13" rx="0.6" fill="#ff0000"/>
<rect x="473.08" y="490.03" width="3.13" height="3.13" rx="0.6" fill="#ff0000"/>
<rect x="481.63" y="490.73" width="3.13" height="3.13" rx="0.6" fill="#ff0000"/>
<rect x="490.18" y="490.73" width="3.13" height="3.13" rx="0.6" fill="#ff0000"/>
<rect x="498.73" y="490.93" width="3.13" height="3.13" rx="0.6" fill="#ff0000"/>
<rect x="507.28" y="491.33" width="3.13" height="3.13" rx="0.6" fill="#ff0000"/>
<rect x="515.83" y="491.33" width="3.13" height="3.13" rx="0.6" fill="#ff0000"/>
<rect x="524.38" y="491.83" width="3.13" height="3.13" rx="0.6" fill="#ff0000"/>
<rect x="532.93" y="494.43" width="3.13" height="3.13" rx="0.6" fill="#ff0000"/>
<polyline points="329.3,381.3 337.85,383.7 346.4,383.7 354.95,384.2 363.5,384.25 372.05,384.3 380.6,384.35 389.15,384.4 397.7,384.45 406.25,384.5 414.8,384.55 423.35,384.6 431.9,388.5 440.45,391.9 449,392.2 457.55,392.5 466.1,392.6 474.65,393.6 483.2,393.8 491.75,394.7 500.3,394.8 508.85,395.1 517.4,395.3 525.95,396.1 534.5,396.3" fill="none" stroke="#8c564b" stroke-width="0.5" stroke-opacity="0.75" stroke-dasharray="none" stroke-dashoffset="0"/>
<rect x="327.85" y="379.85" width="2.9" height="2.9" rx="0.6" fill="#8c564b"/>
<rect x="336.4" y="382.25" width="2.9" height="2.9" rx="0.6" fill="#8c564b"/>
<rect x="344.95" y="382.25" width="2.9" height="2.9" rx="0.6" fill="#8c564b"/>
<rect x="353.5" y="382.75" width="2.9" height="2.9" rx="0.6" fill="#8c564b"/>
<rect x="362.05" y="382.8" width="2.9" height="2.9" rx="0.6" fill="#8c564b"/>
<rect x="370.6" y="382.85" width="2.9" height="2.9" rx="0.6" fill="#8c564b"/>
<rect x="379.15" y="382.9" width="2.9" height="2.9" rx="0.6" fill="#8c564b"/>
<rect x="387.7" y="382.95" width="2.9" height="2.9" rx="0.6" fill="#8c564b"/>
<rect x="396.25" y="383" width="2.9" height="2.9" rx="0.6" fill="#8c564b"/>
<rect x="404.8" y="383.05" width="2.9" height="2.9" rx="0.6" fill="#8c564b"/>
<rect x="413.35" y="383.1" width="2.9" height="2.9" rx="0.6" fill="#8c564b"/>
<rect x="421.9" y="383.15" width="2.9" height="2.9" rx="0.6" fill="#8c564b"/>
<rect x="430.45" y="387.05" width="2.9" height="2.9" rx="0.6" fill="#8c564b"/>
<rect x="439" y="390.45" width="2.9" height="2.9" rx="0.6" fill="#8c564b"/>
<rect x="447.55" y="390.75" width="2.9" height="2.9" rx="0.6" fill="#8c564b"/>
<rect x="456.1" y="391.05" width="2.9" height="2.9" rx="0.6" fill="#8c564b"/>
<rect x="464.65" y="391.15" width="2.9" height="2.9" rx="0.6" fill="#8c564b"/>
<rect x="473.2" y="392.15" width="2.9" height="2.9" rx="0.6" fill="#8c564b"/>
<rect x="481.75" y="392.35" width="2.9" height="2.9" rx="0.6" fill="#8c564b"/>
<rect x="490.3" y="393.25" width="2.9" height="2.9" rx="0.6" fill="#8c564b"/>
<rect x="498.85" y="393.35" width="2.9" height="2.9" rx="0.6" fill="#8c564b"/>
<rect x="507.4" y="393.65" width="2.9" height="2.9" rx="0.6" fill="#8c564b"/>
<rect x="515.95" y="393.85" width="2.9" height="2.9" rx="0.6" fill="#8c564b"/>
<rect x="524.5" y="394.65" width="2.9" height="2.9" rx="0.6" fill="#8c564b"/>
<rect x="533.05" y="394.85" width="2.9" height="2.9" rx="0.6" fill="#8c564b"/>
<polyline points="329.3,383 337.85,387.5 346.4,389.3 354.95,390 363.5,391.9 372.05,392.4 380.6,392.57 389.15,392.73 397.7,392.9 406.25,392.9 414.8,392.9 423.35,392.9 431.9,392.9 440.45,392.9 449,392.9 457.55,392.9 466.1,392.9 474.65,392.9 483.2,392.9 491.75,392.9 500.3,392.9 508.85,392.9 517.4,392.9 525.95,392.9 534.5,392.9" fill="none" stroke="#e377c2" stroke-width="0.5" stroke-opacity="0.75" stroke-dasharray="none" stroke-dashoffset="0"/>
<rect x="327.85" y="381.55" width="2.9" height="2.9" rx="0.6" fill="#e377c2"/>
<rect x="336.4" y="386.05" width="2.9" height="2.9" rx="0.6" fill="#e377c2"/>
<rect x="344.95" y="387.85" width="2.9" height="2.9" rx="0.6" fill="#e377c2"/>
<rect x="353.5" y="388.55" width="2.9" height="2.9" rx="0.6" fill="#e377c2"/>
<rect x="362.05" y="390.45" width="2.9" height="2.9" rx="0.6" fill="#e377c2"/>
<rect x="370.6" y="390.95" width="2.9" height="2.9" rx="0.6" fill="#e377c2"/>
<rect x="379.15" y="391.12" width="2.9" height="2.9" rx="0.6" fill="#e377c2"/>
<rect x="387.7" y="391.28" width="2.9" height="2.9" rx="0.6" fill="#e377c2"/>
<rect x="396.25" y="391.45" width="2.9" height="2.9" rx="0.6" fill="#e377c2"/>
<rect x="404.8" y="391.45" width="2.9" height="2.9" rx="0.6" fill="#e377c2"/>
<rect x="413.35" y="391.45" width="2.9" height="2.9" rx="0.6" fill="#e377c2"/>
<rect x="421.9" y="391.45" width="2.9" height="2.9" rx="0.6" fill="#e377c2"/>
<rect x="430.45" y="391.45" width="2.9" height="2.9" rx="0.6" fill="#e377c2"/>
<rect x="439" y="391.45" width="2.9" height="2.9" rx="0.6" fill="#e377c2"/>
<rect x="447.55" y="391.45" width="2.9" height="2.9" rx="0.6" fill="#e377c2"/>
<rect x="456.1" y="391.45" width="2.9" height="2.9" rx="0.6" fill="#e377c2"/>
<rect x="464.65" y="391.45" width="2.9" height="2.9" rx="0.6" fill="#e377c2"/>
<rect x="473.2" y="391.45" width="2.9" height="2.9" rx="0.6" fill="#e377c2"/>
<rect x="481.75" y="391.45" width="2.9" height="2.9" rx="0.6" fill="#e377c2"/>
<rect x="490.3" y="391.45" width="2.9" height="2.9" rx="0.6" fill="#e377c2"/>
<rect x="498.85" y="391.45" width="2.9" height="2.9" rx="0.6" fill="#e377c2"/>
<rect x="507.4" y="391.45" width="2.9" height="2.9" rx="0.6" fill="#e377c2"/>
<rect x="515.95" y="391.45" width="2.9" height="2.9" rx="0.6" fill="#e377c2"/>
<rect x="524.5" y="391.45" width="2.9" height="2.9" rx="0.6" fill="#e377c2"/>
<rect x="533.05" y="391.45" width="2.9" height="2.9" rx="0.6" fill="#e377c2"/>
<polyline points="329.3,375.9 337.85,390.4 346.4,397 354.95,399.7 363.5,401.3 372.05,404.1 380.6,404.5 389.15,405.3 397.7,405.3 406.25,405.6 414.8,406 423.35,406.3 431.9,406.31 440.45,406.32 449,406.32 457.55,406.33 466.1,406.34 474.65,406.35 483.2,406.35 491.75,406.36 500.3,406.37 508.85,406.38 517.4,406.38 525.95,406.39 534.5,406.4" fill="none" stroke="#7f7f7f" stroke-width="0.5" stroke-opacity="0.75" stroke-dasharray="none" stroke-dashoffset="0"/>
<rect x="327.85" y="374.45" width="2.9" height="2.9" rx="0.6" fill="#7f7f7f"/>
<rect x="336.4" y="388.95" width="2.9" height="2.9" rx="0.6" fill="#7f7f7f"/>
<rect x="344.95" y="395.55" width="2.9" height="2.9" rx="0.6" fill="#7f7f7f"/>
<rect x="353.5" y="398.25" width="2.9" height="2.9" rx="0.6" fill="#7f7f7f"/>
<rect x="362.05" y="399.85" width="2.9" height="2.9" rx="0.6" fill="#7f7f7f"/>
<rect x="370.6" y="402.65" width="2.9" height="2.9" rx="0.6" fill="#7f7f7f"/>
<rect x="379.15" y="403.05" width="2.9" height="2.9" rx="0.6" fill="#7f7f7f"/>
<rect x="387.7" y="403.85" width="2.9" height="2.9" rx="0.6" fill="#7f7f7f"/>
<rect x="396.25" y="403.85" width="2.9" height="2.9" rx="0.6" fill="#7f7f7f"/>
<rect x="404.8" y="404.15" width="2.9" height="2.9" rx="0.6" fill="#7f7f7f"/>
<rect x="413.35" y="404.55" width="2.9" height="2.9" rx="0.6" fill="#7f7f7f"/>
<rect x="421.9" y="404.85" width="2.9" height="2.9" rx="0.6" fill="#7f7f7f"/>
<rect x="430.45" y="404.86" width="2.9" height="2.9" rx="0.6" fill="#7f7f7f"/>
<rect x="439" y="404.87" width="2.9" height="2.9" rx="0.6" fill="#7f7f7f"/>
<rect x="447.55" y="404.87" width="2.9" height="2.9" rx="0.6" fill="#7f7f7f"/>
<rect x="456.1" y="404.88" width="2.9" height="2.9" rx="0.6" fill="#7f7f7f"/>
<rect x="464.65" y="404.89" width="2.9" height="2.9" rx="0.6" fill="#7f7f7f"/>
<rect x="473.2" y="404.9" width="2.9" height="2.9" rx="0.6" fill="#7f7f7f"/>
<rect x="481.75" y="404.9" width="2.9" height="2.9" rx="0.6" fill="#7f7f7f"/>
<rect x="490.3" y="404.91" width="2.9" height="2.9" rx="0.6" fill="#7f7f7f"/>
<rect x="498.85" y="404.92" width="2.9" height="2.9" rx="0.6" fill="#7f7f7f"/>
<rect x="507.4" y="404.93" width="2.9" height="2.9" rx="0.6" fill="#7f7f7f"/>
<rect x="515.95" y="404.93" width="2.9" height="2.9" rx="0.6" fill="#7f7f7f"/>
<rect x="524.5" y="404.94" width="2.9" height="2.9" rx="0.6" fill="#7f7f7f"/>
<rect x="533.05" y="404.95" width="2.9" height="2.9" rx="0.6" fill="#7f7f7f"/>
<rect x="319.5" y="370.1" width="225.5" height="131.1" class="frame"/>
<line x1="329.3" y1="501.2" x2="329.3" y2="502.6" class="tick"/>
<text x="329.3" y="507.7" class="tl" style="font-size:4.75px" text-anchor="middle">0</text>
<line x1="370.34" y1="501.2" x2="370.34" y2="502.6" class="tick"/>
<text x="370.34" y="507.7" class="tl" style="font-size:4.75px" text-anchor="middle">100</text>
<line x1="411.38" y1="501.2" x2="411.38" y2="502.6" class="tick"/>
<text x="411.38" y="507.7" class="tl" style="font-size:4.75px" text-anchor="middle">200</text>
<line x1="452.42" y1="501.2" x2="452.42" y2="502.6" class="tick"/>
<text x="452.42" y="507.7" class="tl" style="font-size:4.75px" text-anchor="middle">300</text>
<line x1="493.46" y1="501.2" x2="493.46" y2="502.6" class="tick"/>
<text x="493.46" y="507.7" class="tl" style="font-size:4.75px" text-anchor="middle">400</text>
<line x1="534.5" y1="501.2" x2="534.5" y2="502.6" class="tick"/>
<text x="534.5" y="507.7" class="tl" style="font-size:4.75px" text-anchor="middle">500</text>
<line x1="318.1" y1="497.7" x2="319.5" y2="497.7" class="tick"/>
<text x="317.3" y="499.3" class="tl" style="font-size:4.4px" text-anchor="end">10<tspan class="sup" dy="-1.8">1</tspan></text>
<line x1="318.1" y1="465.57" x2="319.5" y2="465.57" class="tick"/>
<text x="317.3" y="467.17" class="tl" style="font-size:4.4px" text-anchor="end">10<tspan class="sup" dy="-1.8">2</tspan></text>
<line x1="318.1" y1="433.44" x2="319.5" y2="433.44" class="tick"/>
<text x="317.3" y="435.04" class="tl" style="font-size:4.4px" text-anchor="end">10<tspan class="sup" dy="-1.8">3</tspan></text>
<line x1="318.1" y1="401.31" x2="319.5" y2="401.31" class="tick"/>
<text x="317.3" y="402.91" class="tl" style="font-size:4.4px" text-anchor="end">10<tspan class="sup" dy="-1.8">4</tspan></text>
<line x1="318.5" y1="500.81" x2="319.5" y2="500.81" class="tick"/>
<line x1="318.5" y1="499.17" x2="319.5" y2="499.17" class="tick"/>
<line x1="318.5" y1="488.03" x2="319.5" y2="488.03" class="tick"/>
<line x1="318.5" y1="482.37" x2="319.5" y2="482.37" class="tick"/>
<line x1="318.5" y1="478.36" x2="319.5" y2="478.36" class="tick"/>
<line x1="318.5" y1="475.24" x2="319.5" y2="475.24" class="tick"/>
<line x1="318.5" y1="472.7" x2="319.5" y2="472.7" class="tick"/>
<line x1="318.5" y1="470.55" x2="319.5" y2="470.55" class="tick"/>
<line x1="318.5" y1="468.68" x2="319.5" y2="468.68" class="tick"/>
<line x1="318.5" y1="467.04" x2="319.5" y2="467.04" class="tick"/>
<line x1="318.5" y1="455.9" x2="319.5" y2="455.9" class="tick"/>
<line x1="318.5" y1="450.24" x2="319.5" y2="450.24" class="tick"/>
<line x1="318.5" y1="446.23" x2="319.5" y2="446.23" class="tick"/>
<line x1="318.5" y1="443.11" x2="319.5" y2="443.11" class="tick"/>
<line x1="318.5" y1="440.57" x2="319.5" y2="440.57" class="tick"/>
<line x1="318.5" y1="438.42" x2="319.5" y2="438.42" class="tick"/>
<line x1="318.5" y1="436.55" x2="319.5" y2="436.55" class="tick"/>
<line x1="318.5" y1="434.91" x2="319.5" y2="434.91" class="tick"/>
<line x1="318.5" y1="423.77" x2="319.5" y2="423.77" class="tick"/>
<line x1="318.5" y1="418.11" x2="319.5" y2="418.11" class="tick"/>
<line x1="318.5" y1="414.1" x2="319.5" y2="414.1" class="tick"/>
<line x1="318.5" y1="410.98" x2="319.5" y2="410.98" class="tick"/>
<line x1="318.5" y1="408.44" x2="319.5" y2="408.44" class="tick"/>
<line x1="318.5" y1="406.29" x2="319.5" y2="406.29" class="tick"/>
<line x1="318.5" y1="404.42" x2="319.5" y2="404.42" class="tick"/>
<line x1="318.5" y1="402.78" x2="319.5" y2="402.78" class="tick"/>
<line x1="318.5" y1="391.64" x2="319.5" y2="391.64" class="tick"/>
<line x1="318.5" y1="385.98" x2="319.5" y2="385.98" class="tick"/>
<line x1="318.5" y1="381.97" x2="319.5" y2="381.97" class="tick"/>
<line x1="318.5" y1="378.85" x2="319.5" y2="378.85" class="tick"/>
<line x1="318.5" y1="376.31" x2="319.5" y2="376.31" class="tick"/>
<line x1="318.5" y1="374.16" x2="319.5" y2="374.16" class="tick"/>
<line x1="318.5" y1="372.29" x2="319.5" y2="372.29" class="tick"/>
<line x1="318.5" y1="370.65" x2="319.5" y2="370.65" class="tick"/>
<text x="432.25" y="513.4" class="al" style="font-size:4.6px" text-anchor="middle">Iteration</text>
<text transform="translate(305.5,435.65) rotate(-90)" class="al" style="font-size:4.35px" text-anchor="middle" dy="1.4">Average Fitness Value</text>
<rect x="321.2" y="444.1" width="31.9" height="55.6" rx="0.8" class="leg"/>
<line x1="322.6" y1="448.6" x2="331.2" y2="448.6" stroke="#1f77b4" stroke-width="0.5" stroke-opacity="0.75"/>
<rect x="325.45" y="447.15" width="2.9" height="2.9" rx="0.6" fill="#1f77b4"/>
<text x="334.5" y="450.15" class="lt" style="font-size:4.3px">WOA</text>
<line x1="322.6" y1="454.56" x2="331.2" y2="454.56" stroke="#ff7f0e" stroke-width="0.5" stroke-opacity="0.75"/>
<rect x="325.45" y="453.11" width="2.9" height="2.9" rx="0.6" fill="#ff7f0e"/>
<text x="334.5" y="456.11" class="lt" style="font-size:4.3px">CSA</text>
<line x1="322.6" y1="460.52" x2="331.2" y2="460.52" stroke="#2ca02c" stroke-width="0.5" stroke-opacity="0.75"/>
<rect x="325.45" y="459.07" width="2.9" height="2.9" rx="0.6" fill="#2ca02c"/>
<text x="334.5" y="462.07" class="lt" style="font-size:4.3px">HHO</text>
<line x1="322.6" y1="466.48" x2="331.2" y2="466.48" stroke="#d62728" stroke-width="0.5" stroke-opacity="0.75"/>
<rect x="325.45" y="465.03" width="2.9" height="2.9" rx="0.6" fill="#d62728"/>
<text x="334.5" y="468.03" class="lt" style="font-size:4.3px">EHO</text>
<line x1="322.6" y1="472.44" x2="331.2" y2="472.44" stroke="#9467bd" stroke-width="0.5" stroke-opacity="0.75"/>
<rect x="325.45" y="470.99" width="2.9" height="2.9" rx="0.6" fill="#9467bd"/>
<text x="334.5" y="473.99" class="lt" style="font-size:4.3px">BES</text>
<line x1="322.6" y1="478.4" x2="331.2" y2="478.4" stroke="#ff0000" stroke-width="0.5" stroke-opacity="0.75"/>
<rect x="325.45" y="476.95" width="2.9" height="2.9" rx="0.6" fill="#ff0000"/>
<text x="334.5" y="479.95" class="lt" style="font-size:4.3px">ImWOA</text>
<line x1="322.6" y1="484.36" x2="331.2" y2="484.36" stroke="#8c564b" stroke-width="0.5" stroke-opacity="0.75"/>
<rect x="325.45" y="482.91" width="2.9" height="2.9" rx="0.6" fill="#8c564b"/>
<text x="334.5" y="485.91" class="lt" style="font-size:4.3px">ImWOA1</text>
<line x1="322.6" y1="490.32" x2="331.2" y2="490.32" stroke="#e377c2" stroke-width="0.5" stroke-opacity="0.75"/>
<rect x="325.45" y="488.87" width="2.9" height="2.9" rx="0.6" fill="#e377c2"/>
<text x="334.5" y="491.87" class="lt" style="font-size:4.3px">ImWOA2</text>
<line x1="322.6" y1="496.28" x2="331.2" y2="496.28" stroke="#7f7f7f" stroke-width="0.5" stroke-opacity="0.75"/>
<rect x="325.45" y="494.83" width="2.9" height="2.9" rx="0.6" fill="#7f7f7f"/>
<text x="334.5" y="497.83" class="lt" style="font-size:4.3px">ImWOA3</text>
<text x="424.9" y="530" class="cap" text-anchor="middle">F6</text>
<line x1="36.9" y1="551.5" x2="36.9" y2="677.8" class="grid"/>
<line x1="76.2" y1="551.5" x2="76.2" y2="677.8" class="grid"/>
<line x1="115.5" y1="551.5" x2="115.5" y2="677.8" class="grid"/>
<line x1="154.8" y1="551.5" x2="154.8" y2="677.8" class="grid"/>
<line x1="194.1" y1="551.5" x2="194.1" y2="677.8" class="grid"/>
<line x1="233.4" y1="551.5" x2="233.4" y2="677.8" class="grid"/>
<polyline points="36.9,587.5 45.09,626.9 53.27,630.1 61.46,631 69.65,631 77.84,631.3 86.03,631.7 94.21,632 102.4,632.5 110.59,632.57 118.78,632.63 126.96,632.7 135.15,633.5 143.34,633.52 151.53,633.53 159.71,633.55 167.9,633.57 176.09,633.58 184.28,633.6 192.46,633.62 200.65,633.63 208.84,633.65 217.03,633.67 225.21,633.68 233.4,633.7" fill="none" stroke="#1f77b4" stroke-width="0.5" stroke-opacity="0.75" stroke-dasharray="none" stroke-dashoffset="0"/>
<rect x="35.45" y="586.05" width="2.9" height="2.9" rx="0.6" fill="#1f77b4"/>
<rect x="43.64" y="625.45" width="2.9" height="2.9" rx="0.6" fill="#1f77b4"/>
<rect x="51.82" y="628.65" width="2.9" height="2.9" rx="0.6" fill="#1f77b4"/>
<rect x="60.01" y="629.55" width="2.9" height="2.9" rx="0.6" fill="#1f77b4"/>
<rect x="68.2" y="629.55" width="2.9" height="2.9" rx="0.6" fill="#1f77b4"/>
<rect x="76.39" y="629.85" width="2.9" height="2.9" rx="0.6" fill="#1f77b4"/>
<rect x="84.58" y="630.25" width="2.9" height="2.9" rx="0.6" fill="#1f77b4"/>
<rect x="92.76" y="630.55" width="2.9" height="2.9" rx="0.6" fill="#1f77b4"/>
<rect x="100.95" y="631.05" width="2.9" height="2.9" rx="0.6" fill="#1f77b4"/>
<rect x="109.14" y="631.12" width="2.9" height="2.9" rx="0.6" fill="#1f77b4"/>
<rect x="117.33" y="631.18" width="2.9" height="2.9" rx="0.6" fill="#1f77b4"/>
<rect x="125.51" y="631.25" width="2.9" height="2.9" rx="0.6" fill="#1f77b4"/>
<rect x="133.7" y="632.05" width="2.9" height="2.9" rx="0.6" fill="#1f77b4"/>
<rect x="141.89" y="632.07" width="2.9" height="2.9" rx="0.6" fill="#1f77b4"/>
<rect x="150.08" y="632.08" width="2.9" height="2.9" rx="0.6" fill="#1f77b4"/>
<rect x="158.26" y="632.1" width="2.9" height="2.9" rx="0.6" fill="#1f77b4"/>
<rect x="166.45" y="632.12" width="2.9" height="2.9" rx="0.6" fill="#1f77b4"/>
<rect x="174.64" y="632.13" width="2.9" height="2.9" rx="0.6" fill="#1f77b4"/>
<rect x="182.83" y="632.15" width="2.9" height="2.9" rx="0.6" fill="#1f77b4"/>
<rect x="191.01" y="632.17" width="2.9" height="2.9" rx="0.6" fill="#1f77b4"/>
<rect x="199.2" y="632.18" width="2.9" height="2.9" rx="0.6" fill="#1f77b4"/>
<rect x="207.39" y="632.2" width="2.9" height="2.9" rx="0.6" fill="#1f77b4"/>
<rect x="215.58" y="632.22" width="2.9" height="2.9" rx="0.6" fill="#1f77b4"/>
<rect x="223.76" y="632.23" width="2.9" height="2.9" rx="0.6" fill="#1f77b4"/>
<rect x="231.95" y="632.25" width="2.9" height="2.9" rx="0.6" fill="#1f77b4"/>
<polyline points="36.9,582 45.09,598.4 53.27,606 61.46,610.5 69.65,612.4 77.84,614.3 86.03,616.7 94.21,618.1 102.4,619 110.59,619.2 118.78,620.7 126.96,621.5 135.15,622.8 143.34,623.3 151.53,625 159.71,625.9 167.9,626.6 176.09,626.6 184.28,626.6 192.46,627.2 200.65,627.2 208.84,628.1 217.03,628.1 225.21,628.8 233.4,629.5" fill="none" stroke="#ff7f0e" stroke-width="0.5" stroke-opacity="0.75" stroke-dasharray="none" stroke-dashoffset="0"/>
<rect x="35.45" y="580.55" width="2.9" height="2.9" rx="0.6" fill="#ff7f0e"/>
<rect x="43.64" y="596.95" width="2.9" height="2.9" rx="0.6" fill="#ff7f0e"/>
<rect x="51.82" y="604.55" width="2.9" height="2.9" rx="0.6" fill="#ff7f0e"/>
<rect x="60.01" y="609.05" width="2.9" height="2.9" rx="0.6" fill="#ff7f0e"/>
<rect x="68.2" y="610.95" width="2.9" height="2.9" rx="0.6" fill="#ff7f0e"/>
<rect x="76.39" y="612.85" width="2.9" height="2.9" rx="0.6" fill="#ff7f0e"/>
<rect x="84.58" y="615.25" width="2.9" height="2.9" rx="0.6" fill="#ff7f0e"/>
<rect x="92.76" y="616.65" width="2.9" height="2.9" rx="0.6" fill="#ff7f0e"/>
<rect x="100.95" y="617.55" width="2.9" height="2.9" rx="0.6" fill="#ff7f0e"/>
<rect x="109.14" y="617.75" width="2.9" height="2.9" rx="0.6" fill="#ff7f0e"/>
<rect x="117.33" y="619.25" width="2.9" height="2.9" rx="0.6" fill="#ff7f0e"/>
<rect x="125.51" y="620.05" width="2.9" height="2.9" rx="0.6" fill="#ff7f0e"/>
<rect x="133.7" y="621.35" width="2.9" height="2.9" rx="0.6" fill="#ff7f0e"/>
<rect x="141.89" y="621.85" width="2.9" height="2.9" rx="0.6" fill="#ff7f0e"/>
<rect x="150.08" y="623.55" width="2.9" height="2.9" rx="0.6" fill="#ff7f0e"/>
<rect x="158.26" y="624.45" width="2.9" height="2.9" rx="0.6" fill="#ff7f0e"/>
<rect x="166.45" y="625.15" width="2.9" height="2.9" rx="0.6" fill="#ff7f0e"/>
<rect x="174.64" y="625.15" width="2.9" height="2.9" rx="0.6" fill="#ff7f0e"/>
<rect x="182.83" y="625.15" width="2.9" height="2.9" rx="0.6" fill="#ff7f0e"/>
<rect x="191.01" y="625.75" width="2.9" height="2.9" rx="0.6" fill="#ff7f0e"/>
<rect x="199.2" y="625.75" width="2.9" height="2.9" rx="0.6" fill="#ff7f0e"/>
<rect x="207.39" y="626.65" width="2.9" height="2.9" rx="0.6" fill="#ff7f0e"/>
<rect x="215.58" y="626.65" width="2.9" height="2.9" rx="0.6" fill="#ff7f0e"/>
<rect x="223.76" y="627.35" width="2.9" height="2.9" rx="0.6" fill="#ff7f0e"/>
<rect x="231.95" y="628.05" width="2.9" height="2.9" rx="0.6" fill="#ff7f0e"/>
<polyline points="36.9,590 45.09,639.3 53.27,643 61.46,645.4 69.65,647.5 77.84,650 86.03,652 94.21,653.1 102.4,654 110.59,655 118.78,656.5 126.96,658 135.15,660 143.34,661.8 151.53,662.3 159.71,663.3 167.9,663.3 176.09,663.3 184.28,664 192.46,664.4 200.65,665 208.84,666.2 217.03,666.6 225.21,666.9 233.4,668.4" fill="none" stroke="#2ca02c" stroke-width="0.5" stroke-opacity="0.75" stroke-dasharray="none" stroke-dashoffset="0"/>
<rect x="35.45" y="588.55" width="2.9" height="2.9" rx="0.6" fill="#2ca02c"/>
<rect x="43.64" y="637.85" width="2.9" height="2.9" rx="0.6" fill="#2ca02c"/>
<rect x="51.82" y="641.55" width="2.9" height="2.9" rx="0.6" fill="#2ca02c"/>
<rect x="60.01" y="643.95" width="2.9" height="2.9" rx="0.6" fill="#2ca02c"/>
<rect x="68.2" y="646.05" width="2.9" height="2.9" rx="0.6" fill="#2ca02c"/>
<rect x="76.39" y="648.55" width="2.9" height="2.9" rx="0.6" fill="#2ca02c"/>
<rect x="84.58" y="650.55" width="2.9" height="2.9" rx="0.6" fill="#2ca02c"/>
<rect x="92.76" y="651.65" width="2.9" height="2.9" rx="0.6" fill="#2ca02c"/>
<rect x="100.95" y="652.55" width="2.9" height="2.9" rx="0.6" fill="#2ca02c"/>
<rect x="109.14" y="653.55" width="2.9" height="2.9" rx="0.6" fill="#2ca02c"/>
<rect x="117.33" y="655.05" width="2.9" height="2.9" rx="0.6" fill="#2ca02c"/>
<rect x="125.51" y="656.55" width="2.9" height="2.9" rx="0.6" fill="#2ca02c"/>
<rect x="133.7" y="658.55" width="2.9" height="2.9" rx="0.6" fill="#2ca02c"/>
<rect x="141.89" y="660.35" width="2.9" height="2.9" rx="0.6" fill="#2ca02c"/>
<rect x="150.08" y="660.85" width="2.9" height="2.9" rx="0.6" fill="#2ca02c"/>
<rect x="158.26" y="661.85" width="2.9" height="2.9" rx="0.6" fill="#2ca02c"/>
<rect x="166.45" y="661.85" width="2.9" height="2.9" rx="0.6" fill="#2ca02c"/>
<rect x="174.64" y="661.85" width="2.9" height="2.9" rx="0.6" fill="#2ca02c"/>
<rect x="182.83" y="662.55" width="2.9" height="2.9" rx="0.6" fill="#2ca02c"/>
<rect x="191.01" y="662.95" width="2.9" height="2.9" rx="0.6" fill="#2ca02c"/>
<rect x="199.2" y="663.55" width="2.9" height="2.9" rx="0.6" fill="#2ca02c"/>
<rect x="207.39" y="664.75" width="2.9" height="2.9" rx="0.6" fill="#2ca02c"/>
<rect x="215.58" y="665.15" width="2.9" height="2.9" rx="0.6" fill="#2ca02c"/>
<rect x="223.76" y="665.45" width="2.9" height="2.9" rx="0.6" fill="#2ca02c"/>
<rect x="231.95" y="666.95" width="2.9" height="2.9" rx="0.6" fill="#2ca02c"/>
<polyline points="36.9,609.9 45.09,639.6 53.27,645.4 61.46,647.3 69.65,648.4 77.84,650.9 86.03,652.4 94.21,652.55 102.4,652.7 110.59,653.1 118.78,653.8 126.96,654.5 135.15,655.8 143.34,655.84 151.53,655.88 159.71,655.92 167.9,655.97 176.09,656.01 184.28,656.05 192.46,656.09 200.65,656.13 208.84,656.17 217.03,656.22 225.21,656.26 233.4,656.3" fill="none" stroke="#d62728" stroke-width="0.5" stroke-opacity="0.75" stroke-dasharray="none" stroke-dashoffset="0"/>
<rect x="35.45" y="608.45" width="2.9" height="2.9" rx="0.6" fill="#d62728"/>
<rect x="43.64" y="638.15" width="2.9" height="2.9" rx="0.6" fill="#d62728"/>
<rect x="51.82" y="643.95" width="2.9" height="2.9" rx="0.6" fill="#d62728"/>
<rect x="60.01" y="645.85" width="2.9" height="2.9" rx="0.6" fill="#d62728"/>
<rect x="68.2" y="646.95" width="2.9" height="2.9" rx="0.6" fill="#d62728"/>
<rect x="76.39" y="649.45" width="2.9" height="2.9" rx="0.6" fill="#d62728"/>
<rect x="84.58" y="650.95" width="2.9" height="2.9" rx="0.6" fill="#d62728"/>
<rect x="92.76" y="651.1" width="2.9" height="2.9" rx="0.6" fill="#d62728"/>
<rect x="100.95" y="651.25" width="2.9" height="2.9" rx="0.6" fill="#d62728"/>
<rect x="109.14" y="651.65" width="2.9" height="2.9" rx="0.6" fill="#d62728"/>
<rect x="117.33" y="652.35" width="2.9" height="2.9" rx="0.6" fill="#d62728"/>
<rect x="125.51" y="653.05" width="2.9" height="2.9" rx="0.6" fill="#d62728"/>
<rect x="133.7" y="654.35" width="2.9" height="2.9" rx="0.6" fill="#d62728"/>
<rect x="141.89" y="654.39" width="2.9" height="2.9" rx="0.6" fill="#d62728"/>
<rect x="150.08" y="654.43" width="2.9" height="2.9" rx="0.6" fill="#d62728"/>
<rect x="158.26" y="654.47" width="2.9" height="2.9" rx="0.6" fill="#d62728"/>
<rect x="166.45" y="654.52" width="2.9" height="2.9" rx="0.6" fill="#d62728"/>
<rect x="174.64" y="654.56" width="2.9" height="2.9" rx="0.6" fill="#d62728"/>
<rect x="182.83" y="654.6" width="2.9" height="2.9" rx="0.6" fill="#d62728"/>
<rect x="191.01" y="654.64" width="2.9" height="2.9" rx="0.6" fill="#d62728"/>
<rect x="199.2" y="654.68" width="2.9" height="2.9" rx="0.6" fill="#d62728"/>
<rect x="207.39" y="654.72" width="2.9" height="2.9" rx="0.6" fill="#d62728"/>
<rect x="215.58" y="654.77" width="2.9" height="2.9" rx="0.6" fill="#d62728"/>
<rect x="223.76" y="654.81" width="2.9" height="2.9" rx="0.6" fill="#d62728"/>
<rect x="231.95" y="654.85" width="2.9" height="2.9" rx="0.6" fill="#d62728"/>
<polyline points="36.9,632 45.09,653.8 53.27,655 61.46,655.04 69.65,655.07 77.84,655.11 86.03,655.15 94.21,655.18 102.4,655.22 110.59,655.25 118.78,655.29 126.96,655.33 135.15,655.36 143.34,655.4 151.53,655.44 159.71,655.47 167.9,655.51 176.09,655.55 184.28,655.58 192.46,655.62 200.65,655.65 208.84,655.69 217.03,655.73 225.21,655.76 233.4,655.8" fill="none" stroke="#9467bd" stroke-width="0.5" stroke-opacity="0.75" stroke-dasharray="none" stroke-dashoffset="0"/>
<rect x="35.45" y="630.55" width="2.9" height="2.9" rx="0.6" fill="#9467bd"/>
<rect x="43.64" y="652.35" width="2.9" height="2.9" rx="0.6" fill="#9467bd"/>
<rect x="51.82" y="653.55" width="2.9" height="2.9" rx="0.6" fill="#9467bd"/>
<rect x="60.01" y="653.59" width="2.9" height="2.9" rx="0.6" fill="#9467bd"/>
<rect x="68.2" y="653.62" width="2.9" height="2.9" rx="0.6" fill="#9467bd"/>
<rect x="76.39" y="653.66" width="2.9" height="2.9" rx="0.6" fill="#9467bd"/>
<rect x="84.58" y="653.7" width="2.9" height="2.9" rx="0.6" fill="#9467bd"/>
<rect x="92.76" y="653.73" width="2.9" height="2.9" rx="0.6" fill="#9467bd"/>
<rect x="100.95" y="653.77" width="2.9" height="2.9" rx="0.6" fill="#9467bd"/>
<rect x="109.14" y="653.8" width="2.9" height="2.9" rx="0.6" fill="#9467bd"/>
<rect x="117.33" y="653.84" width="2.9" height="2.9" rx="0.6" fill="#9467bd"/>
<rect x="125.51" y="653.88" width="2.9" height="2.9" rx="0.6" fill="#9467bd"/>
<rect x="133.7" y="653.91" width="2.9" height="2.9" rx="0.6" fill="#9467bd"/>
<rect x="141.89" y="653.95" width="2.9" height="2.9" rx="0.6" fill="#9467bd"/>
<rect x="150.08" y="653.99" width="2.9" height="2.9" rx="0.6" fill="#9467bd"/>
<rect x="158.26" y="654.02" width="2.9" height="2.9" rx="0.6" fill="#9467bd"/>
<rect x="166.45" y="654.06" width="2.9" height="2.9" rx="0.6" fill="#9467bd"/>
<rect x="174.64" y="654.1" width="2.9" height="2.9" rx="0.6" fill="#9467bd"/>
<rect x="182.83" y="654.13" width="2.9" height="2.9" rx="0.6" fill="#9467bd"/>
<rect x="191.01" y="654.17" width="2.9" height="2.9" rx="0.6" fill="#9467bd"/>
<rect x="199.2" y="654.2" width="2.9" height="2.9" rx="0.6" fill="#9467bd"/>
<rect x="207.39" y="654.24" width="2.9" height="2.9" rx="0.6" fill="#9467bd"/>
<rect x="215.58" y="654.28" width="2.9" height="2.9" rx="0.6" fill="#9467bd"/>
<rect x="223.76" y="654.31" width="2.9" height="2.9" rx="0.6" fill="#9467bd"/>
<rect x="231.95" y="654.35" width="2.9" height="2.9" rx="0.6" fill="#9467bd"/>
<polyline points="36.9,617.5 45.09,640 53.27,651.2 61.46,656.4 69.65,656.7 77.84,657.2 86.03,657.5 94.21,657.7 102.4,657.7 110.59,657.7 118.78,657.7 126.96,658.2 135.15,658.2 143.34,658.2 151.53,658.2 159.71,658.2 167.9,659.3 176.09,663.1 184.28,667.2 192.46,669.1 200.65,669.8 208.84,671.7 217.03,672 225.21,672 233.4,672" fill="none" stroke="#ff0000" stroke-width="0.75" stroke-opacity="0.9"/>
<rect x="35.33" y="615.93" width="3.13" height="3.13" rx="0.6" fill="#ff0000"/>
<rect x="43.52" y="638.43" width="3.13" height="3.13" rx="0.6" fill="#ff0000"/>
<rect x="51.71" y="649.63" width="3.13" height="3.13" rx="0.6" fill="#ff0000"/>
<rect x="59.9" y="654.83" width="3.13" height="3.13" rx="0.6" fill="#ff0000"/>
<rect x="68.08" y="655.13" width="3.13" height="3.13" rx="0.6" fill="#ff0000"/>
<rect x="76.27" y="655.63" width="3.13" height="3.13" rx="0.6" fill="#ff0000"/>
<rect x="84.46" y="655.93" width="3.13" height="3.13" rx="0.6" fill="#ff0000"/>
<rect x="92.65" y="656.13" width="3.13" height="3.13" rx="0.6" fill="#ff0000"/>
<rect x="100.83" y="656.13" width="3.13" height="3.13" rx="0.6" fill="#ff0000"/>
<rect x="109.02" y="656.13" width="3.13" height="3.13" rx="0.6" fill="#ff0000"/>
<rect x="117.21" y="656.13" width="3.13" height="3.13" rx="0.6" fill="#ff0000"/>
<rect x="125.4" y="656.63" width="3.13" height="3.13" rx="0.6" fill="#ff0000"/>
<rect x="133.58" y="656.63" width="3.13" height="3.13" rx="0.6" fill="#ff0000"/>
<rect x="141.77" y="656.63" width="3.13" height="3.13" rx="0.6" fill="#ff0000"/>
<rect x="149.96" y="656.63" width="3.13" height="3.13" rx="0.6" fill="#ff0000"/>
<rect x="158.15" y="656.63" width="3.13" height="3.13" rx="0.6" fill="#ff0000"/>
<rect x="166.33" y="657.73" width="3.13" height="3.13" rx="0.6" fill="#ff0000"/>
<rect x="174.52" y="661.53" width="3.13" height="3.13" rx="0.6" fill="#ff0000"/>
<rect x="182.71" y="665.63" width="3.13" height="3.13" rx="0.6" fill="#ff0000"/>
<rect x="190.9" y="667.53" width="3.13" height="3.13" rx="0.6" fill="#ff0000"/>
<rect x="199.08" y="668.23" width="3.13" height="3.13" rx="0.6" fill="#ff0000"/>
<rect x="207.27" y="670.13" width="3.13" height="3.13" rx="0.6" fill="#ff0000"/>
<rect x="215.46" y="670.43" width="3.13" height="3.13" rx="0.6" fill="#ff0000"/>
<rect x="223.65" y="670.43" width="3.13" height="3.13" rx="0.6" fill="#ff0000"/>
<rect x="231.83" y="670.43" width="3.13" height="3.13" rx="0.6" fill="#ff0000"/>
<polyline points="36.9,571.8 45.09,572.3 53.27,574 61.46,599.7 69.65,599.7 77.84,599.7 86.03,599.7 94.21,631.3 102.4,633.2 110.59,639 118.78,639.6 126.96,650 135.15,661.5 143.34,661.5 151.53,662.3 159.71,662.5 167.9,666.2 176.09,666.23 184.28,666.25 192.46,666.27 200.65,666.3 208.84,666.33 217.03,666.35 225.21,666.38 233.4,666.4" fill="none" stroke="#8c564b" stroke-width="0.5" stroke-opacity="0.75" stroke-dasharray="none" stroke-dashoffset="0"/>
<rect x="35.45" y="570.35" width="2.9" height="2.9" rx="0.6" fill="#8c564b"/>
<rect x="43.64" y="570.85" width="2.9" height="2.9" rx="0.6" fill="#8c564b"/>
<rect x="51.82" y="572.55" width="2.9" height="2.9" rx="0.6" fill="#8c564b"/>
<rect x="60.01" y="598.25" width="2.9" height="2.9" rx="0.6" fill="#8c564b"/>
<rect x="68.2" y="598.25" width="2.9" height="2.9" rx="0.6" fill="#8c564b"/>
<rect x="76.39" y="598.25" width="2.9" height="2.9" rx="0.6" fill="#8c564b"/>
<rect x="84.58" y="598.25" width="2.9" height="2.9" rx="0.6" fill="#8c564b"/>
<rect x="92.76" y="629.85" width="2.9" height="2.9" rx="0.6" fill="#8c564b"/>
<rect x="100.95" y="631.75" width="2.9" height="2.9" rx="0.6" fill="#8c564b"/>
<rect x="109.14" y="637.55" width="2.9" height="2.9" rx="0.6" fill="#8c564b"/>
<rect x="117.33" y="638.15" width="2.9" height="2.9" rx="0.6" fill="#8c564b"/>
<rect x="125.51" y="648.55" width="2.9" height="2.9" rx="0.6" fill="#8c564b"/>
<rect x="133.7" y="660.05" width="2.9" height="2.9" rx="0.6" fill="#8c564b"/>
<rect x="141.89" y="660.05" width="2.9" height="2.9" rx="0.6" fill="#8c564b"/>
<rect x="150.08" y="660.85" width="2.9" height="2.9" rx="0.6" fill="#8c564b"/>
<rect x="158.26" y="661.05" width="2.9" height="2.9" rx="0.6" fill="#8c564b"/>
<rect x="166.45" y="664.75" width="2.9" height="2.9" rx="0.6" fill="#8c564b"/>
<rect x="174.64" y="664.77" width="2.9" height="2.9" rx="0.6" fill="#8c564b"/>
<rect x="182.83" y="664.8" width="2.9" height="2.9" rx="0.6" fill="#8c564b"/>
<rect x="191.01" y="664.82" width="2.9" height="2.9" rx="0.6" fill="#8c564b"/>
<rect x="199.2" y="664.85" width="2.9" height="2.9" rx="0.6" fill="#8c564b"/>
<rect x="207.39" y="664.88" width="2.9" height="2.9" rx="0.6" fill="#8c564b"/>
<rect x="215.58" y="664.9" width="2.9" height="2.9" rx="0.6" fill="#8c564b"/>
<rect x="223.76" y="664.92" width="2.9" height="2.9" rx="0.6" fill="#8c564b"/>
<rect x="231.95" y="664.95" width="2.9" height="2.9" rx="0.6" fill="#8c564b"/>
<polyline points="36.9,557.3 45.09,642.6 53.27,643.3 61.46,643.3 69.65,643.3 77.84,643.3 86.03,643.3 94.21,643.3 102.4,643.3 110.59,643.3 118.78,647 126.96,647 135.15,648.4 143.34,648.4 151.53,648.4 159.71,649.2 167.9,649.2 176.09,649.2 184.28,649.2 192.46,649.2 200.65,649.2 208.84,649.2 217.03,649.2 225.21,649.2 233.4,649.2" fill="none" stroke="#e377c2" stroke-width="0.5" stroke-opacity="0.75" stroke-dasharray="none" stroke-dashoffset="0"/>
<rect x="35.45" y="555.85" width="2.9" height="2.9" rx="0.6" fill="#e377c2"/>
<rect x="43.64" y="641.15" width="2.9" height="2.9" rx="0.6" fill="#e377c2"/>
<rect x="51.82" y="641.85" width="2.9" height="2.9" rx="0.6" fill="#e377c2"/>
<rect x="60.01" y="641.85" width="2.9" height="2.9" rx="0.6" fill="#e377c2"/>
<rect x="68.2" y="641.85" width="2.9" height="2.9" rx="0.6" fill="#e377c2"/>
<rect x="76.39" y="641.85" width="2.9" height="2.9" rx="0.6" fill="#e377c2"/>
<rect x="84.58" y="641.85" width="2.9" height="2.9" rx="0.6" fill="#e377c2"/>
<rect x="92.76" y="641.85" width="2.9" height="2.9" rx="0.6" fill="#e377c2"/>
<rect x="100.95" y="641.85" width="2.9" height="2.9" rx="0.6" fill="#e377c2"/>
<rect x="109.14" y="641.85" width="2.9" height="2.9" rx="0.6" fill="#e377c2"/>
<rect x="117.33" y="645.55" width="2.9" height="2.9" rx="0.6" fill="#e377c2"/>
<rect x="125.51" y="645.55" width="2.9" height="2.9" rx="0.6" fill="#e377c2"/>
<rect x="133.7" y="646.95" width="2.9" height="2.9" rx="0.6" fill="#e377c2"/>
<rect x="141.89" y="646.95" width="2.9" height="2.9" rx="0.6" fill="#e377c2"/>
<rect x="150.08" y="646.95" width="2.9" height="2.9" rx="0.6" fill="#e377c2"/>
<rect x="158.26" y="647.75" width="2.9" height="2.9" rx="0.6" fill="#e377c2"/>
<rect x="166.45" y="647.75" width="2.9" height="2.9" rx="0.6" fill="#e377c2"/>
<rect x="174.64" y="647.75" width="2.9" height="2.9" rx="0.6" fill="#e377c2"/>
<rect x="182.83" y="647.75" width="2.9" height="2.9" rx="0.6" fill="#e377c2"/>
<rect x="191.01" y="647.75" width="2.9" height="2.9" rx="0.6" fill="#e377c2"/>
<rect x="199.2" y="647.75" width="2.9" height="2.9" rx="0.6" fill="#e377c2"/>
<rect x="207.39" y="647.75" width="2.9" height="2.9" rx="0.6" fill="#e377c2"/>
<rect x="215.58" y="647.75" width="2.9" height="2.9" rx="0.6" fill="#e377c2"/>
<rect x="223.76" y="647.75" width="2.9" height="2.9" rx="0.6" fill="#e377c2"/>
<rect x="231.95" y="647.75" width="2.9" height="2.9" rx="0.6" fill="#e377c2"/>
<polyline points="36.9,564.8 45.09,604.4 53.27,607.3 61.46,609.5 69.65,611.3 77.84,637.8 86.03,643.3 94.21,643.4 102.4,643.5 110.59,643.6 118.78,649.5 126.96,650.9 135.15,651.2 143.34,651.2 151.53,651.2 159.71,651.2 167.9,651.2 176.09,651.2 184.28,651.2 192.46,651.2 200.65,651.2 208.84,651.2 217.03,651.2 225.21,651.2 233.4,651.2" fill="none" stroke="#7f7f7f" stroke-width="0.5" stroke-opacity="0.75" stroke-dasharray="none" stroke-dashoffset="0"/>
<rect x="35.45" y="563.35" width="2.9" height="2.9" rx="0.6" fill="#7f7f7f"/>
<rect x="43.64" y="602.95" width="2.9" height="2.9" rx="0.6" fill="#7f7f7f"/>
<rect x="51.82" y="605.85" width="2.9" height="2.9" rx="0.6" fill="#7f7f7f"/>
<rect x="60.01" y="608.05" width="2.9" height="2.9" rx="0.6" fill="#7f7f7f"/>
<rect x="68.2" y="609.85" width="2.9" height="2.9" rx="0.6" fill="#7f7f7f"/>
<rect x="76.39" y="636.35" width="2.9" height="2.9" rx="0.6" fill="#7f7f7f"/>
<rect x="84.58" y="641.85" width="2.9" height="2.9" rx="0.6" fill="#7f7f7f"/>
<rect x="92.76" y="641.95" width="2.9" height="2.9" rx="0.6" fill="#7f7f7f"/>
<rect x="100.95" y="642.05" width="2.9" height="2.9" rx="0.6" fill="#7f7f7f"/>
<rect x="109.14" y="642.15" width="2.9" height="2.9" rx="0.6" fill="#7f7f7f"/>
<rect x="117.33" y="648.05" width="2.9" height="2.9" rx="0.6" fill="#7f7f7f"/>
<rect x="125.51" y="649.45" width="2.9" height="2.9" rx="0.6" fill="#7f7f7f"/>
<rect x="133.7" y="649.75" width="2.9" height="2.9" rx="0.6" fill="#7f7f7f"/>
<rect x="141.89" y="649.75" width="2.9" height="2.9" rx="0.6" fill="#7f7f7f"/>
<rect x="150.08" y="649.75" width="2.9" height="2.9" rx="0.6" fill="#7f7f7f"/>
<rect x="158.26" y="649.75" width="2.9" height="2.9" rx="0.6" fill="#7f7f7f"/>
<rect x="166.45" y="649.75" width="2.9" height="2.9" rx="0.6" fill="#7f7f7f"/>
<rect x="174.64" y="649.75" width="2.9" height="2.9" rx="0.6" fill="#7f7f7f"/>
<rect x="182.83" y="649.75" width="2.9" height="2.9" rx="0.6" fill="#7f7f7f"/>
<rect x="191.01" y="649.75" width="2.9" height="2.9" rx="0.6" fill="#7f7f7f"/>
<rect x="199.2" y="649.75" width="2.9" height="2.9" rx="0.6" fill="#7f7f7f"/>
<rect x="207.39" y="649.75" width="2.9" height="2.9" rx="0.6" fill="#7f7f7f"/>
<rect x="215.58" y="649.75" width="2.9" height="2.9" rx="0.6" fill="#7f7f7f"/>
<rect x="223.76" y="649.75" width="2.9" height="2.9" rx="0.6" fill="#7f7f7f"/>
<rect x="231.95" y="649.75" width="2.9" height="2.9" rx="0.6" fill="#7f7f7f"/>
<rect x="27.2" y="551.5" width="215.7" height="126.3" class="frame"/>
<line x1="36.9" y1="677.8" x2="36.9" y2="679.2" class="tick"/>
<text x="36.9" y="684.3" class="tl" style="font-size:4.75px" text-anchor="middle">0</text>
<line x1="76.2" y1="677.8" x2="76.2" y2="679.2" class="tick"/>
<text x="76.2" y="684.3" class="tl" style="font-size:4.75px" text-anchor="middle">100</text>
<line x1="115.5" y1="677.8" x2="115.5" y2="679.2" class="tick"/>
<text x="115.5" y="684.3" class="tl" style="font-size:4.75px" text-anchor="middle">200</text>
<line x1="154.8" y1="677.8" x2="154.8" y2="679.2" class="tick"/>
<text x="154.8" y="684.3" class="tl" style="font-size:4.75px" text-anchor="middle">300</text>
<line x1="194.1" y1="677.8" x2="194.1" y2="679.2" class="tick"/>
<text x="194.1" y="684.3" class="tl" style="font-size:4.75px" text-anchor="middle">400</text>
<line x1="233.4" y1="677.8" x2="233.4" y2="679.2" class="tick"/>
<text x="233.4" y="684.3" class="tl" style="font-size:4.75px" text-anchor="middle">500</text>
<line x1="25.8" y1="555.76" x2="27.2" y2="555.76" class="tick"/>
<text x="25" y="557.36" class="tl" style="font-size:4.4px" text-anchor="end">2.2 × 10<tspan class="sup" dy="-1.8">4</tspan></text>
<line x1="25.8" y1="575.22" x2="27.2" y2="575.22" class="tick"/>
<text x="25" y="576.82" class="tl" style="font-size:4.4px" text-anchor="end">2 × 10<tspan class="sup" dy="-1.8">4</tspan></text>
<line x1="25.8" y1="596.72" x2="27.2" y2="596.72" class="tick"/>
<text x="25" y="598.32" class="tl" style="font-size:4.4px" text-anchor="end">1.8 × 10<tspan class="sup" dy="-1.8">4</tspan></text>
<line x1="25.8" y1="620.76" x2="27.2" y2="620.76" class="tick"/>
<text x="25" y="622.36" class="tl" style="font-size:4.4px" text-anchor="end">1.6 × 10<tspan class="sup" dy="-1.8">4</tspan></text>
<line x1="25.8" y1="648.02" x2="27.2" y2="648.02" class="tick"/>
<text x="25" y="649.62" class="tl" style="font-size:4.4px" text-anchor="end">1.4 × 10<tspan class="sup" dy="-1.8">4</tspan></text>
<text x="135.05" y="690" class="al" style="font-size:4.5px" text-anchor="middle">Iteration</text>
<text transform="translate(4.2,614.65) rotate(-90)" class="al" style="font-size:4.15px" text-anchor="middle" dy="1.4">Average Fitness Value</text>
<rect x="210.5" y="552.6" width="30.7" height="53.5" rx="0.8" class="leg"/>
<line x1="211.7" y1="556.7" x2="220.3" y2="556.7" stroke="#1f77b4" stroke-width="0.5" stroke-opacity="0.75"/>
<rect x="214.55" y="555.25" width="2.9" height="2.9" rx="0.6" fill="#1f77b4"/>
<text x="223" y="558.18" class="lt" style="font-size:4.1px">WOA</text>
<line x1="211.7" y1="562.4" x2="220.3" y2="562.4" stroke="#ff7f0e" stroke-width="0.5" stroke-opacity="0.75"/>
<rect x="214.55" y="560.95" width="2.9" height="2.9" rx="0.6" fill="#ff7f0e"/>
<text x="223" y="563.88" class="lt" style="font-size:4.1px">CSA</text>
<line x1="211.7" y1="568.1" x2="220.3" y2="568.1" stroke="#2ca02c" stroke-width="0.5" stroke-opacity="0.75"/>
<rect x="214.55" y="566.65" width="2.9" height="2.9" rx="0.6" fill="#2ca02c"/>
<text x="223" y="569.58" class="lt" style="font-size:4.1px">HHO</text>
<line x1="211.7" y1="573.8" x2="220.3" y2="573.8" stroke="#d62728" stroke-width="0.5" stroke-opacity="0.75"/>
<rect x="214.55" y="572.35" width="2.9" height="2.9" rx="0.6" fill="#d62728"/>
<text x="223" y="575.28" class="lt" style="font-size:4.1px">EHO</text>
<line x1="211.7" y1="579.5" x2="220.3" y2="579.5" stroke="#9467bd" stroke-width="0.5" stroke-opacity="0.75"/>
<rect x="214.55" y="578.05" width="2.9" height="2.9" rx="0.6" fill="#9467bd"/>
<text x="223" y="580.98" class="lt" style="font-size:4.1px">BES</text>
<line x1="211.7" y1="585.2" x2="220.3" y2="585.2" stroke="#ff0000" stroke-width="0.5" stroke-opacity="0.75"/>
<rect x="214.55" y="583.75" width="2.9" height="2.9" rx="0.6" fill="#ff0000"/>
<text x="223" y="586.68" class="lt" style="font-size:4.1px">ImWOA</text>
<line x1="211.7" y1="590.9" x2="220.3" y2="590.9" stroke="#8c564b" stroke-width="0.5" stroke-opacity="0.75"/>
<rect x="214.55" y="589.45" width="2.9" height="2.9" rx="0.6" fill="#8c564b"/>
<text x="223" y="592.38" class="lt" style="font-size:4.1px">ImWOA1</text>
<line x1="211.7" y1="596.6" x2="220.3" y2="596.6" stroke="#e377c2" stroke-width="0.5" stroke-opacity="0.75"/>
<rect x="214.55" y="595.15" width="2.9" height="2.9" rx="0.6" fill="#e377c2"/>
<text x="223" y="598.08" class="lt" style="font-size:4.1px">ImWOA2</text>
<line x1="211.7" y1="602.3" x2="220.3" y2="602.3" stroke="#7f7f7f" stroke-width="0.5" stroke-opacity="0.75"/>
<rect x="214.55" y="600.85" width="2.9" height="2.9" rx="0.6" fill="#7f7f7f"/>
<text x="223" y="603.78" class="lt" style="font-size:4.1px">ImWOA3</text>
<text x="123" y="705.3" class="cap" text-anchor="middle">F7</text>
<line x1="338.7" y1="551.5" x2="338.7" y2="677.9" class="grid"/>
<line x1="378" y1="551.5" x2="378" y2="677.9" class="grid"/>
<line x1="417.3" y1="551.5" x2="417.3" y2="677.9" class="grid"/>
<line x1="456.6" y1="551.5" x2="456.6" y2="677.9" class="grid"/>
<line x1="495.9" y1="551.5" x2="495.9" y2="677.9" class="grid"/>
<line x1="535.2" y1="551.5" x2="535.2" y2="677.9" class="grid"/>
<polyline points="338.7,584.9 346.89,631.3 355.07,636.8 363.26,639.6 371.45,641.5 379.64,642.6 387.82,643.3 396.01,645.1 404.2,645.8 412.39,647.3 420.57,647.4 428.76,648 436.95,648.6 445.14,649.06 453.33,649.52 461.51,649.98 469.7,650.44 477.89,650.9 486.08,651.03 494.26,651.16 502.45,651.29 510.64,651.41 518.83,651.54 527.01,651.67 535.2,651.8" fill="none" stroke="#1f77b4" stroke-width="0.5" stroke-opacity="0.75" stroke-dasharray="none" stroke-dashoffset="0"/>
<rect x="337.25" y="583.45" width="2.9" height="2.9" rx="0.6" fill="#1f77b4"/>
<rect x="345.44" y="629.85" width="2.9" height="2.9" rx="0.6" fill="#1f77b4"/>
<rect x="353.62" y="635.35" width="2.9" height="2.9" rx="0.6" fill="#1f77b4"/>
<rect x="361.81" y="638.15" width="2.9" height="2.9" rx="0.6" fill="#1f77b4"/>
<rect x="370" y="640.05" width="2.9" height="2.9" rx="0.6" fill="#1f77b4"/>
<rect x="378.19" y="641.15" width="2.9" height="2.9" rx="0.6" fill="#1f77b4"/>
<rect x="386.38" y="641.85" width="2.9" height="2.9" rx="0.6" fill="#1f77b4"/>
<rect x="394.56" y="643.65" width="2.9" height="2.9" rx="0.6" fill="#1f77b4"/>
<rect x="402.75" y="644.35" width="2.9" height="2.9" rx="0.6" fill="#1f77b4"/>
<rect x="410.94" y="645.85" width="2.9" height="2.9" rx="0.6" fill="#1f77b4"/>
<rect x="419.12" y="645.95" width="2.9" height="2.9" rx="0.6" fill="#1f77b4"/>
<rect x="427.31" y="646.55" width="2.9" height="2.9" rx="0.6" fill="#1f77b4"/>
<rect x="435.5" y="647.15" width="2.9" height="2.9" rx="0.6" fill="#1f77b4"/>
<rect x="443.69" y="647.61" width="2.9" height="2.9" rx="0.6" fill="#1f77b4"/>
<rect x="451.88" y="648.07" width="2.9" height="2.9" rx="0.6" fill="#1f77b4"/>
<rect x="460.06" y="648.53" width="2.9" height="2.9" rx="0.6" fill="#1f77b4"/>
<rect x="468.25" y="648.99" width="2.9" height="2.9" rx="0.6" fill="#1f77b4"/>
<rect x="476.44" y="649.45" width="2.9" height="2.9" rx="0.6" fill="#1f77b4"/>
<rect x="484.63" y="649.58" width="2.9" height="2.9" rx="0.6" fill="#1f77b4"/>
<rect x="492.81" y="649.71" width="2.9" height="2.9" rx="0.6" fill="#1f77b4"/>
<rect x="501" y="649.84" width="2.9" height="2.9" rx="0.6" fill="#1f77b4"/>
<rect x="509.19" y="649.96" width="2.9" height="2.9" rx="0.6" fill="#1f77b4"/>
<rect x="517.38" y="650.09" width="2.9" height="2.9" rx="0.6" fill="#1f77b4"/>
<rect x="525.56" y="650.22" width="2.9" height="2.9" rx="0.6" fill="#1f77b4"/>
<rect x="533.75" y="650.35" width="2.9" height="2.9" rx="0.6" fill="#1f77b4"/>
<polyline points="338.7,578.8 346.89,601.3 355.07,605.4 363.26,609.7 371.45,611.3 379.64,613.2 387.82,614.6 396.01,615.7 404.2,616.8 412.39,619.3 420.57,619.9 428.76,620.8 436.95,621.5 445.14,621.8 453.33,623 461.51,623 469.7,623.3 477.89,623.7 486.08,624.3 494.26,625 502.45,625 510.64,625.5 518.83,625.5 527.01,625.9 535.2,626.5" fill="none" stroke="#ff7f0e" stroke-width="0.5" stroke-opacity="0.75" stroke-dasharray="none" stroke-dashoffset="0"/>
<rect x="337.25" y="577.35" width="2.9" height="2.9" rx="0.6" fill="#ff7f0e"/>
<rect x="345.44" y="599.85" width="2.9" height="2.9" rx="0.6" fill="#ff7f0e"/>
<rect x="353.62" y="603.95" width="2.9" height="2.9" rx="0.6" fill="#ff7f0e"/>
<rect x="361.81" y="608.25" width="2.9" height="2.9" rx="0.6" fill="#ff7f0e"/>
<rect x="370" y="609.85" width="2.9" height="2.9" rx="0.6" fill="#ff7f0e"/>
<rect x="378.19" y="611.75" width="2.9" height="2.9" rx="0.6" fill="#ff7f0e"/>
<rect x="386.38" y="613.15" width="2.9" height="2.9" rx="0.6" fill="#ff7f0e"/>
<rect x="394.56" y="614.25" width="2.9" height="2.9" rx="0.6" fill="#ff7f0e"/>
<rect x="402.75" y="615.35" width="2.9" height="2.9" rx="0.6" fill="#ff7f0e"/>
<rect x="410.94" y="617.85" width="2.9" height="2.9" rx="0.6" fill="#ff7f0e"/>
<rect x="419.12" y="618.45" width="2.9" height="2.9" rx="0.6" fill="#ff7f0e"/>
<rect x="427.31" y="619.35" width="2.9" height="2.9" rx="0.6" fill="#ff7f0e"/>
<rect x="435.5" y="620.05" width="2.9" height="2.9" rx="0.6" fill="#ff7f0e"/>
<rect x="443.69" y="620.35" width="2.9" height="2.9" rx="0.6" fill="#ff7f0e"/>
<rect x="451.88" y="621.55" width="2.9" height="2.9" rx="0.6" fill="#ff7f0e"/>
<rect x="460.06" y="621.55" width="2.9" height="2.9" rx="0.6" fill="#ff7f0e"/>
<rect x="468.25" y="621.85" width="2.9" height="2.9" rx="0.6" fill="#ff7f0e"/>
<rect x="476.44" y="622.25" width="2.9" height="2.9" rx="0.6" fill="#ff7f0e"/>
<rect x="484.63" y="622.85" width="2.9" height="2.9" rx="0.6" fill="#ff7f0e"/>
<rect x="492.81" y="623.55" width="2.9" height="2.9" rx="0.6" fill="#ff7f0e"/>
<rect x="501" y="623.55" width="2.9" height="2.9" rx="0.6" fill="#ff7f0e"/>
<rect x="509.19" y="624.05" width="2.9" height="2.9" rx="0.6" fill="#ff7f0e"/>
<rect x="517.38" y="624.05" width="2.9" height="2.9" rx="0.6" fill="#ff7f0e"/>
<rect x="525.56" y="624.45" width="2.9" height="2.9" rx="0.6" fill="#ff7f0e"/>
<rect x="533.75" y="625.05" width="2.9" height="2.9" rx="0.6" fill="#ff7f0e"/>
<polyline points="338.7,589 346.89,639 355.07,643 363.26,646.5 371.45,649.5 379.64,652.1 387.82,654.3 396.01,655.3 404.2,656.8 412.39,657.9 420.57,658.5 428.76,659.3 436.95,660.4 445.14,661.4 453.33,662.5 461.51,662.8 469.7,663.3 477.89,663.53 486.08,663.77 494.26,664 502.45,664.23 510.64,664.47 518.83,664.7 527.01,665.2 535.2,665.5" fill="none" stroke="#2ca02c" stroke-width="0.5" stroke-opacity="0.75" stroke-dasharray="none" stroke-dashoffset="0"/>
<rect x="337.25" y="587.55" width="2.9" height="2.9" rx="0.6" fill="#2ca02c"/>
<rect x="345.44" y="637.55" width="2.9" height="2.9" rx="0.6" fill="#2ca02c"/>
<rect x="353.62" y="641.55" width="2.9" height="2.9" rx="0.6" fill="#2ca02c"/>
<rect x="361.81" y="645.05" width="2.9" height="2.9" rx="0.6" fill="#2ca02c"/>
<rect x="370" y="648.05" width="2.9" height="2.9" rx="0.6" fill="#2ca02c"/>
<rect x="378.19" y="650.65" width="2.9" height="2.9" rx="0.6" fill="#2ca02c"/>
<rect x="386.38" y="652.85" width="2.9" height="2.9" rx="0.6" fill="#2ca02c"/>
<rect x="394.56" y="653.85" width="2.9" height="2.9" rx="0.6" fill="#2ca02c"/>
<rect x="402.75" y="655.35" width="2.9" height="2.9" rx="0.6" fill="#2ca02c"/>
<rect x="410.94" y="656.45" width="2.9" height="2.9" rx="0.6" fill="#2ca02c"/>
<rect x="419.12" y="657.05" width="2.9" height="2.9" rx="0.6" fill="#2ca02c"/>
<rect x="427.31" y="657.85" width="2.9" height="2.9" rx="0.6" fill="#2ca02c"/>
<rect x="435.5" y="658.95" width="2.9" height="2.9" rx="0.6" fill="#2ca02c"/>
<rect x="443.69" y="659.95" width="2.9" height="2.9" rx="0.6" fill="#2ca02c"/>
<rect x="451.88" y="661.05" width="2.9" height="2.9" rx="0.6" fill="#2ca02c"/>
<rect x="460.06" y="661.35" width="2.9" height="2.9" rx="0.6" fill="#2ca02c"/>
<rect x="468.25" y="661.85" width="2.9" height="2.9" rx="0.6" fill="#2ca02c"/>
<rect x="476.44" y="662.08" width="2.9" height="2.9" rx="0.6" fill="#2ca02c"/>
<rect x="484.63" y="662.32" width="2.9" height="2.9" rx="0.6" fill="#2ca02c"/>
<rect x="492.81" y="662.55" width="2.9" height="2.9" rx="0.6" fill="#2ca02c"/>
<rect x="501" y="662.78" width="2.9" height="2.9" rx="0.6" fill="#2ca02c"/>
<rect x="509.19" y="663.02" width="2.9" height="2.9" rx="0.6" fill="#2ca02c"/>
<rect x="517.38" y="663.25" width="2.9" height="2.9" rx="0.6" fill="#2ca02c"/>
<rect x="525.56" y="663.75" width="2.9" height="2.9" rx="0.6" fill="#2ca02c"/>
<rect x="533.75" y="664.05" width="2.9" height="2.9" rx="0.6" fill="#2ca02c"/>
<polyline points="338.7,622.5 346.89,641.2 355.07,643.3 363.26,645 371.45,646.5 379.64,647 387.82,647.5 396.01,648 404.2,648.5 412.39,648.73 420.57,648.95 428.76,649.17 436.95,649.4 445.14,649.62 453.33,649.85 461.51,650.07 469.7,650.3 477.89,650.39 486.08,650.47 494.26,650.56 502.45,650.64 510.64,650.73 518.83,650.81 527.01,650.9 535.2,652.7" fill="none" stroke="#d62728" stroke-width="0.5" stroke-opacity="0.75" stroke-dasharray="none" stroke-dashoffset="0"/>
<rect x="337.25" y="621.05" width="2.9" height="2.9" rx="0.6" fill="#d62728"/>
<rect x="345.44" y="639.75" width="2.9" height="2.9" rx="0.6" fill="#d62728"/>
<rect x="353.62" y="641.85" width="2.9" height="2.9" rx="0.6" fill="#d62728"/>
<rect x="361.81" y="643.55" width="2.9" height="2.9" rx="0.6" fill="#d62728"/>
<rect x="370" y="645.05" width="2.9" height="2.9" rx="0.6" fill="#d62728"/>
<rect x="378.19" y="645.55" width="2.9" height="2.9" rx="0.6" fill="#d62728"/>
<rect x="386.38" y="646.05" width="2.9" height="2.9" rx="0.6" fill="#d62728"/>
<rect x="394.56" y="646.55" width="2.9" height="2.9" rx="0.6" fill="#d62728"/>
<rect x="402.75" y="647.05" width="2.9" height="2.9" rx="0.6" fill="#d62728"/>
<rect x="410.94" y="647.27" width="2.9" height="2.9" rx="0.6" fill="#d62728"/>
<rect x="419.12" y="647.5" width="2.9" height="2.9" rx="0.6" fill="#d62728"/>
<rect x="427.31" y="647.72" width="2.9" height="2.9" rx="0.6" fill="#d62728"/>
<rect x="435.5" y="647.95" width="2.9" height="2.9" rx="0.6" fill="#d62728"/>
<rect x="443.69" y="648.17" width="2.9" height="2.9" rx="0.6" fill="#d62728"/>
<rect x="451.88" y="648.4" width="2.9" height="2.9" rx="0.6" fill="#d62728"/>
<rect x="460.06" y="648.62" width="2.9" height="2.9" rx="0.6" fill="#d62728"/>
<rect x="468.25" y="648.85" width="2.9" height="2.9" rx="0.6" fill="#d62728"/>
<rect x="476.44" y="648.94" width="2.9" height="2.9" rx="0.6" fill="#d62728"/>
<rect x="484.63" y="649.02" width="2.9" height="2.9" rx="0.6" fill="#d62728"/>
<rect x="492.81" y="649.11" width="2.9" height="2.9" rx="0.6" fill="#d62728"/>
<rect x="501" y="649.19" width="2.9" height="2.9" rx="0.6" fill="#d62728"/>
<rect x="509.19" y="649.28" width="2.9" height="2.9" rx="0.6" fill="#d62728"/>
<rect x="517.38" y="649.36" width="2.9" height="2.9" rx="0.6" fill="#d62728"/>
<rect x="525.56" y="649.45" width="2.9" height="2.9" rx="0.6" fill="#d62728"/>
<rect x="533.75" y="651.25" width="2.9" height="2.9" rx="0.6" fill="#d62728"/>
<polyline points="338.7,628.4 346.89,645.3 355.07,645.29 363.26,645.28 371.45,645.27 379.64,645.27 387.82,645.26 396.01,645.25 404.2,645.24 412.39,645.23 420.57,645.22 428.76,645.21 436.95,645.2 445.14,645.2 453.33,645.19 461.51,645.18 469.7,645.17 477.89,645.16 486.08,645.15 494.26,645.14 502.45,645.13 510.64,645.13 518.83,645.12 527.01,645.11 535.2,645.1" fill="none" stroke="#9467bd" stroke-width="0.5" stroke-opacity="0.75" stroke-dasharray="none" stroke-dashoffset="0"/>
<rect x="337.25" y="626.95" width="2.9" height="2.9" rx="0.6" fill="#9467bd"/>
<rect x="345.44" y="643.85" width="2.9" height="2.9" rx="0.6" fill="#9467bd"/>
<rect x="353.62" y="643.84" width="2.9" height="2.9" rx="0.6" fill="#9467bd"/>
<rect x="361.81" y="643.83" width="2.9" height="2.9" rx="0.6" fill="#9467bd"/>
<rect x="370" y="643.82" width="2.9" height="2.9" rx="0.6" fill="#9467bd"/>
<rect x="378.19" y="643.82" width="2.9" height="2.9" rx="0.6" fill="#9467bd"/>
<rect x="386.38" y="643.81" width="2.9" height="2.9" rx="0.6" fill="#9467bd"/>
<rect x="394.56" y="643.8" width="2.9" height="2.9" rx="0.6" fill="#9467bd"/>
<rect x="402.75" y="643.79" width="2.9" height="2.9" rx="0.6" fill="#9467bd"/>
<rect x="410.94" y="643.78" width="2.9" height="2.9" rx="0.6" fill="#9467bd"/>
<rect x="419.12" y="643.77" width="2.9" height="2.9" rx="0.6" fill="#9467bd"/>
<rect x="427.31" y="643.76" width="2.9" height="2.9" rx="0.6" fill="#9467bd"/>
<rect x="435.5" y="643.75" width="2.9" height="2.9" rx="0.6" fill="#9467bd"/>
<rect x="443.69" y="643.75" width="2.9" height="2.9" rx="0.6" fill="#9467bd"/>
<rect x="451.88" y="643.74" width="2.9" height="2.9" rx="0.6" fill="#9467bd"/>
<rect x="460.06" y="643.73" width="2.9" height="2.9" rx="0.6" fill="#9467bd"/>
<rect x="468.25" y="643.72" width="2.9" height="2.9" rx="0.6" fill="#9467bd"/>
<rect x="476.44" y="643.71" width="2.9" height="2.9" rx="0.6" fill="#9467bd"/>
<rect x="484.63" y="643.7" width="2.9" height="2.9" rx="0.6" fill="#9467bd"/>
<rect x="492.81" y="643.69" width="2.9" height="2.9" rx="0.6" fill="#9467bd"/>
<rect x="501" y="643.68" width="2.9" height="2.9" rx="0.6" fill="#9467bd"/>
<rect x="509.19" y="643.68" width="2.9" height="2.9" rx="0.6" fill="#9467bd"/>
<rect x="517.38" y="643.67" width="2.9" height="2.9" rx="0.6" fill="#9467bd"/>
<rect x="525.56" y="643.66" width="2.9" height="2.9" rx="0.6" fill="#9467bd"/>
<rect x="533.75" y="643.65" width="2.9" height="2.9" rx="0.6" fill="#9467bd"/>
<polyline points="338.7,599.2 346.89,663.7 355.07,668.4 363.26,670.1 371.45,670.5 379.64,671 387.82,671.3 396.01,671.6 404.2,671.65 412.39,671.7 420.57,671.72 428.76,671.74 436.95,671.76 445.14,671.78 453.33,671.8 461.51,671.82 469.7,671.84 477.89,671.86 486.08,671.88 494.26,671.9 502.45,671.92 510.64,671.94 518.83,671.96 527.01,671.98 535.2,672" fill="none" stroke="#ff0000" stroke-width="0.75" stroke-opacity="0.9"/>
<rect x="337.13" y="597.63" width="3.13" height="3.13" rx="0.6" fill="#ff0000"/>
<rect x="345.32" y="662.13" width="3.13" height="3.13" rx="0.6" fill="#ff0000"/>
<rect x="353.51" y="666.83" width="3.13" height="3.13" rx="0.6" fill="#ff0000"/>
<rect x="361.7" y="668.53" width="3.13" height="3.13" rx="0.6" fill="#ff0000"/>
<rect x="369.88" y="668.93" width="3.13" height="3.13" rx="0.6" fill="#ff0000"/>
<rect x="378.07" y="669.43" width="3.13" height="3.13" rx="0.6" fill="#ff0000"/>
<rect x="386.26" y="669.73" width="3.13" height="3.13" rx="0.6" fill="#ff0000"/>
<rect x="394.45" y="670.03" width="3.13" height="3.13" rx="0.6" fill="#ff0000"/>
<rect x="402.63" y="670.08" width="3.13" height="3.13" rx="0.6" fill="#ff0000"/>
<rect x="410.82" y="670.13" width="3.13" height="3.13" rx="0.6" fill="#ff0000"/>
<rect x="419.01" y="670.15" width="3.13" height="3.13" rx="0.6" fill="#ff0000"/>
<rect x="427.2" y="670.17" width="3.13" height="3.13" rx="0.6" fill="#ff0000"/>
<rect x="435.38" y="670.19" width="3.13" height="3.13" rx="0.6" fill="#ff0000"/>
<rect x="443.57" y="670.21" width="3.13" height="3.13" rx="0.6" fill="#ff0000"/>
<rect x="451.76" y="670.23" width="3.13" height="3.13" rx="0.6" fill="#ff0000"/>
<rect x="459.95" y="670.25" width="3.13" height="3.13" rx="0.6" fill="#ff0000"/>
<rect x="468.13" y="670.27" width="3.13" height="3.13" rx="0.6" fill="#ff0000"/>
<rect x="476.32" y="670.29" width="3.13" height="3.13" rx="0.6" fill="#ff0000"/>
<rect x="484.51" y="670.31" width="3.13" height="3.13" rx="0.6" fill="#ff0000"/>
<rect x="492.7" y="670.33" width="3.13" height="3.13" rx="0.6" fill="#ff0000"/>
<rect x="500.88" y="670.35" width="3.13" height="3.13" rx="0.6" fill="#ff0000"/>
<rect x="509.07" y="670.37" width="3.13" height="3.13" rx="0.6" fill="#ff0000"/>
<rect x="517.26" y="670.39" width="3.13" height="3.13" rx="0.6" fill="#ff0000"/>
<rect x="525.45" y="670.41" width="3.13" height="3.13" rx="0.6" fill="#ff0000"/>
<rect x="533.63" y="670.43" width="3.13" height="3.13" rx="0.6" fill="#ff0000"/>
<polyline points="338.7,557.3 346.89,557.3 355.07,587.4 363.26,587.4 371.45,587.4 379.64,587.4 387.82,587.4 396.01,587.4 404.2,632.2 412.39,639.7 420.57,639.7 428.76,643.6 436.95,646.3 445.14,649.2 453.33,650.2 461.51,650.24 469.7,650.28 477.89,650.32 486.08,650.36 494.26,650.4 502.45,650.44 510.64,650.48 518.83,650.52 527.01,650.56 535.2,650.6" fill="none" stroke="#8c564b" stroke-width="0.5" stroke-opacity="0.75" stroke-dasharray="none" stroke-dashoffset="0"/>
<rect x="337.25" y="555.85" width="2.9" height="2.9" rx="0.6" fill="#8c564b"/>
<rect x="345.44" y="555.85" width="2.9" height="2.9" rx="0.6" fill="#8c564b"/>
<rect x="353.62" y="585.95" width="2.9" height="2.9" rx="0.6" fill="#8c564b"/>
<rect x="361.81" y="585.95" width="2.9" height="2.9" rx="0.6" fill="#8c564b"/>
<rect x="370" y="585.95" width="2.9" height="2.9" rx="0.6" fill="#8c564b"/>
<rect x="378.19" y="585.95" width="2.9" height="2.9" rx="0.6" fill="#8c564b"/>
<rect x="386.38" y="585.95" width="2.9" height="2.9" rx="0.6" fill="#8c564b"/>
<rect x="394.56" y="585.95" width="2.9" height="2.9" rx="0.6" fill="#8c564b"/>
<rect x="402.75" y="630.75" width="2.9" height="2.9" rx="0.6" fill="#8c564b"/>
<rect x="410.94" y="638.25" width="2.9" height="2.9" rx="0.6" fill="#8c564b"/>
<rect x="419.12" y="638.25" width="2.9" height="2.9" rx="0.6" fill="#8c564b"/>
<rect x="427.31" y="642.15" width="2.9" height="2.9" rx="0.6" fill="#8c564b"/>
<rect x="435.5" y="644.85" width="2.9" height="2.9" rx="0.6" fill="#8c564b"/>
<rect x="443.69" y="647.75" width="2.9" height="2.9" rx="0.6" fill="#8c564b"/>
<rect x="451.88" y="648.75" width="2.9" height="2.9" rx="0.6" fill="#8c564b"/>
<rect x="460.06" y="648.79" width="2.9" height="2.9" rx="0.6" fill="#8c564b"/>
<rect x="468.25" y="648.83" width="2.9" height="2.9" rx="0.6" fill="#8c564b"/>
<rect x="476.44" y="648.87" width="2.9" height="2.9" rx="0.6" fill="#8c564b"/>
<rect x="484.63" y="648.91" width="2.9" height="2.9" rx="0.6" fill="#8c564b"/>
<rect x="492.81" y="648.95" width="2.9" height="2.9" rx="0.6" fill="#8c564b"/>
<rect x="501" y="648.99" width="2.9" height="2.9" rx="0.6" fill="#8c564b"/>
<rect x="509.19" y="649.03" width="2.9" height="2.9" rx="0.6" fill="#8c564b"/>
<rect x="517.38" y="649.07" width="2.9" height="2.9" rx="0.6" fill="#8c564b"/>
<rect x="525.56" y="649.11" width="2.9" height="2.9" rx="0.6" fill="#8c564b"/>
<rect x="533.75" y="649.15" width="2.9" height="2.9" rx="0.6" fill="#8c564b"/>
<polyline points="338.7,568.5 346.89,647.7 355.07,649.2 363.26,650.5 371.45,655 379.64,659.6 387.82,659.9 396.01,660.15 404.2,660.4 412.39,660.42 420.57,660.45 428.76,660.48 436.95,660.5 445.14,660.52 453.33,660.55 461.51,660.57 469.7,660.6 477.89,660.62 486.08,660.65 494.26,660.67 502.45,660.7 510.64,660.72 518.83,660.75 527.01,660.77 535.2,660.8" fill="none" stroke="#e377c2" stroke-width="0.5" stroke-opacity="0.75" stroke-dasharray="none" stroke-dashoffset="0"/>
<rect x="337.25" y="567.05" width="2.9" height="2.9" rx="0.6" fill="#e377c2"/>
<rect x="345.44" y="646.25" width="2.9" height="2.9" rx="0.6" fill="#e377c2"/>
<rect x="353.62" y="647.75" width="2.9" height="2.9" rx="0.6" fill="#e377c2"/>
<rect x="361.81" y="649.05" width="2.9" height="2.9" rx="0.6" fill="#e377c2"/>
<rect x="370" y="653.55" width="2.9" height="2.9" rx="0.6" fill="#e377c2"/>
<rect x="378.19" y="658.15" width="2.9" height="2.9" rx="0.6" fill="#e377c2"/>
<rect x="386.38" y="658.45" width="2.9" height="2.9" rx="0.6" fill="#e377c2"/>
<rect x="394.56" y="658.7" width="2.9" height="2.9" rx="0.6" fill="#e377c2"/>
<rect x="402.75" y="658.95" width="2.9" height="2.9" rx="0.6" fill="#e377c2"/>
<rect x="410.94" y="658.97" width="2.9" height="2.9" rx="0.6" fill="#e377c2"/>
<rect x="419.12" y="659" width="2.9" height="2.9" rx="0.6" fill="#e377c2"/>
<rect x="427.31" y="659.02" width="2.9" height="2.9" rx="0.6" fill="#e377c2"/>
<rect x="435.5" y="659.05" width="2.9" height="2.9" rx="0.6" fill="#e377c2"/>
<rect x="443.69" y="659.07" width="2.9" height="2.9" rx="0.6" fill="#e377c2"/>
<rect x="451.88" y="659.1" width="2.9" height="2.9" rx="0.6" fill="#e377c2"/>
<rect x="460.06" y="659.12" width="2.9" height="2.9" rx="0.6" fill="#e377c2"/>
<rect x="468.25" y="659.15" width="2.9" height="2.9" rx="0.6" fill="#e377c2"/>
<rect x="476.44" y="659.17" width="2.9" height="2.9" rx="0.6" fill="#e377c2"/>
<rect x="484.63" y="659.2" width="2.9" height="2.9" rx="0.6" fill="#e377c2"/>
<rect x="492.81" y="659.22" width="2.9" height="2.9" rx="0.6" fill="#e377c2"/>
<rect x="501" y="659.25" width="2.9" height="2.9" rx="0.6" fill="#e377c2"/>
<rect x="509.19" y="659.27" width="2.9" height="2.9" rx="0.6" fill="#e377c2"/>
<rect x="517.38" y="659.3" width="2.9" height="2.9" rx="0.6" fill="#e377c2"/>
<rect x="525.56" y="659.32" width="2.9" height="2.9" rx="0.6" fill="#e377c2"/>
<rect x="533.75" y="659.35" width="2.9" height="2.9" rx="0.6" fill="#e377c2"/>
<polyline points="338.7,574.4 346.89,645.4 355.07,645.4 363.26,646.5 371.45,647 379.64,647.3 387.82,647.7 396.01,648 404.2,648.6 412.39,648.83 420.57,649.05 428.76,649.27 436.95,649.5 445.14,649.53 453.33,649.57 461.51,649.6 469.7,649.63 477.89,649.67 486.08,649.7 494.26,649.73 502.45,649.77 510.64,649.8 518.83,649.83 527.01,649.87 535.2,649.9" fill="none" stroke="#7f7f7f" stroke-width="0.5" stroke-opacity="0.75" stroke-dasharray="none" stroke-dashoffset="0"/>
<rect x="337.25" y="572.95" width="2.9" height="2.9" rx="0.6" fill="#7f7f7f"/>
<rect x="345.44" y="643.95" width="2.9" height="2.9" rx="0.6" fill="#7f7f7f"/>
<rect x="353.62" y="643.95" width="2.9" height="2.9" rx="0.6" fill="#7f7f7f"/>
<rect x="361.81" y="645.05" width="2.9" height="2.9" rx="0.6" fill="#7f7f7f"/>
<rect x="370" y="645.55" width="2.9" height="2.9" rx="0.6" fill="#7f7f7f"/>
<rect x="378.19" y="645.85" width="2.9" height="2.9" rx="0.6" fill="#7f7f7f"/>
<rect x="386.38" y="646.25" width="2.9" height="2.9" rx="0.6" fill="#7f7f7f"/>
<rect x="394.56" y="646.55" width="2.9" height="2.9" rx="0.6" fill="#7f7f7f"/>
<rect x="402.75" y="647.15" width="2.9" height="2.9" rx="0.6" fill="#7f7f7f"/>
<rect x="410.94" y="647.38" width="2.9" height="2.9" rx="0.6" fill="#7f7f7f"/>
<rect x="419.12" y="647.6" width="2.9" height="2.9" rx="0.6" fill="#7f7f7f"/>
<rect x="427.31" y="647.82" width="2.9" height="2.9" rx="0.6" fill="#7f7f7f"/>
<rect x="435.5" y="648.05" width="2.9" height="2.9" rx="0.6" fill="#7f7f7f"/>
<rect x="443.69" y="648.08" width="2.9" height="2.9" rx="0.6" fill="#7f7f7f"/>
<rect x="451.88" y="648.12" width="2.9" height="2.9" rx="0.6" fill="#7f7f7f"/>
<rect x="460.06" y="648.15" width="2.9" height="2.9" rx="0.6" fill="#7f7f7f"/>
<rect x="468.25" y="648.18" width="2.9" height="2.9" rx="0.6" fill="#7f7f7f"/>
<rect x="476.44" y="648.22" width="2.9" height="2.9" rx="0.6" fill="#7f7f7f"/>
<rect x="484.63" y="648.25" width="2.9" height="2.9" rx="0.6" fill="#7f7f7f"/>
<rect x="492.81" y="648.28" width="2.9" height="2.9" rx="0.6" fill="#7f7f7f"/>
<rect x="501" y="648.32" width="2.9" height="2.9" rx="0.6" fill="#7f7f7f"/>
<rect x="509.19" y="648.35" width="2.9" height="2.9" rx="0.6" fill="#7f7f7f"/>
<rect x="517.38" y="648.38" width="2.9" height="2.9" rx="0.6" fill="#7f7f7f"/>
<rect x="525.56" y="648.42" width="2.9" height="2.9" rx="0.6" fill="#7f7f7f"/>
<rect x="533.75" y="648.45" width="2.9" height="2.9" rx="0.6" fill="#7f7f7f"/>
<rect x="328.3" y="551.5" width="216.3" height="126.4" class="frame"/>
<line x1="338.7" y1="677.9" x2="338.7" y2="679.3" class="tick"/>
<text x="338.7" y="684.4" class="tl" style="font-size:4.75px" text-anchor="middle">0</text>
<line x1="378" y1="677.9" x2="378" y2="679.3" class="tick"/>
<text x="378" y="684.4" class="tl" style="font-size:4.75px" text-anchor="middle">100</text>
<line x1="417.3" y1="677.9" x2="417.3" y2="679.3" class="tick"/>
<text x="417.3" y="684.4" class="tl" style="font-size:4.75px" text-anchor="middle">200</text>
<line x1="456.6" y1="677.9" x2="456.6" y2="679.3" class="tick"/>
<text x="456.6" y="684.4" class="tl" style="font-size:4.75px" text-anchor="middle">300</text>
<line x1="495.9" y1="677.9" x2="495.9" y2="679.3" class="tick"/>
<text x="495.9" y="684.4" class="tl" style="font-size:4.75px" text-anchor="middle">400</text>
<line x1="535.2" y1="677.9" x2="535.2" y2="679.3" class="tick"/>
<text x="535.2" y="684.4" class="tl" style="font-size:4.75px" text-anchor="middle">500</text>
<line x1="326.9" y1="562.4" x2="328.3" y2="562.4" class="tick"/>
<text x="326.1" y="564" class="tl" style="font-size:4.4px" text-anchor="end">9.2 × 10<tspan class="sup" dy="-1.8">4</tspan></text>
<line x1="326.9" y1="580.77" x2="328.3" y2="580.77" class="tick"/>
<text x="326.1" y="582.37" class="tl" style="font-size:4.4px" text-anchor="end">9 × 10<tspan class="sup" dy="-1.8">4</tspan></text>
<line x1="326.9" y1="599.56" x2="328.3" y2="599.56" class="tick"/>
<text x="326.1" y="601.16" class="tl" style="font-size:4.4px" text-anchor="end">8.8 × 10<tspan class="sup" dy="-1.8">4</tspan></text>
<line x1="326.9" y1="618.78" x2="328.3" y2="618.78" class="tick"/>
<text x="326.1" y="620.38" class="tl" style="font-size:4.4px" text-anchor="end">8.6 × 10<tspan class="sup" dy="-1.8">4</tspan></text>
<line x1="326.9" y1="638.45" x2="328.3" y2="638.45" class="tick"/>
<text x="326.1" y="640.05" class="tl" style="font-size:4.4px" text-anchor="end">8.4 × 10<tspan class="sup" dy="-1.8">4</tspan></text>
<line x1="326.9" y1="658.6" x2="328.3" y2="658.6" class="tick"/>
<text x="326.1" y="660.2" class="tl" style="font-size:4.4px" text-anchor="end">8.2 × 10<tspan class="sup" dy="-1.8">4</tspan></text>
<text x="436.45" y="690.1" class="al" style="font-size:4.45px" text-anchor="middle">Iteration</text>
<text transform="translate(305.6,614.7) rotate(-90)" class="al" style="font-size:4.2px" text-anchor="middle" dy="1.4">Average Fitness Value</text>
<rect x="512.4" y="552.6" width="31" height="54" rx="0.8" class="leg"/>
<line x1="513.3" y1="556.7" x2="521.9" y2="556.7" stroke="#1f77b4" stroke-width="0.5" stroke-opacity="0.75"/>
<rect x="516.15" y="555.25" width="2.9" height="2.9" rx="0.6" fill="#1f77b4"/>
<text x="524.8" y="558.18" class="lt" style="font-size:4.1px">WOA</text>
<line x1="513.3" y1="562.4" x2="521.9" y2="562.4" stroke="#ff7f0e" stroke-width="0.5" stroke-opacity="0.75"/>
<rect x="516.15" y="560.95" width="2.9" height="2.9" rx="0.6" fill="#ff7f0e"/>
<text x="524.8" y="563.88" class="lt" style="font-size:4.1px">CSA</text>
<line x1="513.3" y1="568.1" x2="521.9" y2="568.1" stroke="#2ca02c" stroke-width="0.5" stroke-opacity="0.75"/>
<rect x="516.15" y="566.65" width="2.9" height="2.9" rx="0.6" fill="#2ca02c"/>
<text x="524.8" y="569.58" class="lt" style="font-size:4.1px">HHO</text>
<line x1="513.3" y1="573.8" x2="521.9" y2="573.8" stroke="#d62728" stroke-width="0.5" stroke-opacity="0.75"/>
<rect x="516.15" y="572.35" width="2.9" height="2.9" rx="0.6" fill="#d62728"/>
<text x="524.8" y="575.28" class="lt" style="font-size:4.1px">EHO</text>
<line x1="513.3" y1="579.5" x2="521.9" y2="579.5" stroke="#9467bd" stroke-width="0.5" stroke-opacity="0.75"/>
<rect x="516.15" y="578.05" width="2.9" height="2.9" rx="0.6" fill="#9467bd"/>
<text x="524.8" y="580.98" class="lt" style="font-size:4.1px">BES</text>
<line x1="513.3" y1="585.2" x2="521.9" y2="585.2" stroke="#ff0000" stroke-width="0.5" stroke-opacity="0.75"/>
<rect x="516.15" y="583.75" width="2.9" height="2.9" rx="0.6" fill="#ff0000"/>
<text x="524.8" y="586.68" class="lt" style="font-size:4.1px">ImWOA</text>
<line x1="513.3" y1="590.9" x2="521.9" y2="590.9" stroke="#8c564b" stroke-width="0.5" stroke-opacity="0.75"/>
<rect x="516.15" y="589.45" width="2.9" height="2.9" rx="0.6" fill="#8c564b"/>
<text x="524.8" y="592.38" class="lt" style="font-size:4.1px">ImWOA1</text>
<line x1="513.3" y1="596.6" x2="521.9" y2="596.6" stroke="#e377c2" stroke-width="0.5" stroke-opacity="0.75"/>
<rect x="516.15" y="595.15" width="2.9" height="2.9" rx="0.6" fill="#e377c2"/>
<text x="524.8" y="598.08" class="lt" style="font-size:4.1px">ImWOA2</text>
<line x1="513.3" y1="602.3" x2="521.9" y2="602.3" stroke="#7f7f7f" stroke-width="0.5" stroke-opacity="0.75"/>
<rect x="516.15" y="600.85" width="2.9" height="2.9" rx="0.6" fill="#7f7f7f"/>
<text x="524.8" y="603.78" class="lt" style="font-size:4.1px">ImWOA3</text>
<text x="424.9" y="705.5" class="cap" text-anchor="middle">F8</text>
</svg></body></html>
